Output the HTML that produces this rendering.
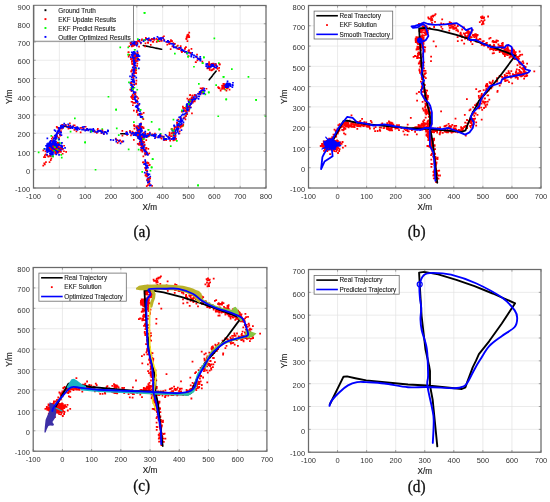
<!DOCTYPE html>
<html><head><meta charset="utf-8"><style>
html,body{margin:0;padding:0;background:#fff;}
svg{display:block;}
#w{width:550px;height:502px;}
.tk{font-family:"Liberation Sans",Arial,sans-serif;font-size:7.5px;fill:#333;}
.al{font-family:"Liberation Sans",Arial,sans-serif;font-size:8.2px;fill:#1a1a1a;stroke:#1a1a1a;stroke-width:0.15px;}
.lg{font-family:"Liberation Sans",Arial,sans-serif;font-size:6.4px;fill:#222;stroke:#222;stroke-width:0.1px;}
.cap{font-family:"Liberation Serif","Times New Roman",serif;font-size:15.3px;fill:#111;stroke:#111;stroke-width:0.3px;}
</style></head><body><div id="w">
<svg width="550" height="502" viewBox="0 0 550 502">
<rect width="550" height="502" fill="#fff"/>
<line x1="59.33" y1="5.50" x2="59.33" y2="188.00" stroke="#e2e2e2" stroke-width="0.7"/>
<line x1="85.17" y1="5.50" x2="85.17" y2="188.00" stroke="#e2e2e2" stroke-width="0.7"/>
<line x1="111.00" y1="5.50" x2="111.00" y2="188.00" stroke="#e2e2e2" stroke-width="0.7"/>
<line x1="136.83" y1="5.50" x2="136.83" y2="188.00" stroke="#e2e2e2" stroke-width="0.7"/>
<line x1="162.67" y1="5.50" x2="162.67" y2="188.00" stroke="#e2e2e2" stroke-width="0.7"/>
<line x1="188.50" y1="5.50" x2="188.50" y2="188.00" stroke="#e2e2e2" stroke-width="0.7"/>
<line x1="214.33" y1="5.50" x2="214.33" y2="188.00" stroke="#e2e2e2" stroke-width="0.7"/>
<line x1="240.17" y1="5.50" x2="240.17" y2="188.00" stroke="#e2e2e2" stroke-width="0.7"/>
<line x1="33.50" y1="169.75" x2="266.00" y2="169.75" stroke="#e2e2e2" stroke-width="0.7"/>
<line x1="33.50" y1="151.50" x2="266.00" y2="151.50" stroke="#e2e2e2" stroke-width="0.7"/>
<line x1="33.50" y1="133.25" x2="266.00" y2="133.25" stroke="#e2e2e2" stroke-width="0.7"/>
<line x1="33.50" y1="115.00" x2="266.00" y2="115.00" stroke="#e2e2e2" stroke-width="0.7"/>
<line x1="33.50" y1="96.75" x2="266.00" y2="96.75" stroke="#e2e2e2" stroke-width="0.7"/>
<line x1="33.50" y1="78.50" x2="266.00" y2="78.50" stroke="#e2e2e2" stroke-width="0.7"/>
<line x1="33.50" y1="60.25" x2="266.00" y2="60.25" stroke="#e2e2e2" stroke-width="0.7"/>
<line x1="33.50" y1="42.00" x2="266.00" y2="42.00" stroke="#e2e2e2" stroke-width="0.7"/>
<line x1="33.50" y1="23.75" x2="266.00" y2="23.75" stroke="#e2e2e2" stroke-width="0.7"/>
<polyline points="143.3,45.5 161.6,49.3" fill="none" stroke="#000" stroke-width="1.6" stroke-linejoin="round" stroke-linecap="round" stroke-dasharray="2.2 0.8"/>
<polyline points="209.2,79.8 216.4,70.7" fill="none" stroke="#000" stroke-width="1.6" stroke-linejoin="round" stroke-linecap="round" stroke-dasharray="2.2 0.8"/>
<polyline points="120.8,133.7 126.0,133.9" fill="none" stroke="#000" stroke-width="1.6" stroke-linejoin="round" stroke-linecap="round" stroke-dasharray="2.2 0.8"/>
<polyline points="64.0,126.3 71.0,127.2" fill="none" stroke="#000" stroke-width="1.6" stroke-linejoin="round" stroke-linecap="round" stroke-dasharray="2.2 0.8"/>
<path d="M202.3 91.3h1.7v1.7h-1.7zM179.3 121.7h1.7v1.7h-1.7zM175.4 128.8h1.7v1.7h-1.7zM172.7 129.9h1.7v1.7h-1.7zM171.8 131.6h1.7v1.7h-1.7zM179.7 117.2h1.7v1.7h-1.7zM187.9 103.1h1.7v1.7h-1.7zM176.0 140.1h1.7v1.7h-1.7zM172.6 118.7h1.7v1.7h-1.7zM171.1 128.6h1.7v1.7h-1.7zM178.3 123.6h1.7v1.7h-1.7zM172.5 134.1h1.7v1.7h-1.7zM181.1 109.8h1.7v1.7h-1.7zM218.0 62.3h1.7v1.7h-1.7zM142.0 117.5h1.7v1.7h-1.7zM143.7 39.0h1.7v1.7h-1.7zM69.7 130.8h1.7v1.7h-1.7zM128.1 81.5h1.7v1.7h-1.7zM139.6 109.1h1.7v1.7h-1.7zM149.6 169.9h1.7v1.7h-1.7zM137.0 38.2h1.7v1.7h-1.7zM189.1 99.8h1.7v1.7h-1.7zM119.4 46.5h1.7v1.7h-1.7zM52.2 146.2h1.7v1.7h-1.7zM207.9 91.5h1.7v1.7h-1.7zM136.4 88.9h1.7v1.7h-1.7zM133.6 86.9h1.7v1.7h-1.7zM157.1 40.0h1.7v1.7h-1.7zM204.5 93.5h1.7v1.7h-1.7zM182.4 124.7h1.7v1.7h-1.7zM133.9 48.9h1.7v1.7h-1.7zM215.3 84.2h1.7v1.7h-1.7zM162.9 136.6h1.7v1.7h-1.7zM90.5 130.5h1.7v1.7h-1.7zM130.4 86.9h1.7v1.7h-1.7zM150.2 134.1h1.7v1.7h-1.7zM187.3 55.7h1.7v1.7h-1.7zM101.4 128.2h1.7v1.7h-1.7zM159.9 132.9h1.7v1.7h-1.7zM151.8 158.2h1.7v1.7h-1.7zM115.9 127.5h1.7v1.7h-1.7zM58.2 138.0h1.7v1.7h-1.7zM150.8 166.5h1.7v1.7h-1.7zM184.8 114.4h1.7v1.7h-1.7zM146.4 135.7h1.7v1.7h-1.7zM132.1 88.2h1.7v1.7h-1.7zM175.8 45.4h1.7v1.7h-1.7zM50.5 135.0h1.7v1.7h-1.7zM127.5 53.8h1.7v1.7h-1.7zM135.6 67.8h1.7v1.7h-1.7zM150.8 121.1h1.7v1.7h-1.7zM222.7 76.1h1.7v1.7h-1.7zM185.3 105.7h1.7v1.7h-1.7zM127.4 46.6h1.7v1.7h-1.7zM142.7 138.2h1.7v1.7h-1.7zM224.4 88.8h1.7v1.7h-1.7zM148.3 178.7h1.7v1.7h-1.7zM52.3 155.6h1.7v1.7h-1.7zM43.4 148.1h1.7v1.7h-1.7zM60.4 154.0h1.7v1.7h-1.7zM53.9 146.2h1.7v1.7h-1.7zM49.9 155.3h1.7v1.7h-1.7zM57.7 138.9h1.7v1.7h-1.7zM53.2 149.9h1.7v1.7h-1.7zM58.4 141.7h1.7v1.7h-1.7zM50.3 149.1h1.7v1.7h-1.7zM56.8 148.9h1.7v1.7h-1.7zM60.9 156.7h1.7v1.7h-1.7zM60.3 142.3h1.7v1.7h-1.7zM186.4 52.3h1.7v1.7h-1.7zM231.0 68.3h1.7v1.7h-1.7zM188.5 108.3h1.7v1.7h-1.7zM158.5 128.6h1.7v1.7h-1.7zM137.8 148.8h1.7v1.7h-1.7zM247.6 76.1h1.7v1.7h-1.7zM201.8 62.3h1.7v1.7h-1.7zM133.0 121.3h1.7v1.7h-1.7zM66.9 136.6h1.7v1.7h-1.7zM225.4 98.6h1.7v1.7h-1.7zM169.9 145.3h1.7v1.7h-1.7zM132.3 78.7h1.7v1.7h-1.7zM203.0 56.6h1.7v1.7h-1.7zM174.0 52.7h1.7v1.7h-1.7zM193.1 65.9h1.7v1.7h-1.7zM147.6 128.9h1.7v1.7h-1.7zM127.8 148.5h1.7v1.7h-1.7zM141.4 171.1h1.7v1.7h-1.7zM255.3 99.0h1.7v1.7h-1.7zM264.6 115.4h1.7v1.7h-1.7zM217.4 115.4h1.7v1.7h-1.7zM197.2 184.6h1.7v1.7h-1.7zM107.6 95.9h1.7v1.7h-1.7zM74.0 117.6h1.7v1.7h-1.7zM143.7 12.0h1.7v1.7h-1.7zM94.7 168.9h1.7v1.7h-1.7zM37.8 151.6h1.7v1.7h-1.7zM115.3 108.7h1.7v1.7h-1.7zM117.9 134.2h1.7v1.7h-1.7zM213.5 37.5h1.7v1.7h-1.7zM84.3 141.5h1.7v1.7h-1.7zM198.0 83.1h1.7v1.7h-1.7z" fill="#0f0"/>
<path d="M57.6 145.9h1.7v1.7h-1.7zM44.7 150.6h1.7v1.7h-1.7zM55.1 146.8h1.7v1.7h-1.7zM54.3 145.2h1.7v1.7h-1.7zM53.7 142.3h1.7v1.7h-1.7zM50.5 148.4h1.7v1.7h-1.7zM54.5 144.9h1.7v1.7h-1.7zM56.5 142.6h1.7v1.7h-1.7zM51.0 143.6h1.7v1.7h-1.7zM55.1 150.4h1.7v1.7h-1.7zM52.5 140.7h1.7v1.7h-1.7zM56.5 148.6h1.7v1.7h-1.7zM42.5 149.5h1.7v1.7h-1.7zM50.0 146.9h1.7v1.7h-1.7zM63.2 144.9h1.7v1.7h-1.7zM54.4 150.1h1.7v1.7h-1.7zM47.8 147.8h1.7v1.7h-1.7zM51.0 137.9h1.7v1.7h-1.7zM51.3 149.1h1.7v1.7h-1.7zM58.0 146.9h1.7v1.7h-1.7zM47.6 143.2h1.7v1.7h-1.7zM51.7 151.3h1.7v1.7h-1.7zM54.5 145.7h1.7v1.7h-1.7zM51.6 145.0h1.7v1.7h-1.7zM56.7 149.9h1.7v1.7h-1.7zM44.0 154.6h1.7v1.7h-1.7zM52.5 143.4h1.7v1.7h-1.7zM57.5 142.9h1.7v1.7h-1.7zM61.2 147.1h1.7v1.7h-1.7zM57.7 151.9h1.7v1.7h-1.7zM56.1 146.0h1.7v1.7h-1.7zM52.6 148.6h1.7v1.7h-1.7zM48.2 146.7h1.7v1.7h-1.7zM58.7 148.3h1.7v1.7h-1.7zM55.4 149.2h1.7v1.7h-1.7zM54.2 150.3h1.7v1.7h-1.7zM54.7 147.9h1.7v1.7h-1.7zM54.4 149.1h1.7v1.7h-1.7zM47.9 148.2h1.7v1.7h-1.7zM57.6 142.3h1.7v1.7h-1.7zM49.9 159.3h1.7v1.7h-1.7zM49.7 155.1h1.7v1.7h-1.7zM48.9 154.9h1.7v1.7h-1.7zM47.3 155.5h1.7v1.7h-1.7zM50.5 157.5h1.7v1.7h-1.7zM44.4 156.4h1.7v1.7h-1.7zM48.7 161.2h1.7v1.7h-1.7zM46.4 154.5h1.7v1.7h-1.7zM47.8 155.9h1.7v1.7h-1.7zM44.9 153.6h1.7v1.7h-1.7zM54.7 135.3h1.7v1.7h-1.7zM100.6 132.2h1.7v1.7h-1.7zM62.9 124.4h1.7v1.7h-1.7zM60.1 130.2h1.7v1.7h-1.7zM101.7 130.6h1.7v1.7h-1.7zM64.9 124.7h1.7v1.7h-1.7zM58.8 131.3h1.7v1.7h-1.7zM52.3 143.4h1.7v1.7h-1.7zM55.3 143.1h1.7v1.7h-1.7zM52.4 143.8h1.7v1.7h-1.7zM73.8 124.6h1.7v1.7h-1.7zM56.3 135.2h1.7v1.7h-1.7zM55.0 137.7h1.7v1.7h-1.7zM82.7 127.5h1.7v1.7h-1.7zM96.7 129.1h1.7v1.7h-1.7zM59.3 127.9h1.7v1.7h-1.7zM51.3 147.4h1.7v1.7h-1.7zM93.9 130.2h1.7v1.7h-1.7zM82.7 128.5h1.7v1.7h-1.7zM79.8 131.6h1.7v1.7h-1.7zM97.0 128.1h1.7v1.7h-1.7zM51.9 141.4h1.7v1.7h-1.7zM52.1 142.8h1.7v1.7h-1.7zM67.6 124.7h1.7v1.7h-1.7zM60.1 125.4h1.7v1.7h-1.7zM80.9 127.1h1.7v1.7h-1.7zM57.8 128.0h1.7v1.7h-1.7zM73.5 129.1h1.7v1.7h-1.7zM85.9 128.0h1.7v1.7h-1.7zM62.1 126.7h1.7v1.7h-1.7zM50.5 144.1h1.7v1.7h-1.7zM64.9 124.0h1.7v1.7h-1.7zM50.5 143.0h1.7v1.7h-1.7zM72.8 124.5h1.7v1.7h-1.7zM51.8 136.3h1.7v1.7h-1.7zM101.5 129.5h1.7v1.7h-1.7zM102.9 133.3h1.7v1.7h-1.7zM75.3 126.5h1.7v1.7h-1.7zM59.5 134.9h1.7v1.7h-1.7zM61.2 126.8h1.7v1.7h-1.7zM52.4 139.6h1.7v1.7h-1.7zM61.1 127.7h1.7v1.7h-1.7zM55.6 134.0h1.7v1.7h-1.7zM59.1 134.2h1.7v1.7h-1.7zM61.3 124.0h1.7v1.7h-1.7zM76.6 128.4h1.7v1.7h-1.7zM75.6 130.6h1.7v1.7h-1.7zM55.9 126.1h1.7v1.7h-1.7zM57.3 132.4h1.7v1.7h-1.7zM86.8 128.8h1.7v1.7h-1.7zM52.7 139.6h1.7v1.7h-1.7zM71.6 125.9h1.7v1.7h-1.7zM85.7 129.2h1.7v1.7h-1.7zM55.9 132.5h1.7v1.7h-1.7zM69.7 125.5h1.7v1.7h-1.7zM56.6 141.8h1.7v1.7h-1.7zM50.4 140.0h1.7v1.7h-1.7zM69.0 122.5h1.7v1.7h-1.7zM98.4 130.1h1.7v1.7h-1.7zM69.3 127.4h1.7v1.7h-1.7zM84.8 125.9h1.7v1.7h-1.7zM56.5 126.8h1.7v1.7h-1.7zM96.0 132.1h1.7v1.7h-1.7zM61.4 126.9h1.7v1.7h-1.7zM94.1 131.0h1.7v1.7h-1.7zM59.6 127.8h1.7v1.7h-1.7zM58.0 136.7h1.7v1.7h-1.7zM103.6 131.2h1.7v1.7h-1.7zM79.7 127.0h1.7v1.7h-1.7zM67.6 127.8h1.7v1.7h-1.7zM45.1 161.3h1.7v1.7h-1.7zM43.7 162.5h1.7v1.7h-1.7zM43.1 156.2h1.7v1.7h-1.7zM44.0 163.5h1.7v1.7h-1.7zM43.4 162.5h1.7v1.7h-1.7zM42.4 164.8h1.7v1.7h-1.7zM119.3 139.5h1.7v1.7h-1.7zM116.3 139.3h1.7v1.7h-1.7zM114.9 137.7h1.7v1.7h-1.7zM115.9 139.2h1.7v1.7h-1.7zM118.8 140.1h1.7v1.7h-1.7zM121.0 141.0h1.7v1.7h-1.7zM121.7 140.7h1.7v1.7h-1.7zM116.8 142.0h1.7v1.7h-1.7zM118.1 140.6h1.7v1.7h-1.7zM121.4 140.5h1.7v1.7h-1.7zM129.8 131.4h1.7v1.7h-1.7zM131.7 130.7h1.7v1.7h-1.7zM155.0 136.4h1.7v1.7h-1.7zM163.2 139.3h1.7v1.7h-1.7zM131.3 132.9h1.7v1.7h-1.7zM170.5 138.2h1.7v1.7h-1.7zM125.6 130.9h1.7v1.7h-1.7zM154.1 132.7h1.7v1.7h-1.7zM139.0 133.8h1.7v1.7h-1.7zM153.3 134.2h1.7v1.7h-1.7zM148.9 131.8h1.7v1.7h-1.7zM137.0 133.2h1.7v1.7h-1.7zM133.5 132.7h1.7v1.7h-1.7zM148.2 135.0h1.7v1.7h-1.7zM168.9 133.3h1.7v1.7h-1.7zM147.9 133.3h1.7v1.7h-1.7zM168.4 137.4h1.7v1.7h-1.7zM129.1 130.0h1.7v1.7h-1.7zM159.9 136.8h1.7v1.7h-1.7zM152.0 134.4h1.7v1.7h-1.7zM143.4 134.3h1.7v1.7h-1.7zM167.7 136.4h1.7v1.7h-1.7zM129.7 131.9h1.7v1.7h-1.7zM167.2 135.9h1.7v1.7h-1.7zM160.8 137.9h1.7v1.7h-1.7zM147.6 134.8h1.7v1.7h-1.7zM143.3 131.7h1.7v1.7h-1.7zM136.5 132.3h1.7v1.7h-1.7zM146.8 133.1h1.7v1.7h-1.7zM151.3 133.4h1.7v1.7h-1.7zM126.2 133.0h1.7v1.7h-1.7zM144.9 133.5h1.7v1.7h-1.7zM142.4 132.5h1.7v1.7h-1.7zM136.9 135.3h1.7v1.7h-1.7zM121.5 130.1h1.7v1.7h-1.7zM121.6 134.7h1.7v1.7h-1.7zM141.3 135.1h1.7v1.7h-1.7zM137.8 135.2h1.7v1.7h-1.7zM138.0 133.9h1.7v1.7h-1.7zM162.1 135.7h1.7v1.7h-1.7zM137.4 130.6h1.7v1.7h-1.7zM147.4 135.6h1.7v1.7h-1.7zM139.0 134.3h1.7v1.7h-1.7zM172.5 139.5h1.7v1.7h-1.7zM142.6 136.5h1.7v1.7h-1.7zM159.7 134.3h1.7v1.7h-1.7zM126.3 134.1h1.7v1.7h-1.7zM168.6 137.9h1.7v1.7h-1.7zM169.3 139.9h1.7v1.7h-1.7zM126.2 134.1h1.7v1.7h-1.7zM162.9 135.8h1.7v1.7h-1.7zM130.1 134.5h1.7v1.7h-1.7zM159.2 134.7h1.7v1.7h-1.7zM148.0 133.4h1.7v1.7h-1.7zM161.3 135.5h1.7v1.7h-1.7zM163.3 138.5h1.7v1.7h-1.7zM132.9 131.9h1.7v1.7h-1.7zM165.2 139.3h1.7v1.7h-1.7zM133.5 132.3h1.7v1.7h-1.7zM168.4 134.4h1.7v1.7h-1.7zM142.3 137.0h1.7v1.7h-1.7zM138.3 126.1h1.7v1.7h-1.7zM142.9 136.9h1.7v1.7h-1.7zM139.0 124.9h1.7v1.7h-1.7zM138.9 142.1h1.7v1.7h-1.7zM138.9 136.4h1.7v1.7h-1.7zM139.6 130.7h1.7v1.7h-1.7zM136.3 129.7h1.7v1.7h-1.7zM137.3 134.3h1.7v1.7h-1.7zM133.7 125.3h1.7v1.7h-1.7zM139.5 139.6h1.7v1.7h-1.7zM135.8 126.9h1.7v1.7h-1.7zM145.4 139.3h1.7v1.7h-1.7zM143.4 141.2h1.7v1.7h-1.7zM133.3 124.4h1.7v1.7h-1.7zM137.1 136.1h1.7v1.7h-1.7zM142.5 137.7h1.7v1.7h-1.7zM141.4 138.9h1.7v1.7h-1.7zM140.5 137.7h1.7v1.7h-1.7zM137.7 126.6h1.7v1.7h-1.7zM135.5 133.4h1.7v1.7h-1.7zM140.6 136.7h1.7v1.7h-1.7zM143.6 136.9h1.7v1.7h-1.7zM137.0 129.3h1.7v1.7h-1.7zM136.3 125.5h1.7v1.7h-1.7zM137.0 133.5h1.7v1.7h-1.7zM137.8 134.3h1.7v1.7h-1.7zM140.6 137.1h1.7v1.7h-1.7zM133.6 127.8h1.7v1.7h-1.7zM137.8 127.2h1.7v1.7h-1.7zM177.4 118.7h1.7v1.7h-1.7zM192.4 100.6h1.7v1.7h-1.7zM177.0 127.0h1.7v1.7h-1.7zM186.5 109.2h1.7v1.7h-1.7zM191.6 94.7h1.7v1.7h-1.7zM201.6 87.6h1.7v1.7h-1.7zM183.1 109.9h1.7v1.7h-1.7zM190.0 106.4h1.7v1.7h-1.7zM179.6 124.5h1.7v1.7h-1.7zM173.4 131.8h1.7v1.7h-1.7zM188.1 110.0h1.7v1.7h-1.7zM199.7 87.4h1.7v1.7h-1.7zM172.7 131.7h1.7v1.7h-1.7zM190.2 102.9h1.7v1.7h-1.7zM176.3 121.8h1.7v1.7h-1.7zM170.1 135.2h1.7v1.7h-1.7zM173.7 127.0h1.7v1.7h-1.7zM201.4 89.6h1.7v1.7h-1.7zM178.9 130.4h1.7v1.7h-1.7zM191.0 97.0h1.7v1.7h-1.7zM193.9 100.5h1.7v1.7h-1.7zM198.6 91.2h1.7v1.7h-1.7zM186.5 97.7h1.7v1.7h-1.7zM175.0 126.3h1.7v1.7h-1.7zM183.5 116.7h1.7v1.7h-1.7zM188.5 105.7h1.7v1.7h-1.7zM176.2 127.1h1.7v1.7h-1.7zM201.3 87.7h1.7v1.7h-1.7zM184.6 118.6h1.7v1.7h-1.7zM189.7 100.5h1.7v1.7h-1.7zM190.7 96.8h1.7v1.7h-1.7zM198.7 91.7h1.7v1.7h-1.7zM177.2 126.6h1.7v1.7h-1.7zM193.8 99.7h1.7v1.7h-1.7zM184.1 109.5h1.7v1.7h-1.7zM168.7 131.8h1.7v1.7h-1.7zM187.0 106.6h1.7v1.7h-1.7zM178.6 132.6h1.7v1.7h-1.7zM175.8 126.2h1.7v1.7h-1.7zM187.9 99.2h1.7v1.7h-1.7zM176.4 123.4h1.7v1.7h-1.7zM180.2 117.4h1.7v1.7h-1.7zM180.3 124.1h1.7v1.7h-1.7zM186.1 105.6h1.7v1.7h-1.7zM193.9 94.2h1.7v1.7h-1.7zM182.4 123.5h1.7v1.7h-1.7zM184.8 107.2h1.7v1.7h-1.7zM181.7 110.5h1.7v1.7h-1.7zM180.9 110.8h1.7v1.7h-1.7zM186.1 113.4h1.7v1.7h-1.7zM179.5 126.1h1.7v1.7h-1.7zM174.0 139.1h1.7v1.7h-1.7zM180.5 119.5h1.7v1.7h-1.7zM194.8 97.6h1.7v1.7h-1.7zM189.1 98.4h1.7v1.7h-1.7zM191.1 112.5h1.7v1.7h-1.7zM201.1 92.1h1.7v1.7h-1.7zM181.0 125.5h1.7v1.7h-1.7zM182.4 107.3h1.7v1.7h-1.7zM185.4 110.6h1.7v1.7h-1.7zM205.6 87.9h1.7v1.7h-1.7zM180.0 118.0h1.7v1.7h-1.7zM188.1 108.8h1.7v1.7h-1.7zM189.7 99.5h1.7v1.7h-1.7zM170.8 128.2h1.7v1.7h-1.7zM189.0 100.2h1.7v1.7h-1.7zM183.4 107.1h1.7v1.7h-1.7zM189.0 104.2h1.7v1.7h-1.7zM188.0 102.3h1.7v1.7h-1.7zM189.3 94.2h1.7v1.7h-1.7zM188.4 106.8h1.7v1.7h-1.7zM179.7 126.9h1.7v1.7h-1.7zM193.0 98.1h1.7v1.7h-1.7zM195.5 95.7h1.7v1.7h-1.7zM174.4 135.0h1.7v1.7h-1.7zM201.6 88.3h1.7v1.7h-1.7zM197.5 93.0h1.7v1.7h-1.7zM187.5 105.5h1.7v1.7h-1.7zM182.0 105.8h1.7v1.7h-1.7zM177.5 125.9h1.7v1.7h-1.7zM185.6 112.0h1.7v1.7h-1.7zM181.8 124.7h1.7v1.7h-1.7zM174.5 133.6h1.7v1.7h-1.7zM180.9 125.1h1.7v1.7h-1.7zM201.7 90.9h1.7v1.7h-1.7zM180.0 119.7h1.7v1.7h-1.7zM171.0 135.2h1.7v1.7h-1.7zM185.3 109.7h1.7v1.7h-1.7zM202.1 87.3h1.7v1.7h-1.7zM170.9 132.6h1.7v1.7h-1.7zM173.3 128.7h1.7v1.7h-1.7zM191.0 98.5h1.7v1.7h-1.7zM176.4 128.9h1.7v1.7h-1.7zM199.6 93.5h1.7v1.7h-1.7zM185.0 115.2h1.7v1.7h-1.7zM192.0 101.8h1.7v1.7h-1.7zM174.1 136.6h1.7v1.7h-1.7zM176.6 129.6h1.7v1.7h-1.7zM197.8 92.7h1.7v1.7h-1.7zM175.3 137.9h1.7v1.7h-1.7zM228.7 88.7h1.7v1.7h-1.7zM221.2 85.0h1.7v1.7h-1.7zM221.5 84.8h1.7v1.7h-1.7zM223.6 87.5h1.7v1.7h-1.7zM223.1 86.5h1.7v1.7h-1.7zM225.6 89.9h1.7v1.7h-1.7zM225.2 83.5h1.7v1.7h-1.7zM224.3 85.3h1.7v1.7h-1.7zM222.0 85.1h1.7v1.7h-1.7zM223.3 87.8h1.7v1.7h-1.7zM219.8 89.5h1.7v1.7h-1.7zM225.2 85.4h1.7v1.7h-1.7zM227.4 85.3h1.7v1.7h-1.7zM226.1 87.9h1.7v1.7h-1.7zM217.5 86.6h1.7v1.7h-1.7zM222.7 85.1h1.7v1.7h-1.7zM223.3 86.0h1.7v1.7h-1.7zM223.9 85.3h1.7v1.7h-1.7zM224.5 85.2h1.7v1.7h-1.7zM222.1 85.8h1.7v1.7h-1.7zM218.8 87.5h1.7v1.7h-1.7zM222.9 85.0h1.7v1.7h-1.7zM221.2 88.0h1.7v1.7h-1.7zM227.0 87.1h1.7v1.7h-1.7zM218.0 87.3h1.7v1.7h-1.7zM219.8 89.7h1.7v1.7h-1.7zM222.5 82.9h1.7v1.7h-1.7zM221.3 87.0h1.7v1.7h-1.7zM227.6 85.6h1.7v1.7h-1.7zM223.4 83.5h1.7v1.7h-1.7zM211.2 65.1h1.7v1.7h-1.7zM207.4 67.3h1.7v1.7h-1.7zM208.2 61.2h1.7v1.7h-1.7zM212.3 62.7h1.7v1.7h-1.7zM218.8 63.6h1.7v1.7h-1.7zM216.0 66.7h1.7v1.7h-1.7zM208.2 62.6h1.7v1.7h-1.7zM216.6 68.0h1.7v1.7h-1.7zM215.3 65.1h1.7v1.7h-1.7zM214.0 63.7h1.7v1.7h-1.7zM218.3 67.1h1.7v1.7h-1.7zM210.9 63.0h1.7v1.7h-1.7zM209.9 64.6h1.7v1.7h-1.7zM210.6 69.5h1.7v1.7h-1.7zM208.8 63.8h1.7v1.7h-1.7zM208.8 69.1h1.7v1.7h-1.7zM209.0 65.5h1.7v1.7h-1.7zM212.8 65.0h1.7v1.7h-1.7zM213.0 68.1h1.7v1.7h-1.7zM208.6 67.4h1.7v1.7h-1.7zM209.3 64.8h1.7v1.7h-1.7zM216.1 66.3h1.7v1.7h-1.7zM215.1 63.3h1.7v1.7h-1.7zM206.5 67.5h1.7v1.7h-1.7zM211.6 68.8h1.7v1.7h-1.7zM218.2 69.8h1.7v1.7h-1.7zM206.2 64.0h1.7v1.7h-1.7zM208.1 64.2h1.7v1.7h-1.7zM207.2 63.4h1.7v1.7h-1.7zM208.7 64.2h1.7v1.7h-1.7zM155.9 41.1h1.7v1.7h-1.7zM156.5 38.7h1.7v1.7h-1.7zM166.4 43.7h1.7v1.7h-1.7zM151.7 38.6h1.7v1.7h-1.7zM153.4 38.9h1.7v1.7h-1.7zM147.6 38.7h1.7v1.7h-1.7zM179.9 47.9h1.7v1.7h-1.7zM170.1 39.2h1.7v1.7h-1.7zM171.5 45.6h1.7v1.7h-1.7zM148.4 38.9h1.7v1.7h-1.7zM160.6 39.2h1.7v1.7h-1.7zM188.1 49.2h1.7v1.7h-1.7zM163.1 35.4h1.7v1.7h-1.7zM172.4 42.3h1.7v1.7h-1.7zM185.0 46.4h1.7v1.7h-1.7zM145.0 38.5h1.7v1.7h-1.7zM184.1 51.4h1.7v1.7h-1.7zM178.5 47.7h1.7v1.7h-1.7zM169.8 48.2h1.7v1.7h-1.7zM147.3 41.7h1.7v1.7h-1.7zM187.5 49.9h1.7v1.7h-1.7zM160.9 40.1h1.7v1.7h-1.7zM138.9 40.7h1.7v1.7h-1.7zM196.2 53.7h1.7v1.7h-1.7zM151.5 38.0h1.7v1.7h-1.7zM187.8 55.3h1.7v1.7h-1.7zM190.6 48.1h1.7v1.7h-1.7zM139.9 42.6h1.7v1.7h-1.7zM156.7 39.4h1.7v1.7h-1.7zM181.0 51.1h1.7v1.7h-1.7zM180.6 49.9h1.7v1.7h-1.7zM141.0 39.3h1.7v1.7h-1.7zM146.9 41.7h1.7v1.7h-1.7zM152.4 41.1h1.7v1.7h-1.7zM171.0 40.2h1.7v1.7h-1.7zM150.4 38.8h1.7v1.7h-1.7zM196.5 59.6h1.7v1.7h-1.7zM148.7 39.2h1.7v1.7h-1.7zM158.9 40.4h1.7v1.7h-1.7zM178.3 48.3h1.7v1.7h-1.7zM144.6 42.5h1.7v1.7h-1.7zM174.1 43.0h1.7v1.7h-1.7zM159.5 38.1h1.7v1.7h-1.7zM198.5 58.6h1.7v1.7h-1.7zM187.9 50.1h1.7v1.7h-1.7zM163.1 38.8h1.7v1.7h-1.7zM201.5 60.7h1.7v1.7h-1.7zM155.6 38.1h1.7v1.7h-1.7zM184.1 47.5h1.7v1.7h-1.7zM194.9 61.4h1.7v1.7h-1.7zM157.7 40.3h1.7v1.7h-1.7zM144.3 45.5h1.7v1.7h-1.7zM177.0 44.8h1.7v1.7h-1.7zM165.4 41.1h1.7v1.7h-1.7zM184.1 47.8h1.7v1.7h-1.7zM167.3 39.9h1.7v1.7h-1.7zM149.9 44.1h1.7v1.7h-1.7zM175.4 46.0h1.7v1.7h-1.7zM198.6 57.7h1.7v1.7h-1.7zM137.5 40.1h1.7v1.7h-1.7zM161.9 36.6h1.7v1.7h-1.7zM179.8 45.2h1.7v1.7h-1.7zM176.4 47.7h1.7v1.7h-1.7zM141.2 38.6h1.7v1.7h-1.7zM189.7 51.9h1.7v1.7h-1.7zM145.0 37.1h1.7v1.7h-1.7zM169.4 40.7h1.7v1.7h-1.7zM195.4 56.2h1.7v1.7h-1.7zM151.9 40.9h1.7v1.7h-1.7zM168.4 42.8h1.7v1.7h-1.7zM187.1 35.6h1.7v1.7h-1.7zM186.6 40.2h1.7v1.7h-1.7zM188.4 36.3h1.7v1.7h-1.7zM187.3 33.7h1.7v1.7h-1.7zM185.6 38.1h1.7v1.7h-1.7zM188.4 31.7h1.7v1.7h-1.7zM185.8 36.2h1.7v1.7h-1.7zM187.6 36.3h1.7v1.7h-1.7zM188.0 34.7h1.7v1.7h-1.7zM186.6 34.5h1.7v1.7h-1.7zM135.9 54.0h1.7v1.7h-1.7zM132.2 55.7h1.7v1.7h-1.7zM136.8 52.0h1.7v1.7h-1.7zM135.7 60.4h1.7v1.7h-1.7zM127.7 51.4h1.7v1.7h-1.7zM134.7 52.5h1.7v1.7h-1.7zM134.4 56.7h1.7v1.7h-1.7zM134.1 56.1h1.7v1.7h-1.7zM136.5 53.8h1.7v1.7h-1.7zM130.8 57.9h1.7v1.7h-1.7zM135.4 53.7h1.7v1.7h-1.7zM133.7 55.1h1.7v1.7h-1.7zM130.1 58.2h1.7v1.7h-1.7zM134.3 60.7h1.7v1.7h-1.7zM134.2 54.5h1.7v1.7h-1.7zM134.6 53.8h1.7v1.7h-1.7zM137.5 55.2h1.7v1.7h-1.7zM131.1 60.3h1.7v1.7h-1.7zM127.8 55.7h1.7v1.7h-1.7zM135.1 60.3h1.7v1.7h-1.7zM133.4 57.8h1.7v1.7h-1.7zM132.4 55.4h1.7v1.7h-1.7zM133.1 59.0h1.7v1.7h-1.7zM134.8 56.3h1.7v1.7h-1.7zM128.6 54.0h1.7v1.7h-1.7zM136.7 57.0h1.7v1.7h-1.7zM136.8 60.0h1.7v1.7h-1.7zM132.4 52.6h1.7v1.7h-1.7zM136.1 54.6h1.7v1.7h-1.7zM135.5 57.0h1.7v1.7h-1.7zM134.7 53.5h1.7v1.7h-1.7zM135.3 55.0h1.7v1.7h-1.7zM135.0 54.8h1.7v1.7h-1.7zM134.5 59.9h1.7v1.7h-1.7zM134.4 58.4h1.7v1.7h-1.7zM132.2 55.8h1.7v1.7h-1.7zM133.6 59.3h1.7v1.7h-1.7zM131.8 55.3h1.7v1.7h-1.7zM132.1 55.9h1.7v1.7h-1.7zM133.6 55.4h1.7v1.7h-1.7zM132.3 43.8h1.7v1.7h-1.7zM131.0 45.6h1.7v1.7h-1.7zM133.6 44.4h1.7v1.7h-1.7zM136.1 43.1h1.7v1.7h-1.7zM129.8 42.2h1.7v1.7h-1.7zM131.2 43.9h1.7v1.7h-1.7zM131.6 44.5h1.7v1.7h-1.7zM132.6 45.0h1.7v1.7h-1.7zM132.3 43.7h1.7v1.7h-1.7zM135.7 42.2h1.7v1.7h-1.7zM138.2 45.7h1.7v1.7h-1.7zM133.1 41.5h1.7v1.7h-1.7zM131.4 43.5h1.7v1.7h-1.7zM135.7 41.0h1.7v1.7h-1.7zM135.4 42.8h1.7v1.7h-1.7zM133.6 42.4h1.7v1.7h-1.7zM134.2 42.8h1.7v1.7h-1.7zM132.5 43.5h1.7v1.7h-1.7zM131.9 44.9h1.7v1.7h-1.7zM132.0 44.5h1.7v1.7h-1.7zM132.4 44.1h1.7v1.7h-1.7zM130.5 42.8h1.7v1.7h-1.7zM134.7 41.0h1.7v1.7h-1.7zM128.5 45.4h1.7v1.7h-1.7zM131.7 44.6h1.7v1.7h-1.7zM131.5 96.3h1.7v1.7h-1.7zM132.6 96.4h1.7v1.7h-1.7zM133.0 109.8h1.7v1.7h-1.7zM142.5 118.3h1.7v1.7h-1.7zM134.0 101.9h1.7v1.7h-1.7zM131.9 72.8h1.7v1.7h-1.7zM131.9 98.2h1.7v1.7h-1.7zM132.2 87.3h1.7v1.7h-1.7zM136.9 102.7h1.7v1.7h-1.7zM130.3 82.1h1.7v1.7h-1.7zM135.0 101.1h1.7v1.7h-1.7zM135.9 111.4h1.7v1.7h-1.7zM129.4 88.8h1.7v1.7h-1.7zM133.4 84.0h1.7v1.7h-1.7zM131.9 95.0h1.7v1.7h-1.7zM132.9 65.6h1.7v1.7h-1.7zM142.8 112.0h1.7v1.7h-1.7zM140.9 116.5h1.7v1.7h-1.7zM133.7 68.0h1.7v1.7h-1.7zM135.3 82.7h1.7v1.7h-1.7zM137.5 109.1h1.7v1.7h-1.7zM134.7 91.5h1.7v1.7h-1.7zM133.6 92.9h1.7v1.7h-1.7zM136.3 99.5h1.7v1.7h-1.7zM130.5 70.6h1.7v1.7h-1.7zM131.5 101.0h1.7v1.7h-1.7zM132.0 104.4h1.7v1.7h-1.7zM131.9 74.0h1.7v1.7h-1.7zM137.4 97.6h1.7v1.7h-1.7zM135.1 69.6h1.7v1.7h-1.7zM132.8 79.2h1.7v1.7h-1.7zM136.0 110.1h1.7v1.7h-1.7zM130.7 90.3h1.7v1.7h-1.7zM135.1 95.2h1.7v1.7h-1.7zM135.2 72.4h1.7v1.7h-1.7zM132.4 102.1h1.7v1.7h-1.7zM133.6 98.4h1.7v1.7h-1.7zM136.3 109.6h1.7v1.7h-1.7zM135.5 79.7h1.7v1.7h-1.7zM132.5 76.6h1.7v1.7h-1.7zM130.9 85.4h1.7v1.7h-1.7zM133.4 83.8h1.7v1.7h-1.7zM133.3 72.7h1.7v1.7h-1.7zM130.7 100.9h1.7v1.7h-1.7zM137.0 113.7h1.7v1.7h-1.7zM140.9 113.2h1.7v1.7h-1.7zM136.1 96.1h1.7v1.7h-1.7zM132.1 83.5h1.7v1.7h-1.7zM138.1 104.1h1.7v1.7h-1.7zM134.4 93.0h1.7v1.7h-1.7zM131.9 75.1h1.7v1.7h-1.7zM130.3 96.0h1.7v1.7h-1.7zM132.0 88.3h1.7v1.7h-1.7zM139.2 113.8h1.7v1.7h-1.7zM131.1 96.8h1.7v1.7h-1.7zM131.2 68.7h1.7v1.7h-1.7zM131.8 93.8h1.7v1.7h-1.7zM134.0 71.1h1.7v1.7h-1.7zM133.1 81.0h1.7v1.7h-1.7zM135.2 72.2h1.7v1.7h-1.7zM133.0 62.6h1.7v1.7h-1.7zM133.5 62.0h1.7v1.7h-1.7zM136.5 62.9h1.7v1.7h-1.7zM134.2 68.6h1.7v1.7h-1.7zM131.0 60.7h1.7v1.7h-1.7zM132.3 59.4h1.7v1.7h-1.7zM133.2 66.3h1.7v1.7h-1.7zM133.4 63.7h1.7v1.7h-1.7zM136.2 65.1h1.7v1.7h-1.7zM131.5 63.1h1.7v1.7h-1.7zM135.0 58.3h1.7v1.7h-1.7zM136.4 62.7h1.7v1.7h-1.7zM145.7 153.1h1.7v1.7h-1.7zM138.8 127.8h1.7v1.7h-1.7zM138.5 143.8h1.7v1.7h-1.7zM139.5 129.7h1.7v1.7h-1.7zM138.6 124.9h1.7v1.7h-1.7zM145.5 150.8h1.7v1.7h-1.7zM145.6 153.5h1.7v1.7h-1.7zM137.1 134.0h1.7v1.7h-1.7zM139.5 124.7h1.7v1.7h-1.7zM137.3 137.0h1.7v1.7h-1.7zM147.0 153.3h1.7v1.7h-1.7zM141.1 146.4h1.7v1.7h-1.7zM140.8 145.6h1.7v1.7h-1.7zM139.0 132.6h1.7v1.7h-1.7zM139.4 127.5h1.7v1.7h-1.7zM140.2 140.5h1.7v1.7h-1.7zM144.4 153.9h1.7v1.7h-1.7zM140.6 149.5h1.7v1.7h-1.7zM138.6 143.4h1.7v1.7h-1.7zM141.1 140.3h1.7v1.7h-1.7zM138.3 129.0h1.7v1.7h-1.7zM141.8 145.6h1.7v1.7h-1.7zM138.3 130.5h1.7v1.7h-1.7zM140.4 144.4h1.7v1.7h-1.7zM142.4 144.9h1.7v1.7h-1.7zM138.2 143.8h1.7v1.7h-1.7zM133.0 139.1h1.7v1.7h-1.7zM140.9 149.4h1.7v1.7h-1.7zM143.6 148.9h1.7v1.7h-1.7zM139.8 124.0h1.7v1.7h-1.7zM144.8 149.3h1.7v1.7h-1.7zM141.6 139.8h1.7v1.7h-1.7zM143.6 143.7h1.7v1.7h-1.7zM141.2 126.0h1.7v1.7h-1.7zM140.4 143.7h1.7v1.7h-1.7zM141.1 134.0h1.7v1.7h-1.7zM148.4 152.6h1.7v1.7h-1.7zM145.5 147.0h1.7v1.7h-1.7zM139.6 131.2h1.7v1.7h-1.7zM137.3 131.6h1.7v1.7h-1.7zM142.6 126.5h1.7v1.7h-1.7zM145.2 147.5h1.7v1.7h-1.7zM144.4 152.5h1.7v1.7h-1.7zM147.5 148.1h1.7v1.7h-1.7zM142.6 148.8h1.7v1.7h-1.7zM139.8 138.7h1.7v1.7h-1.7zM136.3 128.2h1.7v1.7h-1.7zM140.7 126.1h1.7v1.7h-1.7zM140.2 148.7h1.7v1.7h-1.7zM140.2 122.6h1.7v1.7h-1.7zM142.8 145.6h1.7v1.7h-1.7zM136.3 132.1h1.7v1.7h-1.7zM142.6 127.4h1.7v1.7h-1.7zM142.5 155.5h1.7v1.7h-1.7zM138.3 127.8h1.7v1.7h-1.7zM141.6 150.9h1.7v1.7h-1.7zM146.1 152.0h1.7v1.7h-1.7zM141.0 135.8h1.7v1.7h-1.7zM139.0 131.3h1.7v1.7h-1.7zM139.9 123.5h1.7v1.7h-1.7zM138.1 131.4h1.7v1.7h-1.7zM142.6 148.1h1.7v1.7h-1.7zM142.2 141.4h1.7v1.7h-1.7zM139.1 124.2h1.7v1.7h-1.7zM136.9 143.0h1.7v1.7h-1.7zM146.4 174.5h1.7v1.7h-1.7zM148.5 182.2h1.7v1.7h-1.7zM146.5 161.7h1.7v1.7h-1.7zM146.4 165.8h1.7v1.7h-1.7zM148.1 164.4h1.7v1.7h-1.7zM146.4 170.0h1.7v1.7h-1.7zM145.3 172.8h1.7v1.7h-1.7zM148.6 182.9h1.7v1.7h-1.7zM142.0 161.5h1.7v1.7h-1.7zM148.9 164.1h1.7v1.7h-1.7zM147.2 180.1h1.7v1.7h-1.7zM146.3 170.7h1.7v1.7h-1.7zM146.7 178.8h1.7v1.7h-1.7zM145.9 185.3h1.7v1.7h-1.7zM143.7 163.3h1.7v1.7h-1.7zM146.3 175.6h1.7v1.7h-1.7zM151.2 185.1h1.7v1.7h-1.7zM147.3 178.3h1.7v1.7h-1.7zM145.0 169.3h1.7v1.7h-1.7zM147.2 181.4h1.7v1.7h-1.7zM143.0 161.2h1.7v1.7h-1.7zM147.1 184.3h1.7v1.7h-1.7zM147.5 162.3h1.7v1.7h-1.7zM144.6 174.6h1.7v1.7h-1.7zM146.4 169.7h1.7v1.7h-1.7zM145.6 165.9h1.7v1.7h-1.7zM144.2 167.0h1.7v1.7h-1.7zM149.3 177.5h1.7v1.7h-1.7zM145.6 175.5h1.7v1.7h-1.7zM145.0 168.4h1.7v1.7h-1.7z" fill="#f00"/>
<path d="M47.9 146.0h1.7v1.7h-1.7zM55.9 148.4h1.7v1.7h-1.7zM47.5 147.2h1.7v1.7h-1.7zM54.0 144.0h1.7v1.7h-1.7zM47.9 150.5h1.7v1.7h-1.7zM54.8 145.7h1.7v1.7h-1.7zM57.8 144.3h1.7v1.7h-1.7zM51.9 147.8h1.7v1.7h-1.7zM61.6 147.8h1.7v1.7h-1.7zM49.4 150.1h1.7v1.7h-1.7zM52.6 146.6h1.7v1.7h-1.7zM51.0 147.2h1.7v1.7h-1.7zM53.3 145.1h1.7v1.7h-1.7zM56.3 146.4h1.7v1.7h-1.7zM45.8 145.1h1.7v1.7h-1.7zM47.1 147.5h1.7v1.7h-1.7zM47.0 147.0h1.7v1.7h-1.7zM49.5 146.4h1.7v1.7h-1.7zM64.2 147.1h1.7v1.7h-1.7zM55.3 150.6h1.7v1.7h-1.7zM51.2 145.2h1.7v1.7h-1.7zM51.9 146.0h1.7v1.7h-1.7zM52.7 149.8h1.7v1.7h-1.7zM54.3 149.2h1.7v1.7h-1.7zM59.1 148.4h1.7v1.7h-1.7zM54.8 147.0h1.7v1.7h-1.7zM55.7 148.6h1.7v1.7h-1.7zM55.9 147.3h1.7v1.7h-1.7zM56.9 145.3h1.7v1.7h-1.7zM52.8 149.1h1.7v1.7h-1.7zM55.1 145.7h1.7v1.7h-1.7zM58.2 148.0h1.7v1.7h-1.7zM54.3 145.6h1.7v1.7h-1.7zM53.3 146.4h1.7v1.7h-1.7zM52.9 148.6h1.7v1.7h-1.7zM48.6 148.1h1.7v1.7h-1.7zM54.4 142.9h1.7v1.7h-1.7zM55.8 144.1h1.7v1.7h-1.7zM55.1 145.1h1.7v1.7h-1.7zM52.9 144.9h1.7v1.7h-1.7zM58.7 147.9h1.7v1.7h-1.7zM49.8 141.6h1.7v1.7h-1.7zM53.2 144.3h1.7v1.7h-1.7zM55.4 150.1h1.7v1.7h-1.7zM61.1 142.1h1.7v1.7h-1.7zM52.9 144.9h1.7v1.7h-1.7zM52.7 149.4h1.7v1.7h-1.7zM51.9 146.0h1.7v1.7h-1.7zM56.3 145.1h1.7v1.7h-1.7zM52.5 143.3h1.7v1.7h-1.7zM49.5 144.8h1.7v1.7h-1.7zM56.3 147.8h1.7v1.7h-1.7zM45.8 149.5h1.7v1.7h-1.7zM53.1 145.6h1.7v1.7h-1.7zM57.9 149.7h1.7v1.7h-1.7zM52.3 145.2h1.7v1.7h-1.7zM51.7 153.5h1.7v1.7h-1.7zM55.2 140.7h1.7v1.7h-1.7zM55.9 149.5h1.7v1.7h-1.7zM50.8 146.4h1.7v1.7h-1.7zM61.3 145.3h1.7v1.7h-1.7zM52.7 142.7h1.7v1.7h-1.7zM52.0 141.9h1.7v1.7h-1.7zM49.8 148.3h1.7v1.7h-1.7zM54.9 143.1h1.7v1.7h-1.7zM54.6 146.2h1.7v1.7h-1.7zM45.7 149.0h1.7v1.7h-1.7zM50.1 148.5h1.7v1.7h-1.7zM54.4 147.9h1.7v1.7h-1.7zM55.1 146.8h1.7v1.7h-1.7zM51.1 146.7h1.7v1.7h-1.7zM53.8 144.7h1.7v1.7h-1.7zM50.6 147.6h1.7v1.7h-1.7zM47.4 142.6h1.7v1.7h-1.7zM57.5 147.5h1.7v1.7h-1.7zM50.6 150.4h1.7v1.7h-1.7zM52.9 146.4h1.7v1.7h-1.7zM60.2 146.3h1.7v1.7h-1.7zM49.5 153.7h1.7v1.7h-1.7zM57.4 146.5h1.7v1.7h-1.7zM46.5 146.5h1.7v1.7h-1.7zM46.5 137.5h1.7v1.7h-1.7zM56.3 145.4h1.7v1.7h-1.7zM51.7 152.9h1.7v1.7h-1.7zM51.8 151.3h1.7v1.7h-1.7zM54.4 152.9h1.7v1.7h-1.7zM49.0 143.7h1.7v1.7h-1.7zM58.2 150.2h1.7v1.7h-1.7zM46.7 144.6h1.7v1.7h-1.7zM55.4 149.7h1.7v1.7h-1.7zM49.8 148.9h1.7v1.7h-1.7zM48.0 148.9h1.7v1.7h-1.7zM56.8 145.1h1.7v1.7h-1.7zM59.7 147.2h1.7v1.7h-1.7zM51.8 149.7h1.7v1.7h-1.7zM51.8 150.6h1.7v1.7h-1.7zM45.9 145.1h1.7v1.7h-1.7zM57.5 144.7h1.7v1.7h-1.7zM57.1 146.3h1.7v1.7h-1.7zM49.7 146.8h1.7v1.7h-1.7zM50.9 150.0h1.7v1.7h-1.7zM46.2 151.1h1.7v1.7h-1.7zM52.3 146.6h1.7v1.7h-1.7zM50.6 143.1h1.7v1.7h-1.7zM52.9 145.4h1.7v1.7h-1.7zM56.7 149.2h1.7v1.7h-1.7zM45.2 144.9h1.7v1.7h-1.7zM49.8 143.4h1.7v1.7h-1.7zM53.5 144.2h1.7v1.7h-1.7zM55.0 152.7h1.7v1.7h-1.7zM54.9 148.8h1.7v1.7h-1.7zM49.5 148.2h1.7v1.7h-1.7zM55.1 144.6h1.7v1.7h-1.7zM55.9 151.5h1.7v1.7h-1.7zM50.1 153.5h1.7v1.7h-1.7zM51.9 145.4h1.7v1.7h-1.7zM49.5 146.3h1.7v1.7h-1.7zM53.1 144.2h1.7v1.7h-1.7zM49.3 149.3h1.7v1.7h-1.7zM49.5 142.2h1.7v1.7h-1.7zM56.2 147.3h1.7v1.7h-1.7zM53.1 146.7h1.7v1.7h-1.7zM53.0 147.6h1.7v1.7h-1.7zM51.1 150.4h1.7v1.7h-1.7zM50.0 142.5h1.7v1.7h-1.7zM54.2 146.8h1.7v1.7h-1.7zM51.5 146.8h1.7v1.7h-1.7zM53.6 148.8h1.7v1.7h-1.7zM53.0 146.3h1.7v1.7h-1.7zM49.6 149.2h1.7v1.7h-1.7zM48.7 149.9h1.7v1.7h-1.7zM55.5 153.5h1.7v1.7h-1.7zM51.3 148.7h1.7v1.7h-1.7zM50.0 146.7h1.7v1.7h-1.7zM56.4 146.8h1.7v1.7h-1.7zM51.8 148.7h1.7v1.7h-1.7zM51.8 144.5h1.7v1.7h-1.7zM50.9 150.1h1.7v1.7h-1.7zM47.7 150.0h1.7v1.7h-1.7zM47.3 144.0h1.7v1.7h-1.7zM53.6 147.6h1.7v1.7h-1.7zM57.6 148.8h1.7v1.7h-1.7zM55.0 144.8h1.7v1.7h-1.7zM46.7 151.3h1.7v1.7h-1.7zM48.9 144.5h1.7v1.7h-1.7zM57.0 150.4h1.7v1.7h-1.7zM56.1 148.0h1.7v1.7h-1.7zM50.9 148.5h1.7v1.7h-1.7zM51.1 152.0h1.7v1.7h-1.7zM48.7 150.4h1.7v1.7h-1.7zM54.1 141.3h1.7v1.7h-1.7zM62.2 147.9h1.7v1.7h-1.7zM46.1 148.1h1.7v1.7h-1.7zM48.9 141.6h1.7v1.7h-1.7zM54.3 149.0h1.7v1.7h-1.7zM55.7 145.5h1.7v1.7h-1.7zM46.4 148.5h1.7v1.7h-1.7zM51.4 146.9h1.7v1.7h-1.7zM52.8 147.9h1.7v1.7h-1.7zM53.0 148.6h1.7v1.7h-1.7zM49.0 142.9h1.7v1.7h-1.7zM53.6 145.8h1.7v1.7h-1.7zM46.5 147.5h1.7v1.7h-1.7zM55.2 150.5h1.7v1.7h-1.7zM56.3 148.1h1.7v1.7h-1.7zM53.7 147.4h1.7v1.7h-1.7zM53.1 143.7h1.7v1.7h-1.7zM50.8 142.7h1.7v1.7h-1.7zM49.5 149.6h1.7v1.7h-1.7zM54.9 149.9h1.7v1.7h-1.7zM50.9 144.5h1.7v1.7h-1.7zM56.7 151.9h1.7v1.7h-1.7zM54.1 141.8h1.7v1.7h-1.7zM56.6 147.7h1.7v1.7h-1.7zM50.1 147.8h1.7v1.7h-1.7zM48.1 147.7h1.7v1.7h-1.7zM51.6 147.4h1.7v1.7h-1.7zM56.6 147.6h1.7v1.7h-1.7zM47.0 144.1h1.7v1.7h-1.7zM48.4 148.2h1.7v1.7h-1.7zM51.8 147.9h1.7v1.7h-1.7zM48.7 147.7h1.7v1.7h-1.7zM60.2 148.7h1.7v1.7h-1.7zM51.8 143.9h1.7v1.7h-1.7zM55.0 144.9h1.7v1.7h-1.7zM55.4 152.4h1.7v1.7h-1.7zM49.2 146.6h1.7v1.7h-1.7zM54.1 143.5h1.7v1.7h-1.7zM54.0 147.7h1.7v1.7h-1.7zM52.4 147.6h1.7v1.7h-1.7zM53.2 145.2h1.7v1.7h-1.7zM51.1 149.2h1.7v1.7h-1.7zM49.2 144.0h1.7v1.7h-1.7zM56.9 144.3h1.7v1.7h-1.7zM55.4 144.7h1.7v1.7h-1.7zM52.3 145.2h1.7v1.7h-1.7zM48.5 147.6h1.7v1.7h-1.7zM49.6 145.0h1.7v1.7h-1.7zM50.2 147.3h1.7v1.7h-1.7zM53.7 143.3h1.7v1.7h-1.7zM49.4 149.6h1.7v1.7h-1.7zM55.2 150.0h1.7v1.7h-1.7zM53.9 148.6h1.7v1.7h-1.7zM51.9 152.0h1.7v1.7h-1.7zM54.9 148.4h1.7v1.7h-1.7zM49.0 141.3h1.7v1.7h-1.7zM54.9 137.4h1.7v1.7h-1.7zM53.8 148.0h1.7v1.7h-1.7zM52.7 142.6h1.7v1.7h-1.7zM52.2 145.8h1.7v1.7h-1.7zM54.2 149.5h1.7v1.7h-1.7zM52.7 148.4h1.7v1.7h-1.7zM47.8 144.6h1.7v1.7h-1.7zM54.7 146.8h1.7v1.7h-1.7zM49.0 152.5h1.7v1.7h-1.7zM54.0 147.3h1.7v1.7h-1.7zM46.2 147.2h1.7v1.7h-1.7zM46.8 147.1h1.7v1.7h-1.7zM52.8 146.0h1.7v1.7h-1.7zM53.1 146.5h1.7v1.7h-1.7zM48.2 148.1h1.7v1.7h-1.7zM50.4 147.6h1.7v1.7h-1.7zM53.3 145.3h1.7v1.7h-1.7zM58.2 154.0h1.7v1.7h-1.7zM53.7 147.5h1.7v1.7h-1.7zM60.5 144.4h1.7v1.7h-1.7zM46.3 145.9h1.7v1.7h-1.7zM50.4 144.3h1.7v1.7h-1.7zM48.5 147.3h1.7v1.7h-1.7zM51.8 147.3h1.7v1.7h-1.7zM50.2 152.0h1.7v1.7h-1.7zM53.9 144.3h1.7v1.7h-1.7zM52.0 149.8h1.7v1.7h-1.7zM53.0 145.5h1.7v1.7h-1.7zM51.6 147.0h1.7v1.7h-1.7zM57.4 150.1h1.7v1.7h-1.7zM50.3 152.2h1.7v1.7h-1.7zM49.8 149.0h1.7v1.7h-1.7zM48.8 148.9h1.7v1.7h-1.7zM58.8 147.5h1.7v1.7h-1.7zM51.9 141.0h1.7v1.7h-1.7zM52.1 151.7h1.7v1.7h-1.7zM53.7 149.6h1.7v1.7h-1.7zM58.2 150.4h1.7v1.7h-1.7zM50.2 151.4h1.7v1.7h-1.7zM52.6 149.8h1.7v1.7h-1.7zM52.0 148.0h1.7v1.7h-1.7zM50.1 144.4h1.7v1.7h-1.7zM55.7 146.8h1.7v1.7h-1.7zM49.0 149.9h1.7v1.7h-1.7zM53.3 140.5h1.7v1.7h-1.7zM50.6 149.1h1.7v1.7h-1.7zM49.8 150.0h1.7v1.7h-1.7zM48.8 147.6h1.7v1.7h-1.7zM57.5 147.0h1.7v1.7h-1.7zM50.4 151.4h1.7v1.7h-1.7zM53.1 147.1h1.7v1.7h-1.7zM47.8 150.0h1.7v1.7h-1.7zM52.1 144.2h1.7v1.7h-1.7zM54.5 146.4h1.7v1.7h-1.7zM51.1 146.1h1.7v1.7h-1.7zM52.2 141.1h1.7v1.7h-1.7zM48.2 148.0h1.7v1.7h-1.7zM56.9 147.7h1.7v1.7h-1.7zM57.4 147.1h1.7v1.7h-1.7zM52.8 148.0h1.7v1.7h-1.7zM47.3 149.7h1.7v1.7h-1.7zM60.3 145.2h1.7v1.7h-1.7zM54.5 144.4h1.7v1.7h-1.7zM54.3 144.2h1.7v1.7h-1.7zM51.3 147.6h1.7v1.7h-1.7zM55.8 148.0h1.7v1.7h-1.7zM47.5 147.6h1.7v1.7h-1.7zM50.3 145.3h1.7v1.7h-1.7zM49.7 149.9h1.7v1.7h-1.7zM51.1 142.7h1.7v1.7h-1.7zM52.1 146.6h1.7v1.7h-1.7zM52.3 146.2h1.7v1.7h-1.7zM55.6 143.2h1.7v1.7h-1.7zM46.3 143.3h1.7v1.7h-1.7zM52.3 147.9h1.7v1.7h-1.7zM61.0 147.5h1.7v1.7h-1.7zM59.3 144.4h1.7v1.7h-1.7zM48.6 145.7h1.7v1.7h-1.7zM54.9 147.3h1.7v1.7h-1.7zM43.9 147.9h1.7v1.7h-1.7zM51.6 150.0h1.7v1.7h-1.7zM58.9 147.7h1.7v1.7h-1.7zM50.9 147.8h1.7v1.7h-1.7zM49.4 149.1h1.7v1.7h-1.7zM52.6 146.1h1.7v1.7h-1.7zM50.4 147.2h1.7v1.7h-1.7zM47.3 145.6h1.7v1.7h-1.7zM49.6 146.4h1.7v1.7h-1.7zM49.0 148.4h1.7v1.7h-1.7zM53.1 150.3h1.7v1.7h-1.7zM61.2 147.1h1.7v1.7h-1.7zM52.0 149.0h1.7v1.7h-1.7zM58.1 143.2h1.7v1.7h-1.7zM53.4 150.7h1.7v1.7h-1.7zM50.5 145.3h1.7v1.7h-1.7zM50.4 150.2h1.7v1.7h-1.7zM48.0 149.1h1.7v1.7h-1.7zM52.3 148.8h1.7v1.7h-1.7zM52.3 139.4h1.7v1.7h-1.7zM58.7 149.8h1.7v1.7h-1.7zM53.5 146.8h1.7v1.7h-1.7zM51.8 144.1h1.7v1.7h-1.7zM51.1 147.9h1.7v1.7h-1.7zM50.9 147.3h1.7v1.7h-1.7zM56.9 144.9h1.7v1.7h-1.7zM47.4 148.2h1.7v1.7h-1.7zM49.4 144.8h1.7v1.7h-1.7zM53.1 144.6h1.7v1.7h-1.7zM52.1 152.2h1.7v1.7h-1.7zM53.9 146.4h1.7v1.7h-1.7zM54.1 150.6h1.7v1.7h-1.7zM52.6 148.9h1.7v1.7h-1.7zM49.8 146.0h1.7v1.7h-1.7zM53.6 149.4h1.7v1.7h-1.7zM46.1 153.8h1.7v1.7h-1.7zM50.2 143.9h1.7v1.7h-1.7zM52.1 153.2h1.7v1.7h-1.7zM49.2 145.8h1.7v1.7h-1.7zM58.3 143.8h1.7v1.7h-1.7zM53.6 146.5h1.7v1.7h-1.7zM48.5 148.2h1.7v1.7h-1.7zM51.1 149.1h1.7v1.7h-1.7zM52.5 148.1h1.7v1.7h-1.7zM53.5 143.1h1.7v1.7h-1.7zM55.0 145.9h1.7v1.7h-1.7zM51.4 151.2h1.7v1.7h-1.7zM51.9 145.5h1.7v1.7h-1.7zM48.6 143.6h1.7v1.7h-1.7zM51.1 146.0h1.7v1.7h-1.7zM51.1 150.4h1.7v1.7h-1.7zM59.8 150.2h1.7v1.7h-1.7zM55.6 148.5h1.7v1.7h-1.7zM53.3 149.2h1.7v1.7h-1.7zM50.8 144.5h1.7v1.7h-1.7zM59.3 149.3h1.7v1.7h-1.7zM52.3 144.4h1.7v1.7h-1.7zM50.0 145.1h1.7v1.7h-1.7zM49.4 145.3h1.7v1.7h-1.7zM53.9 143.7h1.7v1.7h-1.7zM53.6 150.3h1.7v1.7h-1.7zM54.7 150.0h1.7v1.7h-1.7zM55.0 142.9h1.7v1.7h-1.7zM54.4 148.5h1.7v1.7h-1.7zM56.6 146.5h1.7v1.7h-1.7zM47.8 148.0h1.7v1.7h-1.7zM57.4 147.8h1.7v1.7h-1.7zM52.7 147.9h1.7v1.7h-1.7zM46.2 148.4h1.7v1.7h-1.7zM53.6 146.4h1.7v1.7h-1.7zM51.7 152.8h1.7v1.7h-1.7zM56.7 145.0h1.7v1.7h-1.7zM56.0 143.4h1.7v1.7h-1.7zM50.7 148.7h1.7v1.7h-1.7zM53.4 142.4h1.7v1.7h-1.7zM46.2 147.6h1.7v1.7h-1.7zM49.7 145.5h1.7v1.7h-1.7zM57.6 147.8h1.7v1.7h-1.7zM47.8 146.9h1.7v1.7h-1.7zM51.3 151.2h1.7v1.7h-1.7zM55.5 148.4h1.7v1.7h-1.7zM54.8 150.6h1.7v1.7h-1.7zM56.2 150.9h1.7v1.7h-1.7zM56.1 152.0h1.7v1.7h-1.7zM57.3 148.0h1.7v1.7h-1.7zM46.7 147.6h1.7v1.7h-1.7zM53.5 149.7h1.7v1.7h-1.7zM50.5 146.3h1.7v1.7h-1.7zM51.7 155.4h1.7v1.7h-1.7zM50.7 145.8h1.7v1.7h-1.7zM53.4 144.2h1.7v1.7h-1.7zM49.8 140.0h1.7v1.7h-1.7zM55.2 146.1h1.7v1.7h-1.7zM56.2 144.4h1.7v1.7h-1.7zM52.7 148.7h1.7v1.7h-1.7zM106.1 132.8h1.7v1.7h-1.7zM77.7 127.2h1.7v1.7h-1.7zM58.6 128.8h1.7v1.7h-1.7zM58.0 126.9h1.7v1.7h-1.7zM92.6 130.5h1.7v1.7h-1.7zM90.2 130.0h1.7v1.7h-1.7zM58.7 128.0h1.7v1.7h-1.7zM86.3 128.5h1.7v1.7h-1.7zM85.3 129.0h1.7v1.7h-1.7zM102.0 131.5h1.7v1.7h-1.7zM53.9 141.2h1.7v1.7h-1.7zM81.8 126.2h1.7v1.7h-1.7zM59.1 127.4h1.7v1.7h-1.7zM107.0 129.6h1.7v1.7h-1.7zM69.7 127.0h1.7v1.7h-1.7zM60.6 134.3h1.7v1.7h-1.7zM92.0 130.4h1.7v1.7h-1.7zM92.4 128.0h1.7v1.7h-1.7zM53.9 134.7h1.7v1.7h-1.7zM54.4 136.9h1.7v1.7h-1.7zM55.2 142.7h1.7v1.7h-1.7zM101.6 131.7h1.7v1.7h-1.7zM81.2 128.9h1.7v1.7h-1.7zM75.2 127.3h1.7v1.7h-1.7zM54.5 135.9h1.7v1.7h-1.7zM60.1 126.6h1.7v1.7h-1.7zM69.4 124.8h1.7v1.7h-1.7zM58.4 129.2h1.7v1.7h-1.7zM83.5 125.9h1.7v1.7h-1.7zM74.3 127.0h1.7v1.7h-1.7zM76.7 129.0h1.7v1.7h-1.7zM83.0 128.7h1.7v1.7h-1.7zM95.1 131.0h1.7v1.7h-1.7zM60.2 125.4h1.7v1.7h-1.7zM68.5 126.3h1.7v1.7h-1.7zM99.3 130.4h1.7v1.7h-1.7zM87.4 129.6h1.7v1.7h-1.7zM75.5 128.1h1.7v1.7h-1.7zM75.9 127.0h1.7v1.7h-1.7zM62.6 124.8h1.7v1.7h-1.7zM53.0 145.4h1.7v1.7h-1.7zM55.8 133.0h1.7v1.7h-1.7zM59.0 133.2h1.7v1.7h-1.7zM103.0 133.0h1.7v1.7h-1.7zM62.6 125.3h1.7v1.7h-1.7zM84.4 129.8h1.7v1.7h-1.7zM54.2 142.2h1.7v1.7h-1.7zM71.0 126.4h1.7v1.7h-1.7zM56.0 132.8h1.7v1.7h-1.7zM55.7 144.8h1.7v1.7h-1.7zM60.1 124.8h1.7v1.7h-1.7zM56.5 144.2h1.7v1.7h-1.7zM54.7 130.2h1.7v1.7h-1.7zM104.3 131.2h1.7v1.7h-1.7zM60.3 131.9h1.7v1.7h-1.7zM55.9 137.1h1.7v1.7h-1.7zM67.4 123.4h1.7v1.7h-1.7zM107.3 130.1h1.7v1.7h-1.7zM55.4 136.7h1.7v1.7h-1.7zM53.9 142.1h1.7v1.7h-1.7zM100.7 131.9h1.7v1.7h-1.7zM53.3 141.9h1.7v1.7h-1.7zM64.8 124.4h1.7v1.7h-1.7zM57.7 130.9h1.7v1.7h-1.7zM55.0 135.6h1.7v1.7h-1.7zM89.1 128.6h1.7v1.7h-1.7zM97.0 131.0h1.7v1.7h-1.7zM59.7 131.3h1.7v1.7h-1.7zM56.8 132.2h1.7v1.7h-1.7zM104.1 130.9h1.7v1.7h-1.7zM72.2 125.9h1.7v1.7h-1.7zM57.4 129.7h1.7v1.7h-1.7zM53.4 140.7h1.7v1.7h-1.7zM56.1 132.3h1.7v1.7h-1.7zM58.3 138.5h1.7v1.7h-1.7zM51.1 144.9h1.7v1.7h-1.7zM62.3 126.9h1.7v1.7h-1.7zM52.9 137.6h1.7v1.7h-1.7zM58.4 129.1h1.7v1.7h-1.7zM66.6 126.1h1.7v1.7h-1.7zM78.9 128.4h1.7v1.7h-1.7zM54.9 138.0h1.7v1.7h-1.7zM76.5 126.2h1.7v1.7h-1.7zM89.8 131.1h1.7v1.7h-1.7zM55.2 134.0h1.7v1.7h-1.7zM73.8 127.0h1.7v1.7h-1.7zM75.1 128.5h1.7v1.7h-1.7zM97.3 130.0h1.7v1.7h-1.7zM51.7 146.2h1.7v1.7h-1.7zM63.4 122.8h1.7v1.7h-1.7zM55.3 143.8h1.7v1.7h-1.7zM71.6 127.2h1.7v1.7h-1.7zM54.4 138.7h1.7v1.7h-1.7zM56.9 130.7h1.7v1.7h-1.7zM56.4 132.8h1.7v1.7h-1.7zM93.4 129.4h1.7v1.7h-1.7zM53.7 140.0h1.7v1.7h-1.7zM91.6 129.2h1.7v1.7h-1.7zM60.7 124.8h1.7v1.7h-1.7zM51.1 144.7h1.7v1.7h-1.7zM106.9 130.5h1.7v1.7h-1.7zM88.1 128.7h1.7v1.7h-1.7zM99.2 129.8h1.7v1.7h-1.7zM57.2 130.6h1.7v1.7h-1.7zM55.8 145.3h1.7v1.7h-1.7zM86.3 128.0h1.7v1.7h-1.7zM72.1 125.5h1.7v1.7h-1.7zM100.9 130.3h1.7v1.7h-1.7zM105.3 131.5h1.7v1.7h-1.7zM61.2 125.8h1.7v1.7h-1.7zM58.1 130.3h1.7v1.7h-1.7zM76.2 127.9h1.7v1.7h-1.7zM61.9 126.8h1.7v1.7h-1.7zM90.1 128.6h1.7v1.7h-1.7zM54.1 137.1h1.7v1.7h-1.7zM55.7 134.7h1.7v1.7h-1.7zM53.7 129.2h1.7v1.7h-1.7zM82.6 128.5h1.7v1.7h-1.7zM62.7 125.8h1.7v1.7h-1.7zM59.8 127.3h1.7v1.7h-1.7zM115.1 138.6h1.7v1.7h-1.7zM122.5 140.4h1.7v1.7h-1.7zM119.7 142.5h1.7v1.7h-1.7zM115.5 140.7h1.7v1.7h-1.7zM122.5 140.6h1.7v1.7h-1.7zM112.5 139.3h1.7v1.7h-1.7zM118.1 139.7h1.7v1.7h-1.7zM109.9 139.0h1.7v1.7h-1.7zM160.0 135.5h1.7v1.7h-1.7zM134.5 132.8h1.7v1.7h-1.7zM142.9 135.1h1.7v1.7h-1.7zM151.2 134.5h1.7v1.7h-1.7zM172.2 137.9h1.7v1.7h-1.7zM164.3 138.2h1.7v1.7h-1.7zM145.7 136.2h1.7v1.7h-1.7zM162.5 136.1h1.7v1.7h-1.7zM168.0 136.9h1.7v1.7h-1.7zM138.1 133.7h1.7v1.7h-1.7zM153.2 133.7h1.7v1.7h-1.7zM141.8 135.8h1.7v1.7h-1.7zM142.2 134.9h1.7v1.7h-1.7zM140.3 134.2h1.7v1.7h-1.7zM129.3 131.3h1.7v1.7h-1.7zM135.9 134.7h1.7v1.7h-1.7zM158.1 135.0h1.7v1.7h-1.7zM131.8 132.1h1.7v1.7h-1.7zM125.0 132.5h1.7v1.7h-1.7zM137.4 134.5h1.7v1.7h-1.7zM136.7 133.9h1.7v1.7h-1.7zM164.7 133.9h1.7v1.7h-1.7zM147.2 134.5h1.7v1.7h-1.7zM144.9 134.9h1.7v1.7h-1.7zM137.2 136.0h1.7v1.7h-1.7zM141.7 133.0h1.7v1.7h-1.7zM173.0 137.1h1.7v1.7h-1.7zM143.1 134.8h1.7v1.7h-1.7zM157.1 136.5h1.7v1.7h-1.7zM153.4 135.2h1.7v1.7h-1.7zM132.7 134.3h1.7v1.7h-1.7zM146.4 135.4h1.7v1.7h-1.7zM144.3 132.8h1.7v1.7h-1.7zM152.4 134.8h1.7v1.7h-1.7zM153.4 134.7h1.7v1.7h-1.7zM154.6 135.2h1.7v1.7h-1.7zM150.5 134.5h1.7v1.7h-1.7zM140.3 137.2h1.7v1.7h-1.7zM145.4 134.7h1.7v1.7h-1.7zM170.6 138.3h1.7v1.7h-1.7zM162.9 138.9h1.7v1.7h-1.7zM165.1 137.9h1.7v1.7h-1.7zM174.7 137.5h1.7v1.7h-1.7zM159.2 133.7h1.7v1.7h-1.7zM144.3 134.9h1.7v1.7h-1.7zM134.9 131.7h1.7v1.7h-1.7zM127.0 133.4h1.7v1.7h-1.7zM149.1 132.5h1.7v1.7h-1.7zM165.9 138.3h1.7v1.7h-1.7zM168.2 138.1h1.7v1.7h-1.7zM143.5 134.0h1.7v1.7h-1.7zM144.2 135.6h1.7v1.7h-1.7zM132.3 131.9h1.7v1.7h-1.7zM162.9 138.5h1.7v1.7h-1.7zM130.6 132.8h1.7v1.7h-1.7zM157.2 136.4h1.7v1.7h-1.7zM134.5 134.3h1.7v1.7h-1.7zM126.2 131.7h1.7v1.7h-1.7zM155.1 133.7h1.7v1.7h-1.7zM158.8 135.1h1.7v1.7h-1.7zM157.6 135.4h1.7v1.7h-1.7zM133.5 133.4h1.7v1.7h-1.7zM144.4 130.8h1.7v1.7h-1.7zM158.2 136.6h1.7v1.7h-1.7zM139.8 133.5h1.7v1.7h-1.7zM152.9 134.2h1.7v1.7h-1.7zM143.4 133.9h1.7v1.7h-1.7zM168.2 136.4h1.7v1.7h-1.7zM136.0 133.9h1.7v1.7h-1.7zM165.8 135.0h1.7v1.7h-1.7zM154.1 134.7h1.7v1.7h-1.7zM144.1 135.7h1.7v1.7h-1.7zM148.5 133.9h1.7v1.7h-1.7zM135.6 132.7h1.7v1.7h-1.7zM139.0 135.3h1.7v1.7h-1.7zM136.8 133.2h1.7v1.7h-1.7zM167.5 136.2h1.7v1.7h-1.7zM143.3 136.0h1.7v1.7h-1.7zM153.0 135.0h1.7v1.7h-1.7zM168.8 136.8h1.7v1.7h-1.7zM143.2 135.8h1.7v1.7h-1.7zM145.2 135.6h1.7v1.7h-1.7zM126.1 133.4h1.7v1.7h-1.7zM141.6 133.9h1.7v1.7h-1.7zM154.1 137.2h1.7v1.7h-1.7zM172.7 138.2h1.7v1.7h-1.7zM163.1 138.0h1.7v1.7h-1.7zM173.6 137.9h1.7v1.7h-1.7zM144.2 134.9h1.7v1.7h-1.7zM172.1 137.3h1.7v1.7h-1.7zM139.6 131.3h1.7v1.7h-1.7zM136.5 131.9h1.7v1.7h-1.7zM137.9 132.7h1.7v1.7h-1.7zM141.3 135.3h1.7v1.7h-1.7zM136.0 127.1h1.7v1.7h-1.7zM138.3 128.8h1.7v1.7h-1.7zM137.6 133.5h1.7v1.7h-1.7zM139.4 133.8h1.7v1.7h-1.7zM135.2 132.9h1.7v1.7h-1.7zM137.3 129.9h1.7v1.7h-1.7zM137.0 129.4h1.7v1.7h-1.7zM139.5 127.5h1.7v1.7h-1.7zM137.5 131.0h1.7v1.7h-1.7zM135.7 134.7h1.7v1.7h-1.7zM138.8 138.0h1.7v1.7h-1.7zM137.1 128.2h1.7v1.7h-1.7zM137.7 129.1h1.7v1.7h-1.7zM137.8 135.5h1.7v1.7h-1.7zM139.4 127.5h1.7v1.7h-1.7zM139.8 136.4h1.7v1.7h-1.7zM139.9 135.7h1.7v1.7h-1.7zM138.1 132.8h1.7v1.7h-1.7zM137.2 137.0h1.7v1.7h-1.7zM139.8 139.3h1.7v1.7h-1.7zM140.2 139.7h1.7v1.7h-1.7zM139.9 138.2h1.7v1.7h-1.7zM138.8 127.9h1.7v1.7h-1.7zM137.0 127.4h1.7v1.7h-1.7zM135.6 126.2h1.7v1.7h-1.7zM137.1 127.5h1.7v1.7h-1.7zM141.4 136.2h1.7v1.7h-1.7zM138.7 138.2h1.7v1.7h-1.7zM137.6 135.9h1.7v1.7h-1.7zM140.4 139.1h1.7v1.7h-1.7zM137.4 125.4h1.7v1.7h-1.7zM139.8 135.4h1.7v1.7h-1.7zM137.4 132.1h1.7v1.7h-1.7zM137.4 132.4h1.7v1.7h-1.7zM137.7 127.9h1.7v1.7h-1.7zM140.1 139.1h1.7v1.7h-1.7zM176.9 124.4h1.7v1.7h-1.7zM199.0 92.5h1.7v1.7h-1.7zM177.7 120.5h1.7v1.7h-1.7zM188.9 103.5h1.7v1.7h-1.7zM174.1 135.0h1.7v1.7h-1.7zM173.1 124.9h1.7v1.7h-1.7zM178.3 116.4h1.7v1.7h-1.7zM203.4 87.7h1.7v1.7h-1.7zM194.3 98.0h1.7v1.7h-1.7zM193.1 96.3h1.7v1.7h-1.7zM186.2 107.7h1.7v1.7h-1.7zM197.3 95.6h1.7v1.7h-1.7zM183.7 116.8h1.7v1.7h-1.7zM176.5 128.5h1.7v1.7h-1.7zM203.9 89.9h1.7v1.7h-1.7zM202.8 89.5h1.7v1.7h-1.7zM202.2 89.6h1.7v1.7h-1.7zM190.4 103.1h1.7v1.7h-1.7zM200.7 89.7h1.7v1.7h-1.7zM174.5 129.4h1.7v1.7h-1.7zM174.5 133.6h1.7v1.7h-1.7zM173.0 135.1h1.7v1.7h-1.7zM173.2 132.0h1.7v1.7h-1.7zM185.8 109.2h1.7v1.7h-1.7zM203.0 89.7h1.7v1.7h-1.7zM173.0 132.6h1.7v1.7h-1.7zM200.0 91.2h1.7v1.7h-1.7zM178.4 120.9h1.7v1.7h-1.7zM195.8 97.1h1.7v1.7h-1.7zM187.5 106.9h1.7v1.7h-1.7zM180.6 129.2h1.7v1.7h-1.7zM172.9 138.2h1.7v1.7h-1.7zM173.9 135.1h1.7v1.7h-1.7zM191.3 99.0h1.7v1.7h-1.7zM177.8 127.8h1.7v1.7h-1.7zM186.7 103.1h1.7v1.7h-1.7zM172.4 137.3h1.7v1.7h-1.7zM177.0 125.0h1.7v1.7h-1.7zM182.1 113.5h1.7v1.7h-1.7zM181.6 120.0h1.7v1.7h-1.7zM179.8 116.1h1.7v1.7h-1.7zM180.6 120.8h1.7v1.7h-1.7zM203.4 92.5h1.7v1.7h-1.7zM171.5 129.8h1.7v1.7h-1.7zM179.8 121.2h1.7v1.7h-1.7zM176.7 126.0h1.7v1.7h-1.7zM201.9 89.6h1.7v1.7h-1.7zM187.7 100.3h1.7v1.7h-1.7zM185.4 112.2h1.7v1.7h-1.7zM182.4 117.8h1.7v1.7h-1.7zM176.3 124.5h1.7v1.7h-1.7zM184.3 112.7h1.7v1.7h-1.7zM180.8 114.6h1.7v1.7h-1.7zM177.9 123.1h1.7v1.7h-1.7zM194.8 94.5h1.7v1.7h-1.7zM194.3 94.3h1.7v1.7h-1.7zM182.2 110.6h1.7v1.7h-1.7zM200.2 90.1h1.7v1.7h-1.7zM179.7 123.8h1.7v1.7h-1.7zM180.1 119.1h1.7v1.7h-1.7zM197.7 98.0h1.7v1.7h-1.7zM199.5 93.3h1.7v1.7h-1.7zM190.9 102.1h1.7v1.7h-1.7zM176.8 129.8h1.7v1.7h-1.7zM178.0 125.3h1.7v1.7h-1.7zM182.7 109.2h1.7v1.7h-1.7zM189.7 106.9h1.7v1.7h-1.7zM189.6 103.0h1.7v1.7h-1.7zM177.9 132.8h1.7v1.7h-1.7zM180.1 120.0h1.7v1.7h-1.7zM194.5 98.5h1.7v1.7h-1.7zM175.1 132.0h1.7v1.7h-1.7zM198.4 95.6h1.7v1.7h-1.7zM195.0 94.5h1.7v1.7h-1.7zM185.8 103.9h1.7v1.7h-1.7zM180.9 119.2h1.7v1.7h-1.7zM194.6 95.1h1.7v1.7h-1.7zM192.6 98.8h1.7v1.7h-1.7zM179.1 120.6h1.7v1.7h-1.7zM186.1 105.9h1.7v1.7h-1.7zM182.6 121.6h1.7v1.7h-1.7zM180.8 123.1h1.7v1.7h-1.7zM202.9 90.4h1.7v1.7h-1.7zM176.7 123.5h1.7v1.7h-1.7zM174.3 137.5h1.7v1.7h-1.7zM183.1 113.7h1.7v1.7h-1.7zM175.8 128.0h1.7v1.7h-1.7zM179.9 120.5h1.7v1.7h-1.7zM176.3 119.6h1.7v1.7h-1.7zM186.0 103.4h1.7v1.7h-1.7zM173.7 125.2h1.7v1.7h-1.7zM172.9 131.2h1.7v1.7h-1.7zM190.5 98.7h1.7v1.7h-1.7zM202.6 91.0h1.7v1.7h-1.7zM186.9 109.3h1.7v1.7h-1.7zM176.6 128.6h1.7v1.7h-1.7zM174.6 130.6h1.7v1.7h-1.7zM190.1 100.9h1.7v1.7h-1.7zM191.3 99.3h1.7v1.7h-1.7zM182.0 113.5h1.7v1.7h-1.7zM186.3 113.4h1.7v1.7h-1.7zM174.6 135.0h1.7v1.7h-1.7zM188.4 100.9h1.7v1.7h-1.7zM179.5 116.2h1.7v1.7h-1.7zM179.7 117.9h1.7v1.7h-1.7zM189.1 104.7h1.7v1.7h-1.7zM176.9 131.1h1.7v1.7h-1.7zM173.9 137.0h1.7v1.7h-1.7zM186.0 111.4h1.7v1.7h-1.7zM195.2 94.2h1.7v1.7h-1.7zM180.0 121.4h1.7v1.7h-1.7zM179.6 119.8h1.7v1.7h-1.7zM182.8 110.4h1.7v1.7h-1.7zM199.0 90.9h1.7v1.7h-1.7zM188.3 100.1h1.7v1.7h-1.7zM180.8 114.5h1.7v1.7h-1.7zM185.9 104.3h1.7v1.7h-1.7zM191.4 97.4h1.7v1.7h-1.7zM197.3 92.9h1.7v1.7h-1.7zM202.4 92.7h1.7v1.7h-1.7zM179.9 118.2h1.7v1.7h-1.7zM178.2 125.0h1.7v1.7h-1.7zM186.9 104.1h1.7v1.7h-1.7zM188.1 101.3h1.7v1.7h-1.7zM186.4 109.5h1.7v1.7h-1.7zM191.5 100.2h1.7v1.7h-1.7zM192.6 96.5h1.7v1.7h-1.7zM173.3 124.4h1.7v1.7h-1.7zM177.2 128.0h1.7v1.7h-1.7zM187.3 108.9h1.7v1.7h-1.7zM227.7 85.8h1.7v1.7h-1.7zM226.2 86.2h1.7v1.7h-1.7zM228.5 82.8h1.7v1.7h-1.7zM229.8 85.3h1.7v1.7h-1.7zM232.1 81.9h1.7v1.7h-1.7zM227.4 86.0h1.7v1.7h-1.7zM225.9 82.7h1.7v1.7h-1.7zM232.0 84.5h1.7v1.7h-1.7zM223.8 84.9h1.7v1.7h-1.7zM231.6 83.9h1.7v1.7h-1.7zM224.8 86.2h1.7v1.7h-1.7zM229.0 83.0h1.7v1.7h-1.7zM226.7 84.1h1.7v1.7h-1.7zM227.8 84.2h1.7v1.7h-1.7zM226.5 84.5h1.7v1.7h-1.7zM226.4 82.5h1.7v1.7h-1.7zM228.5 82.7h1.7v1.7h-1.7zM231.5 86.4h1.7v1.7h-1.7zM227.5 82.8h1.7v1.7h-1.7zM227.2 84.5h1.7v1.7h-1.7zM228.5 84.4h1.7v1.7h-1.7zM225.9 84.2h1.7v1.7h-1.7zM227.8 83.9h1.7v1.7h-1.7zM229.5 83.8h1.7v1.7h-1.7zM226.7 80.5h1.7v1.7h-1.7zM227.2 84.2h1.7v1.7h-1.7zM227.4 84.6h1.7v1.7h-1.7zM224.4 83.7h1.7v1.7h-1.7zM207.2 65.3h1.7v1.7h-1.7zM212.4 65.0h1.7v1.7h-1.7zM207.2 66.6h1.7v1.7h-1.7zM216.4 65.4h1.7v1.7h-1.7zM210.0 63.7h1.7v1.7h-1.7zM205.3 65.3h1.7v1.7h-1.7zM205.4 63.2h1.7v1.7h-1.7zM207.8 65.1h1.7v1.7h-1.7zM208.0 65.1h1.7v1.7h-1.7zM211.9 65.2h1.7v1.7h-1.7zM209.9 64.9h1.7v1.7h-1.7zM210.1 66.0h1.7v1.7h-1.7zM212.8 64.0h1.7v1.7h-1.7zM206.7 66.7h1.7v1.7h-1.7zM208.5 64.8h1.7v1.7h-1.7zM206.5 63.0h1.7v1.7h-1.7zM211.0 65.0h1.7v1.7h-1.7zM213.6 66.3h1.7v1.7h-1.7zM212.0 64.7h1.7v1.7h-1.7zM214.9 66.8h1.7v1.7h-1.7zM215.2 64.4h1.7v1.7h-1.7zM211.7 63.7h1.7v1.7h-1.7zM210.1 65.5h1.7v1.7h-1.7zM213.5 65.8h1.7v1.7h-1.7zM214.2 63.2h1.7v1.7h-1.7zM211.6 65.0h1.7v1.7h-1.7zM208.9 66.6h1.7v1.7h-1.7zM215.3 66.7h1.7v1.7h-1.7zM149.8 39.8h1.7v1.7h-1.7zM148.0 37.6h1.7v1.7h-1.7zM185.7 50.9h1.7v1.7h-1.7zM153.6 38.2h1.7v1.7h-1.7zM178.8 47.1h1.7v1.7h-1.7zM163.5 39.5h1.7v1.7h-1.7zM185.8 51.8h1.7v1.7h-1.7zM146.1 38.0h1.7v1.7h-1.7zM188.5 51.9h1.7v1.7h-1.7zM184.3 50.7h1.7v1.7h-1.7zM163.4 40.0h1.7v1.7h-1.7zM189.8 52.9h1.7v1.7h-1.7zM152.9 37.9h1.7v1.7h-1.7zM172.9 45.7h1.7v1.7h-1.7zM197.3 58.0h1.7v1.7h-1.7zM138.6 39.0h1.7v1.7h-1.7zM147.1 38.9h1.7v1.7h-1.7zM153.4 37.3h1.7v1.7h-1.7zM195.9 55.8h1.7v1.7h-1.7zM193.2 54.4h1.7v1.7h-1.7zM147.7 39.6h1.7v1.7h-1.7zM160.4 38.7h1.7v1.7h-1.7zM162.2 37.3h1.7v1.7h-1.7zM174.1 46.6h1.7v1.7h-1.7zM158.1 38.3h1.7v1.7h-1.7zM151.3 37.9h1.7v1.7h-1.7zM199.4 56.1h1.7v1.7h-1.7zM181.1 49.1h1.7v1.7h-1.7zM167.0 40.0h1.7v1.7h-1.7zM182.4 50.2h1.7v1.7h-1.7zM199.7 59.7h1.7v1.7h-1.7zM147.5 38.6h1.7v1.7h-1.7zM153.2 38.2h1.7v1.7h-1.7zM175.3 46.5h1.7v1.7h-1.7zM173.2 43.5h1.7v1.7h-1.7zM194.8 55.6h1.7v1.7h-1.7zM169.1 42.7h1.7v1.7h-1.7zM140.1 41.7h1.7v1.7h-1.7zM192.9 56.5h1.7v1.7h-1.7zM190.3 55.3h1.7v1.7h-1.7zM143.0 39.5h1.7v1.7h-1.7zM191.3 52.1h1.7v1.7h-1.7zM144.1 39.3h1.7v1.7h-1.7zM180.0 46.9h1.7v1.7h-1.7zM158.5 37.8h1.7v1.7h-1.7zM172.4 44.9h1.7v1.7h-1.7zM172.9 46.5h1.7v1.7h-1.7zM180.8 49.2h1.7v1.7h-1.7zM196.8 57.5h1.7v1.7h-1.7zM199.7 58.0h1.7v1.7h-1.7zM142.7 40.2h1.7v1.7h-1.7zM181.3 48.7h1.7v1.7h-1.7zM190.5 55.9h1.7v1.7h-1.7zM178.4 47.0h1.7v1.7h-1.7zM199.5 59.7h1.7v1.7h-1.7zM158.1 37.3h1.7v1.7h-1.7zM188.7 51.8h1.7v1.7h-1.7zM156.6 36.1h1.7v1.7h-1.7zM177.4 47.9h1.7v1.7h-1.7zM186.4 52.9h1.7v1.7h-1.7zM168.2 41.0h1.7v1.7h-1.7zM191.5 53.9h1.7v1.7h-1.7zM153.0 37.4h1.7v1.7h-1.7zM175.5 46.7h1.7v1.7h-1.7zM190.8 53.9h1.7v1.7h-1.7zM171.5 43.1h1.7v1.7h-1.7zM180.8 49.0h1.7v1.7h-1.7zM165.8 40.9h1.7v1.7h-1.7zM186.2 52.3h1.7v1.7h-1.7zM187.8 51.9h1.7v1.7h-1.7zM175.0 46.7h1.7v1.7h-1.7zM167.3 41.4h1.7v1.7h-1.7zM160.2 37.1h1.7v1.7h-1.7zM178.3 47.2h1.7v1.7h-1.7zM183.0 49.5h1.7v1.7h-1.7zM198.4 58.6h1.7v1.7h-1.7zM146.0 38.1h1.7v1.7h-1.7zM170.2 42.8h1.7v1.7h-1.7zM152.2 38.0h1.7v1.7h-1.7zM180.4 49.6h1.7v1.7h-1.7zM133.1 52.6h1.7v1.7h-1.7zM132.8 52.5h1.7v1.7h-1.7zM138.5 59.1h1.7v1.7h-1.7zM137.0 58.6h1.7v1.7h-1.7zM133.8 51.3h1.7v1.7h-1.7zM135.9 53.8h1.7v1.7h-1.7zM134.7 54.9h1.7v1.7h-1.7zM134.8 55.7h1.7v1.7h-1.7zM133.5 58.0h1.7v1.7h-1.7zM137.1 55.4h1.7v1.7h-1.7zM137.4 53.7h1.7v1.7h-1.7zM134.8 57.7h1.7v1.7h-1.7zM133.5 55.2h1.7v1.7h-1.7zM133.8 56.0h1.7v1.7h-1.7zM129.9 56.2h1.7v1.7h-1.7zM133.5 56.4h1.7v1.7h-1.7zM133.4 58.7h1.7v1.7h-1.7zM132.4 52.1h1.7v1.7h-1.7zM132.3 56.5h1.7v1.7h-1.7zM132.5 55.7h1.7v1.7h-1.7zM133.0 50.9h1.7v1.7h-1.7zM132.1 52.3h1.7v1.7h-1.7zM133.1 54.3h1.7v1.7h-1.7zM138.6 55.3h1.7v1.7h-1.7zM134.0 61.6h1.7v1.7h-1.7zM133.4 55.8h1.7v1.7h-1.7zM134.2 54.8h1.7v1.7h-1.7zM132.0 57.4h1.7v1.7h-1.7zM135.4 55.9h1.7v1.7h-1.7zM134.1 53.8h1.7v1.7h-1.7zM134.2 55.0h1.7v1.7h-1.7zM132.0 55.3h1.7v1.7h-1.7zM130.9 51.4h1.7v1.7h-1.7zM132.6 51.6h1.7v1.7h-1.7zM133.1 55.6h1.7v1.7h-1.7zM136.4 54.8h1.7v1.7h-1.7zM134.3 55.9h1.7v1.7h-1.7zM133.5 56.9h1.7v1.7h-1.7zM132.6 59.2h1.7v1.7h-1.7zM133.7 57.0h1.7v1.7h-1.7zM136.5 50.6h1.7v1.7h-1.7zM137.5 57.9h1.7v1.7h-1.7zM133.3 55.6h1.7v1.7h-1.7zM131.2 51.9h1.7v1.7h-1.7zM135.3 54.6h1.7v1.7h-1.7zM137.5 54.2h1.7v1.7h-1.7zM133.5 54.7h1.7v1.7h-1.7zM133.2 54.2h1.7v1.7h-1.7zM131.6 54.2h1.7v1.7h-1.7zM133.5 56.2h1.7v1.7h-1.7zM133.3 55.5h1.7v1.7h-1.7zM130.9 54.0h1.7v1.7h-1.7zM133.7 51.3h1.7v1.7h-1.7zM134.0 53.2h1.7v1.7h-1.7zM134.0 55.6h1.7v1.7h-1.7zM131.8 56.3h1.7v1.7h-1.7zM133.0 60.6h1.7v1.7h-1.7zM133.5 56.8h1.7v1.7h-1.7zM134.6 53.0h1.7v1.7h-1.7zM133.5 52.7h1.7v1.7h-1.7zM132.5 42.4h1.7v1.7h-1.7zM134.6 43.7h1.7v1.7h-1.7zM134.9 43.5h1.7v1.7h-1.7zM134.2 42.0h1.7v1.7h-1.7zM134.7 43.6h1.7v1.7h-1.7zM131.8 43.6h1.7v1.7h-1.7zM134.6 42.4h1.7v1.7h-1.7zM130.2 41.9h1.7v1.7h-1.7zM135.7 43.0h1.7v1.7h-1.7zM133.4 42.3h1.7v1.7h-1.7zM131.7 42.9h1.7v1.7h-1.7zM134.5 42.9h1.7v1.7h-1.7zM133.5 42.5h1.7v1.7h-1.7zM136.6 42.3h1.7v1.7h-1.7zM134.1 43.0h1.7v1.7h-1.7zM135.8 42.5h1.7v1.7h-1.7zM133.5 41.4h1.7v1.7h-1.7zM135.9 43.4h1.7v1.7h-1.7zM132.9 41.4h1.7v1.7h-1.7zM132.6 41.1h1.7v1.7h-1.7zM133.2 40.8h1.7v1.7h-1.7zM131.7 44.3h1.7v1.7h-1.7zM130.9 40.7h1.7v1.7h-1.7zM132.2 43.0h1.7v1.7h-1.7zM132.5 43.2h1.7v1.7h-1.7zM133.8 42.4h1.7v1.7h-1.7zM132.4 43.0h1.7v1.7h-1.7zM135.9 41.7h1.7v1.7h-1.7zM135.3 41.4h1.7v1.7h-1.7zM133.2 41.8h1.7v1.7h-1.7zM136.5 43.3h1.7v1.7h-1.7zM136.0 44.8h1.7v1.7h-1.7zM130.0 43.9h1.7v1.7h-1.7zM131.7 43.4h1.7v1.7h-1.7zM132.6 41.8h1.7v1.7h-1.7zM136.1 104.8h1.7v1.7h-1.7zM132.0 89.8h1.7v1.7h-1.7zM135.4 76.7h1.7v1.7h-1.7zM134.4 91.8h1.7v1.7h-1.7zM132.4 86.2h1.7v1.7h-1.7zM134.0 97.6h1.7v1.7h-1.7zM134.9 105.7h1.7v1.7h-1.7zM133.6 97.9h1.7v1.7h-1.7zM134.9 100.5h1.7v1.7h-1.7zM135.0 101.5h1.7v1.7h-1.7zM139.8 115.2h1.7v1.7h-1.7zM132.8 92.3h1.7v1.7h-1.7zM139.1 110.4h1.7v1.7h-1.7zM129.2 75.6h1.7v1.7h-1.7zM132.9 71.2h1.7v1.7h-1.7zM141.5 116.1h1.7v1.7h-1.7zM134.4 98.8h1.7v1.7h-1.7zM130.3 84.2h1.7v1.7h-1.7zM131.6 72.7h1.7v1.7h-1.7zM134.1 95.6h1.7v1.7h-1.7zM133.7 83.4h1.7v1.7h-1.7zM130.5 80.9h1.7v1.7h-1.7zM132.2 69.7h1.7v1.7h-1.7zM132.8 80.9h1.7v1.7h-1.7zM130.9 88.5h1.7v1.7h-1.7zM131.6 81.0h1.7v1.7h-1.7zM136.9 107.4h1.7v1.7h-1.7zM139.7 115.8h1.7v1.7h-1.7zM132.2 80.4h1.7v1.7h-1.7zM135.4 99.8h1.7v1.7h-1.7zM133.2 80.7h1.7v1.7h-1.7zM131.1 87.5h1.7v1.7h-1.7zM131.3 95.1h1.7v1.7h-1.7zM138.6 103.0h1.7v1.7h-1.7zM135.0 67.0h1.7v1.7h-1.7zM133.1 80.6h1.7v1.7h-1.7zM133.0 91.9h1.7v1.7h-1.7zM133.0 75.1h1.7v1.7h-1.7zM129.6 82.6h1.7v1.7h-1.7zM135.9 100.2h1.7v1.7h-1.7zM138.5 112.9h1.7v1.7h-1.7zM131.7 85.6h1.7v1.7h-1.7zM138.6 113.0h1.7v1.7h-1.7zM133.2 92.2h1.7v1.7h-1.7zM134.9 96.1h1.7v1.7h-1.7zM131.0 76.2h1.7v1.7h-1.7zM132.0 79.1h1.7v1.7h-1.7zM137.1 104.6h1.7v1.7h-1.7zM139.9 116.3h1.7v1.7h-1.7zM133.9 75.2h1.7v1.7h-1.7zM133.2 71.8h1.7v1.7h-1.7zM133.9 93.6h1.7v1.7h-1.7zM135.8 105.3h1.7v1.7h-1.7zM136.8 101.0h1.7v1.7h-1.7zM130.6 89.6h1.7v1.7h-1.7zM137.3 109.5h1.7v1.7h-1.7zM136.9 105.8h1.7v1.7h-1.7zM133.6 91.6h1.7v1.7h-1.7zM133.4 81.4h1.7v1.7h-1.7zM137.9 108.1h1.7v1.7h-1.7zM135.3 105.5h1.7v1.7h-1.7zM131.5 74.4h1.7v1.7h-1.7zM135.0 100.6h1.7v1.7h-1.7zM130.9 84.0h1.7v1.7h-1.7zM132.1 66.9h1.7v1.7h-1.7zM132.6 74.7h1.7v1.7h-1.7zM132.2 86.2h1.7v1.7h-1.7zM131.7 89.3h1.7v1.7h-1.7zM136.0 106.4h1.7v1.7h-1.7zM132.9 91.0h1.7v1.7h-1.7zM138.2 114.1h1.7v1.7h-1.7zM132.3 74.9h1.7v1.7h-1.7zM132.7 77.8h1.7v1.7h-1.7zM139.8 112.4h1.7v1.7h-1.7zM133.1 68.4h1.7v1.7h-1.7zM132.9 69.3h1.7v1.7h-1.7zM132.8 79.8h1.7v1.7h-1.7zM130.7 78.6h1.7v1.7h-1.7zM133.8 97.3h1.7v1.7h-1.7zM133.3 69.3h1.7v1.7h-1.7zM133.8 64.7h1.7v1.7h-1.7zM134.0 64.5h1.7v1.7h-1.7zM133.1 61.8h1.7v1.7h-1.7zM132.7 63.2h1.7v1.7h-1.7zM134.3 60.3h1.7v1.7h-1.7zM134.4 65.0h1.7v1.7h-1.7zM133.9 63.1h1.7v1.7h-1.7zM138.0 67.5h1.7v1.7h-1.7zM133.5 64.4h1.7v1.7h-1.7zM134.4 62.0h1.7v1.7h-1.7zM133.6 62.8h1.7v1.7h-1.7zM135.1 60.7h1.7v1.7h-1.7zM133.3 61.7h1.7v1.7h-1.7zM133.4 62.5h1.7v1.7h-1.7zM134.2 59.3h1.7v1.7h-1.7zM134.4 67.1h1.7v1.7h-1.7zM131.9 66.5h1.7v1.7h-1.7zM132.6 59.8h1.7v1.7h-1.7zM133.2 62.9h1.7v1.7h-1.7zM133.9 63.4h1.7v1.7h-1.7zM143.3 149.6h1.7v1.7h-1.7zM146.1 152.2h1.7v1.7h-1.7zM139.3 137.0h1.7v1.7h-1.7zM140.2 128.7h1.7v1.7h-1.7zM140.4 143.9h1.7v1.7h-1.7zM144.6 152.6h1.7v1.7h-1.7zM144.5 152.9h1.7v1.7h-1.7zM142.3 147.2h1.7v1.7h-1.7zM139.3 126.2h1.7v1.7h-1.7zM141.4 141.2h1.7v1.7h-1.7zM140.4 129.5h1.7v1.7h-1.7zM141.6 142.8h1.7v1.7h-1.7zM142.4 146.0h1.7v1.7h-1.7zM139.4 136.8h1.7v1.7h-1.7zM141.2 129.5h1.7v1.7h-1.7zM143.7 150.1h1.7v1.7h-1.7zM143.1 146.7h1.7v1.7h-1.7zM138.1 133.0h1.7v1.7h-1.7zM139.8 129.2h1.7v1.7h-1.7zM140.6 130.7h1.7v1.7h-1.7zM147.0 154.1h1.7v1.7h-1.7zM139.4 126.6h1.7v1.7h-1.7zM143.8 150.1h1.7v1.7h-1.7zM144.9 153.6h1.7v1.7h-1.7zM141.0 144.1h1.7v1.7h-1.7zM145.1 151.1h1.7v1.7h-1.7zM144.3 150.5h1.7v1.7h-1.7zM138.2 143.3h1.7v1.7h-1.7zM139.4 141.9h1.7v1.7h-1.7zM139.4 128.9h1.7v1.7h-1.7zM139.6 129.1h1.7v1.7h-1.7zM141.3 146.4h1.7v1.7h-1.7zM139.8 125.7h1.7v1.7h-1.7zM143.9 149.6h1.7v1.7h-1.7zM137.7 131.6h1.7v1.7h-1.7zM143.6 148.9h1.7v1.7h-1.7zM139.1 137.1h1.7v1.7h-1.7zM139.2 142.8h1.7v1.7h-1.7zM138.3 125.4h1.7v1.7h-1.7zM138.2 132.0h1.7v1.7h-1.7zM138.1 137.5h1.7v1.7h-1.7zM141.0 143.3h1.7v1.7h-1.7zM138.9 131.5h1.7v1.7h-1.7zM139.9 143.1h1.7v1.7h-1.7zM142.0 140.9h1.7v1.7h-1.7zM142.6 147.6h1.7v1.7h-1.7zM141.0 142.5h1.7v1.7h-1.7zM139.0 126.4h1.7v1.7h-1.7zM145.5 152.9h1.7v1.7h-1.7zM137.8 133.4h1.7v1.7h-1.7zM140.3 126.8h1.7v1.7h-1.7zM140.1 123.1h1.7v1.7h-1.7zM140.2 146.9h1.7v1.7h-1.7zM138.0 125.2h1.7v1.7h-1.7zM140.0 123.9h1.7v1.7h-1.7zM141.7 144.3h1.7v1.7h-1.7zM140.1 127.3h1.7v1.7h-1.7zM144.6 151.9h1.7v1.7h-1.7zM141.1 147.6h1.7v1.7h-1.7zM140.1 143.3h1.7v1.7h-1.7zM140.8 127.0h1.7v1.7h-1.7zM138.7 132.0h1.7v1.7h-1.7zM142.9 146.7h1.7v1.7h-1.7zM145.4 151.1h1.7v1.7h-1.7zM139.1 141.1h1.7v1.7h-1.7zM139.5 128.0h1.7v1.7h-1.7zM140.3 142.3h1.7v1.7h-1.7zM137.2 134.9h1.7v1.7h-1.7zM140.8 141.9h1.7v1.7h-1.7zM138.8 123.2h1.7v1.7h-1.7zM138.5 127.3h1.7v1.7h-1.7zM139.0 130.0h1.7v1.7h-1.7zM143.6 144.8h1.7v1.7h-1.7zM139.2 136.6h1.7v1.7h-1.7zM142.4 142.0h1.7v1.7h-1.7zM139.3 129.8h1.7v1.7h-1.7zM139.5 137.5h1.7v1.7h-1.7zM138.6 128.9h1.7v1.7h-1.7zM140.1 126.4h1.7v1.7h-1.7zM140.9 130.3h1.7v1.7h-1.7zM145.1 167.1h1.7v1.7h-1.7zM146.9 177.5h1.7v1.7h-1.7zM143.3 163.2h1.7v1.7h-1.7zM146.4 170.9h1.7v1.7h-1.7zM146.5 173.1h1.7v1.7h-1.7zM148.3 177.1h1.7v1.7h-1.7zM145.0 164.7h1.7v1.7h-1.7zM144.8 164.1h1.7v1.7h-1.7zM145.1 164.5h1.7v1.7h-1.7zM147.0 181.7h1.7v1.7h-1.7zM145.1 161.7h1.7v1.7h-1.7zM147.2 173.2h1.7v1.7h-1.7zM148.2 181.0h1.7v1.7h-1.7zM145.5 167.5h1.7v1.7h-1.7zM147.1 166.8h1.7v1.7h-1.7zM144.8 163.9h1.7v1.7h-1.7zM148.7 180.2h1.7v1.7h-1.7zM145.2 162.2h1.7v1.7h-1.7zM147.1 177.9h1.7v1.7h-1.7zM150.0 184.2h1.7v1.7h-1.7zM146.4 164.4h1.7v1.7h-1.7zM148.6 173.4h1.7v1.7h-1.7zM147.9 177.8h1.7v1.7h-1.7zM147.4 174.5h1.7v1.7h-1.7zM148.9 184.7h1.7v1.7h-1.7zM149.4 175.7h1.7v1.7h-1.7zM145.6 167.4h1.7v1.7h-1.7zM143.9 171.7h1.7v1.7h-1.7zM146.2 179.5h1.7v1.7h-1.7zM144.4 162.9h1.7v1.7h-1.7zM144.4 160.0h1.7v1.7h-1.7zM149.0 184.6h1.7v1.7h-1.7zM144.3 159.2h1.7v1.7h-1.7zM146.3 166.0h1.7v1.7h-1.7zM147.3 173.3h1.7v1.7h-1.7z" fill="#00f"/>
<path d="M138.9 142.1h1.7v1.7h-1.7zM133.7 125.3h1.7v1.7h-1.7zM133.3 124.4h1.7v1.7h-1.7zM137.7 126.6h1.7v1.7h-1.7zM136.3 125.5h1.7v1.7h-1.7zM137.8 127.2h1.7v1.7h-1.7zM191.6 94.7h1.7v1.7h-1.7zM173.4 131.8h1.7v1.7h-1.7zM176.3 121.8h1.7v1.7h-1.7zM191.0 97.0h1.7v1.7h-1.7zM183.5 116.7h1.7v1.7h-1.7zM189.7 100.5h1.7v1.7h-1.7zM184.1 109.5h1.7v1.7h-1.7zM187.9 99.2h1.7v1.7h-1.7zM193.9 94.2h1.7v1.7h-1.7zM186.1 113.4h1.7v1.7h-1.7zM189.1 98.4h1.7v1.7h-1.7zM185.4 110.6h1.7v1.7h-1.7zM170.8 128.2h1.7v1.7h-1.7zM189.3 94.2h1.7v1.7h-1.7zM174.4 135.0h1.7v1.7h-1.7zM177.5 125.9h1.7v1.7h-1.7zM201.7 90.9h1.7v1.7h-1.7zM170.9 132.6h1.7v1.7h-1.7zM185.0 115.2h1.7v1.7h-1.7zM175.3 137.9h1.7v1.7h-1.7zM223.1 86.5h1.7v1.7h-1.7zM223.3 87.8h1.7v1.7h-1.7zM217.5 86.6h1.7v1.7h-1.7zM222.1 85.8h1.7v1.7h-1.7zM218.0 87.3h1.7v1.7h-1.7zM223.4 83.5h1.7v1.7h-1.7zM218.8 63.6h1.7v1.7h-1.7zM214.0 63.7h1.7v1.7h-1.7zM208.8 63.8h1.7v1.7h-1.7zM208.6 67.4h1.7v1.7h-1.7zM211.6 68.8h1.7v1.7h-1.7zM208.7 64.2h1.7v1.7h-1.7zM153.4 38.9h1.7v1.7h-1.7zM148.4 38.9h1.7v1.7h-1.7zM185.0 46.4h1.7v1.7h-1.7zM147.3 41.7h1.7v1.7h-1.7zM151.5 38.0h1.7v1.7h-1.7zM181.0 51.1h1.7v1.7h-1.7zM171.0 40.2h1.7v1.7h-1.7zM178.3 48.3h1.7v1.7h-1.7zM187.9 50.1h1.7v1.7h-1.7zM194.9 61.4h1.7v1.7h-1.7zM184.1 47.8h1.7v1.7h-1.7zM137.5 40.1h1.7v1.7h-1.7zM189.7 51.9h1.7v1.7h-1.7zM168.4 42.8h1.7v1.7h-1.7zM185.6 38.1h1.7v1.7h-1.7zM186.6 34.5h1.7v1.7h-1.7zM127.7 51.4h1.7v1.7h-1.7zM130.8 57.9h1.7v1.7h-1.7zM134.2 54.5h1.7v1.7h-1.7zM135.1 60.3h1.7v1.7h-1.7zM128.6 54.0h1.7v1.7h-1.7zM135.5 57.0h1.7v1.7h-1.7zM134.4 58.4h1.7v1.7h-1.7zM133.6 55.4h1.7v1.7h-1.7zM129.8 42.2h1.7v1.7h-1.7zM135.7 42.2h1.7v1.7h-1.7zM135.4 42.8h1.7v1.7h-1.7zM132.0 44.5h1.7v1.7h-1.7zM131.7 44.6h1.7v1.7h-1.7zM134.0 101.9h1.7v1.7h-1.7zM130.3 82.1h1.7v1.7h-1.7zM131.9 95.0h1.7v1.7h-1.7zM135.3 82.7h1.7v1.7h-1.7zM130.5 70.6h1.7v1.7h-1.7zM135.1 69.6h1.7v1.7h-1.7zM135.2 72.4h1.7v1.7h-1.7zM132.5 76.6h1.7v1.7h-1.7zM137.0 113.7h1.7v1.7h-1.7zM134.4 93.0h1.7v1.7h-1.7zM131.1 96.8h1.7v1.7h-1.7zM135.2 72.2h1.7v1.7h-1.7zM131.0 60.7h1.7v1.7h-1.7zM131.5 63.1h1.7v1.7h-1.7zM138.5 143.8h1.7v1.7h-1.7zM137.1 134.0h1.7v1.7h-1.7zM140.8 145.6h1.7v1.7h-1.7zM140.6 149.5h1.7v1.7h-1.7zM138.3 130.5h1.7v1.7h-1.7zM140.9 149.4h1.7v1.7h-1.7zM143.6 143.7h1.7v1.7h-1.7zM145.5 147.0h1.7v1.7h-1.7zM144.4 152.5h1.7v1.7h-1.7zM140.7 126.1h1.7v1.7h-1.7zM142.6 127.4h1.7v1.7h-1.7zM141.0 135.8h1.7v1.7h-1.7zM142.2 141.4h1.7v1.7h-1.7zM146.5 161.7h1.7v1.7h-1.7zM148.6 182.9h1.7v1.7h-1.7zM146.7 178.8h1.7v1.7h-1.7zM147.3 178.3h1.7v1.7h-1.7zM147.5 162.3h1.7v1.7h-1.7zM149.3 177.5h1.7v1.7h-1.7zM48.8 146.9h1.7v1.7h-1.7zM49.8 148.3h1.7v1.7h-1.7zM51.8 149.5h1.7v1.7h-1.7zM54.3 151.0h1.7v1.7h-1.7zM54.8 152.3h1.7v1.7h-1.7zM52.4 145.5h1.7v1.7h-1.7zM53.8 147.0h1.7v1.7h-1.7zM55.3 148.3h1.7v1.7h-1.7zM58.7 149.5h1.7v1.7h-1.7zM59.4 151.1h1.7v1.7h-1.7zM54.3 146.9h1.7v1.7h-1.7zM56.3 148.3h1.7v1.7h-1.7zM57.8 149.6h1.7v1.7h-1.7zM60.0 151.1h1.7v1.7h-1.7zM61.8 152.9h1.7v1.7h-1.7zM57.8 146.1h1.7v1.7h-1.7zM59.8 147.4h1.7v1.7h-1.7zM61.6 148.5h1.7v1.7h-1.7zM63.1 150.4h1.7v1.7h-1.7zM65.3 151.1h1.7v1.7h-1.7z" fill="#f00"/>
<path d="M202.3 91.3h1.7v1.7h-1.7zM172.7 129.9h1.7v1.7h-1.7zM187.9 103.1h1.7v1.7h-1.7zM171.1 128.6h1.7v1.7h-1.7zM181.1 109.8h1.7v1.7h-1.7zM143.7 39.0h1.7v1.7h-1.7zM139.6 109.1h1.7v1.7h-1.7zM189.1 99.8h1.7v1.7h-1.7zM207.9 91.5h1.7v1.7h-1.7zM157.1 40.0h1.7v1.7h-1.7zM133.9 48.9h1.7v1.7h-1.7zM90.5 130.5h1.7v1.7h-1.7zM187.3 55.7h1.7v1.7h-1.7zM151.8 158.2h1.7v1.7h-1.7zM150.8 166.5h1.7v1.7h-1.7zM132.1 88.2h1.7v1.7h-1.7zM127.5 53.8h1.7v1.7h-1.7zM222.7 76.1h1.7v1.7h-1.7zM142.7 138.2h1.7v1.7h-1.7zM52.3 155.6h1.7v1.7h-1.7zM53.9 146.2h1.7v1.7h-1.7zM53.2 149.9h1.7v1.7h-1.7zM56.8 148.9h1.7v1.7h-1.7zM186.4 52.3h1.7v1.7h-1.7zM158.5 128.6h1.7v1.7h-1.7zM201.8 62.3h1.7v1.7h-1.7zM225.4 98.6h1.7v1.7h-1.7zM203.0 56.6h1.7v1.7h-1.7zM147.6 128.9h1.7v1.7h-1.7zM255.3 99.0h1.7v1.7h-1.7zM197.2 184.6h1.7v1.7h-1.7zM143.7 12.0h1.7v1.7h-1.7zM115.3 108.7h1.7v1.7h-1.7zM84.3 141.5h1.7v1.7h-1.7z" fill="#0f0"/>
<line x1="33.50" y1="188.00" x2="33.50" y2="185.80" stroke="#6a6a6a" stroke-width="0.6"/>
<line x1="33.50" y1="5.50" x2="33.50" y2="7.70" stroke="#6a6a6a" stroke-width="0.6"/>
<line x1="59.33" y1="188.00" x2="59.33" y2="185.80" stroke="#6a6a6a" stroke-width="0.6"/>
<line x1="59.33" y1="5.50" x2="59.33" y2="7.70" stroke="#6a6a6a" stroke-width="0.6"/>
<line x1="85.17" y1="188.00" x2="85.17" y2="185.80" stroke="#6a6a6a" stroke-width="0.6"/>
<line x1="85.17" y1="5.50" x2="85.17" y2="7.70" stroke="#6a6a6a" stroke-width="0.6"/>
<line x1="111.00" y1="188.00" x2="111.00" y2="185.80" stroke="#6a6a6a" stroke-width="0.6"/>
<line x1="111.00" y1="5.50" x2="111.00" y2="7.70" stroke="#6a6a6a" stroke-width="0.6"/>
<line x1="136.83" y1="188.00" x2="136.83" y2="185.80" stroke="#6a6a6a" stroke-width="0.6"/>
<line x1="136.83" y1="5.50" x2="136.83" y2="7.70" stroke="#6a6a6a" stroke-width="0.6"/>
<line x1="162.67" y1="188.00" x2="162.67" y2="185.80" stroke="#6a6a6a" stroke-width="0.6"/>
<line x1="162.67" y1="5.50" x2="162.67" y2="7.70" stroke="#6a6a6a" stroke-width="0.6"/>
<line x1="188.50" y1="188.00" x2="188.50" y2="185.80" stroke="#6a6a6a" stroke-width="0.6"/>
<line x1="188.50" y1="5.50" x2="188.50" y2="7.70" stroke="#6a6a6a" stroke-width="0.6"/>
<line x1="214.33" y1="188.00" x2="214.33" y2="185.80" stroke="#6a6a6a" stroke-width="0.6"/>
<line x1="214.33" y1="5.50" x2="214.33" y2="7.70" stroke="#6a6a6a" stroke-width="0.6"/>
<line x1="240.17" y1="188.00" x2="240.17" y2="185.80" stroke="#6a6a6a" stroke-width="0.6"/>
<line x1="240.17" y1="5.50" x2="240.17" y2="7.70" stroke="#6a6a6a" stroke-width="0.6"/>
<line x1="266.00" y1="188.00" x2="266.00" y2="185.80" stroke="#6a6a6a" stroke-width="0.6"/>
<line x1="266.00" y1="5.50" x2="266.00" y2="7.70" stroke="#6a6a6a" stroke-width="0.6"/>
<line x1="33.50" y1="188.00" x2="35.70" y2="188.00" stroke="#6a6a6a" stroke-width="0.6"/>
<line x1="266.00" y1="188.00" x2="263.80" y2="188.00" stroke="#6a6a6a" stroke-width="0.6"/>
<line x1="33.50" y1="169.75" x2="35.70" y2="169.75" stroke="#6a6a6a" stroke-width="0.6"/>
<line x1="266.00" y1="169.75" x2="263.80" y2="169.75" stroke="#6a6a6a" stroke-width="0.6"/>
<line x1="33.50" y1="151.50" x2="35.70" y2="151.50" stroke="#6a6a6a" stroke-width="0.6"/>
<line x1="266.00" y1="151.50" x2="263.80" y2="151.50" stroke="#6a6a6a" stroke-width="0.6"/>
<line x1="33.50" y1="133.25" x2="35.70" y2="133.25" stroke="#6a6a6a" stroke-width="0.6"/>
<line x1="266.00" y1="133.25" x2="263.80" y2="133.25" stroke="#6a6a6a" stroke-width="0.6"/>
<line x1="33.50" y1="115.00" x2="35.70" y2="115.00" stroke="#6a6a6a" stroke-width="0.6"/>
<line x1="266.00" y1="115.00" x2="263.80" y2="115.00" stroke="#6a6a6a" stroke-width="0.6"/>
<line x1="33.50" y1="96.75" x2="35.70" y2="96.75" stroke="#6a6a6a" stroke-width="0.6"/>
<line x1="266.00" y1="96.75" x2="263.80" y2="96.75" stroke="#6a6a6a" stroke-width="0.6"/>
<line x1="33.50" y1="78.50" x2="35.70" y2="78.50" stroke="#6a6a6a" stroke-width="0.6"/>
<line x1="266.00" y1="78.50" x2="263.80" y2="78.50" stroke="#6a6a6a" stroke-width="0.6"/>
<line x1="33.50" y1="60.25" x2="35.70" y2="60.25" stroke="#6a6a6a" stroke-width="0.6"/>
<line x1="266.00" y1="60.25" x2="263.80" y2="60.25" stroke="#6a6a6a" stroke-width="0.6"/>
<line x1="33.50" y1="42.00" x2="35.70" y2="42.00" stroke="#6a6a6a" stroke-width="0.6"/>
<line x1="266.00" y1="42.00" x2="263.80" y2="42.00" stroke="#6a6a6a" stroke-width="0.6"/>
<line x1="33.50" y1="23.75" x2="35.70" y2="23.75" stroke="#6a6a6a" stroke-width="0.6"/>
<line x1="266.00" y1="23.75" x2="263.80" y2="23.75" stroke="#6a6a6a" stroke-width="0.6"/>
<line x1="33.50" y1="5.50" x2="35.70" y2="5.50" stroke="#6a6a6a" stroke-width="0.6"/>
<line x1="266.00" y1="5.50" x2="263.80" y2="5.50" stroke="#6a6a6a" stroke-width="0.6"/>
<rect x="33.50" y="5.50" width="232.50" height="182.50" fill="none" stroke="#6a6a6a" stroke-width="1.25"/>
<rect x="34.0" y="5.3" width="99.6" height="35.9" fill="#fff" stroke="#6a6a6a" stroke-width="0.8"/>
<rect x="44.5" y="9.25" width="1.9" height="1.9" fill="#000"/>
<text transform="translate(58.3,13.00) scale(1,1.05)" class="lg">Ground Truth</text>
<rect x="44.5" y="18.15" width="1.9" height="1.9" fill="#f00"/>
<text transform="translate(58.3,21.90) scale(1,1.05)" class="lg">EKF Update Results</text>
<rect x="44.5" y="27.05" width="1.9" height="1.9" fill="#0f0"/>
<text transform="translate(58.3,30.80) scale(1,1.05)" class="lg">EKF Predict Results</text>
<rect x="44.5" y="35.95" width="1.9" height="1.9" fill="#00f"/>
<text transform="translate(58.3,39.70) scale(1,1.05)" class="lg">Outlier Optimized Results</text>
<text transform="translate(33.50,198.60) scale(1,1.07)" text-anchor="middle" class="tk">-100</text>
<text transform="translate(59.33,198.60) scale(1,1.07)" text-anchor="middle" class="tk">0</text>
<text transform="translate(85.17,198.60) scale(1,1.07)" text-anchor="middle" class="tk">100</text>
<text transform="translate(111.00,198.60) scale(1,1.07)" text-anchor="middle" class="tk">200</text>
<text transform="translate(136.83,198.60) scale(1,1.07)" text-anchor="middle" class="tk">300</text>
<text transform="translate(162.67,198.60) scale(1,1.07)" text-anchor="middle" class="tk">400</text>
<text transform="translate(188.50,198.60) scale(1,1.07)" text-anchor="middle" class="tk">500</text>
<text transform="translate(214.33,198.60) scale(1,1.07)" text-anchor="middle" class="tk">600</text>
<text transform="translate(240.17,198.60) scale(1,1.07)" text-anchor="middle" class="tk">700</text>
<text transform="translate(266.00,198.60) scale(1,1.07)" text-anchor="middle" class="tk">800</text>
<text transform="translate(30.10,192.20) scale(1,1.07)" text-anchor="end" class="tk">-100</text>
<text transform="translate(30.10,173.95) scale(1,1.07)" text-anchor="end" class="tk">0</text>
<text transform="translate(30.10,155.70) scale(1,1.07)" text-anchor="end" class="tk">100</text>
<text transform="translate(30.10,137.45) scale(1,1.07)" text-anchor="end" class="tk">200</text>
<text transform="translate(30.10,119.20) scale(1,1.07)" text-anchor="end" class="tk">300</text>
<text transform="translate(30.10,100.95) scale(1,1.07)" text-anchor="end" class="tk">400</text>
<text transform="translate(30.10,82.70) scale(1,1.07)" text-anchor="end" class="tk">500</text>
<text transform="translate(30.10,64.45) scale(1,1.07)" text-anchor="end" class="tk">600</text>
<text transform="translate(30.10,46.20) scale(1,1.07)" text-anchor="end" class="tk">700</text>
<text transform="translate(30.10,27.95) scale(1,1.07)" text-anchor="end" class="tk">800</text>
<text transform="translate(30.10,9.70) scale(1,1.07)" text-anchor="end" class="tk">900</text>
<text transform="translate(149.75,209.50) scale(1,1.07)" text-anchor="middle" class="al">X/m</text>
<text transform="translate(12.00,96.75) rotate(-90)" x="0" y="0" text-anchor="middle" class="al">Y/m</text>
<text transform="translate(141.9,237.0) scale(1,1.06)" text-anchor="middle" class="cap">(a)</text>
<line x1="337.56" y1="5.50" x2="337.56" y2="188.00" stroke="#e2e2e2" stroke-width="0.7"/>
<line x1="366.62" y1="5.50" x2="366.62" y2="188.00" stroke="#e2e2e2" stroke-width="0.7"/>
<line x1="395.69" y1="5.50" x2="395.69" y2="188.00" stroke="#e2e2e2" stroke-width="0.7"/>
<line x1="424.75" y1="5.50" x2="424.75" y2="188.00" stroke="#e2e2e2" stroke-width="0.7"/>
<line x1="453.81" y1="5.50" x2="453.81" y2="188.00" stroke="#e2e2e2" stroke-width="0.7"/>
<line x1="482.88" y1="5.50" x2="482.88" y2="188.00" stroke="#e2e2e2" stroke-width="0.7"/>
<line x1="511.94" y1="5.50" x2="511.94" y2="188.00" stroke="#e2e2e2" stroke-width="0.7"/>
<line x1="308.50" y1="167.72" x2="541.00" y2="167.72" stroke="#e2e2e2" stroke-width="0.7"/>
<line x1="308.50" y1="147.44" x2="541.00" y2="147.44" stroke="#e2e2e2" stroke-width="0.7"/>
<line x1="308.50" y1="127.17" x2="541.00" y2="127.17" stroke="#e2e2e2" stroke-width="0.7"/>
<line x1="308.50" y1="106.89" x2="541.00" y2="106.89" stroke="#e2e2e2" stroke-width="0.7"/>
<line x1="308.50" y1="86.61" x2="541.00" y2="86.61" stroke="#e2e2e2" stroke-width="0.7"/>
<line x1="308.50" y1="66.33" x2="541.00" y2="66.33" stroke="#e2e2e2" stroke-width="0.7"/>
<line x1="308.50" y1="46.06" x2="541.00" y2="46.06" stroke="#e2e2e2" stroke-width="0.7"/>
<line x1="308.50" y1="25.78" x2="541.00" y2="25.78" stroke="#e2e2e2" stroke-width="0.7"/>
<path d="M329.8 142.7h1.8v1.8h-1.8zM329.9 144.7h1.8v1.8h-1.8zM327.1 144.4h1.8v1.8h-1.8zM335.4 142.9h1.8v1.8h-1.8zM335.1 143.3h1.8v1.8h-1.8zM332.5 143.5h1.8v1.8h-1.8zM324.1 141.8h1.8v1.8h-1.8zM332.9 142.7h1.8v1.8h-1.8zM324.0 148.2h1.8v1.8h-1.8zM327.2 145.0h1.8v1.8h-1.8zM332.1 144.0h1.8v1.8h-1.8zM333.0 145.5h1.8v1.8h-1.8zM332.1 142.9h1.8v1.8h-1.8zM328.2 139.7h1.8v1.8h-1.8zM333.1 141.0h1.8v1.8h-1.8zM328.3 145.7h1.8v1.8h-1.8zM329.5 144.2h1.8v1.8h-1.8zM333.4 143.3h1.8v1.8h-1.8zM329.0 146.2h1.8v1.8h-1.8zM328.7 140.9h1.8v1.8h-1.8zM327.6 143.3h1.8v1.8h-1.8zM332.6 147.5h1.8v1.8h-1.8zM331.0 140.7h1.8v1.8h-1.8zM322.7 144.7h1.8v1.8h-1.8zM330.4 145.9h1.8v1.8h-1.8zM332.9 144.1h1.8v1.8h-1.8zM324.9 141.9h1.8v1.8h-1.8zM333.6 141.6h1.8v1.8h-1.8zM336.7 143.0h1.8v1.8h-1.8zM331.3 147.1h1.8v1.8h-1.8zM333.4 145.4h1.8v1.8h-1.8zM329.0 147.0h1.8v1.8h-1.8zM326.9 145.2h1.8v1.8h-1.8zM336.1 148.9h1.8v1.8h-1.8zM324.9 143.3h1.8v1.8h-1.8zM336.7 142.5h1.8v1.8h-1.8zM323.1 150.0h1.8v1.8h-1.8zM332.3 145.7h1.8v1.8h-1.8zM326.3 141.5h1.8v1.8h-1.8zM335.3 143.5h1.8v1.8h-1.8zM331.9 142.9h1.8v1.8h-1.8zM337.3 142.4h1.8v1.8h-1.8zM333.0 142.6h1.8v1.8h-1.8zM324.5 140.8h1.8v1.8h-1.8zM334.7 142.6h1.8v1.8h-1.8zM322.8 145.5h1.8v1.8h-1.8zM334.3 148.3h1.8v1.8h-1.8zM330.1 141.4h1.8v1.8h-1.8zM325.5 140.0h1.8v1.8h-1.8zM333.1 144.3h1.8v1.8h-1.8zM332.2 142.3h1.8v1.8h-1.8zM331.3 141.1h1.8v1.8h-1.8zM328.2 144.9h1.8v1.8h-1.8zM335.1 143.8h1.8v1.8h-1.8zM327.3 141.6h1.8v1.8h-1.8zM336.8 145.0h1.8v1.8h-1.8zM325.2 144.2h1.8v1.8h-1.8zM330.2 144.6h1.8v1.8h-1.8zM336.6 146.4h1.8v1.8h-1.8zM336.0 147.0h1.8v1.8h-1.8zM327.6 142.4h1.8v1.8h-1.8zM335.4 141.8h1.8v1.8h-1.8zM332.3 143.6h1.8v1.8h-1.8zM331.5 142.5h1.8v1.8h-1.8zM330.1 143.2h1.8v1.8h-1.8zM333.2 143.9h1.8v1.8h-1.8zM334.0 142.5h1.8v1.8h-1.8zM339.0 143.1h1.8v1.8h-1.8zM329.1 144.8h1.8v1.8h-1.8zM330.8 141.7h1.8v1.8h-1.8zM329.5 143.0h1.8v1.8h-1.8zM338.3 150.1h1.8v1.8h-1.8zM326.3 143.3h1.8v1.8h-1.8zM332.5 143.3h1.8v1.8h-1.8zM329.1 142.3h1.8v1.8h-1.8zM332.0 145.2h1.8v1.8h-1.8zM340.7 143.0h1.8v1.8h-1.8zM328.6 144.2h1.8v1.8h-1.8zM329.9 144.1h1.8v1.8h-1.8zM319.8 145.1h1.8v1.8h-1.8zM335.0 146.8h1.8v1.8h-1.8zM330.6 141.6h1.8v1.8h-1.8zM334.3 140.3h1.8v1.8h-1.8zM323.9 144.8h1.8v1.8h-1.8zM329.5 142.4h1.8v1.8h-1.8zM335.3 150.4h1.8v1.8h-1.8zM335.3 147.4h1.8v1.8h-1.8zM333.6 147.5h1.8v1.8h-1.8zM331.6 141.0h1.8v1.8h-1.8zM330.2 143.4h1.8v1.8h-1.8zM334.1 143.6h1.8v1.8h-1.8zM330.5 140.2h1.8v1.8h-1.8zM335.1 144.6h1.8v1.8h-1.8zM342.0 146.7h1.8v1.8h-1.8zM334.6 144.6h1.8v1.8h-1.8zM331.4 142.2h1.8v1.8h-1.8zM331.8 142.4h1.8v1.8h-1.8zM324.6 147.6h1.8v1.8h-1.8zM333.4 146.3h1.8v1.8h-1.8zM326.7 147.5h1.8v1.8h-1.8zM336.0 142.1h1.8v1.8h-1.8zM336.8 146.2h1.8v1.8h-1.8zM330.9 146.7h1.8v1.8h-1.8zM334.0 140.0h1.8v1.8h-1.8zM327.2 140.1h1.8v1.8h-1.8zM334.9 144.3h1.8v1.8h-1.8zM322.8 140.5h1.8v1.8h-1.8zM330.5 145.4h1.8v1.8h-1.8zM332.5 142.9h1.8v1.8h-1.8zM336.9 146.4h1.8v1.8h-1.8zM335.5 140.3h1.8v1.8h-1.8zM336.8 144.3h1.8v1.8h-1.8zM327.8 141.4h1.8v1.8h-1.8zM331.3 143.6h1.8v1.8h-1.8zM336.6 144.5h1.8v1.8h-1.8zM321.5 144.9h1.8v1.8h-1.8zM323.3 141.9h1.8v1.8h-1.8zM332.1 145.4h1.8v1.8h-1.8zM330.8 141.9h1.8v1.8h-1.8zM331.2 140.7h1.8v1.8h-1.8zM330.6 141.4h1.8v1.8h-1.8zM336.9 140.0h1.8v1.8h-1.8zM328.1 141.8h1.8v1.8h-1.8zM323.2 146.5h1.8v1.8h-1.8zM322.9 141.3h1.8v1.8h-1.8zM325.8 143.9h1.8v1.8h-1.8zM330.1 144.0h1.8v1.8h-1.8zM328.4 143.3h1.8v1.8h-1.8zM338.1 143.8h1.8v1.8h-1.8zM333.0 141.5h1.8v1.8h-1.8zM330.0 147.0h1.8v1.8h-1.8zM328.6 141.3h1.8v1.8h-1.8zM324.2 145.4h1.8v1.8h-1.8zM334.9 142.0h1.8v1.8h-1.8zM330.9 141.9h1.8v1.8h-1.8zM331.5 146.8h1.8v1.8h-1.8zM324.5 145.5h1.8v1.8h-1.8zM334.6 145.3h1.8v1.8h-1.8zM327.2 145.8h1.8v1.8h-1.8zM324.6 144.2h1.8v1.8h-1.8zM326.1 143.0h1.8v1.8h-1.8zM321.2 143.1h1.8v1.8h-1.8zM328.2 148.6h1.8v1.8h-1.8zM333.8 144.6h1.8v1.8h-1.8zM321.8 146.0h1.8v1.8h-1.8zM332.0 145.0h1.8v1.8h-1.8zM334.0 142.1h1.8v1.8h-1.8zM333.6 143.1h1.8v1.8h-1.8zM336.3 142.3h1.8v1.8h-1.8zM332.7 149.0h1.8v1.8h-1.8zM334.5 140.7h1.8v1.8h-1.8zM329.6 145.1h1.8v1.8h-1.8zM338.7 148.2h1.8v1.8h-1.8zM332.8 138.0h1.8v1.8h-1.8zM327.1 142.2h1.8v1.8h-1.8zM338.5 144.2h1.8v1.8h-1.8zM333.1 141.7h1.8v1.8h-1.8zM327.2 144.1h1.8v1.8h-1.8zM332.0 141.9h1.8v1.8h-1.8zM330.7 144.4h1.8v1.8h-1.8zM326.7 144.8h1.8v1.8h-1.8zM334.5 143.7h1.8v1.8h-1.8zM327.4 146.0h1.8v1.8h-1.8zM341.7 141.1h1.8v1.8h-1.8zM333.4 150.2h1.8v1.8h-1.8zM333.4 142.7h1.8v1.8h-1.8zM337.7 142.9h1.8v1.8h-1.8zM330.6 142.6h1.8v1.8h-1.8zM322.9 141.4h1.8v1.8h-1.8zM332.2 145.6h1.8v1.8h-1.8zM336.2 139.5h1.8v1.8h-1.8zM325.1 145.5h1.8v1.8h-1.8zM332.0 143.5h1.8v1.8h-1.8zM329.2 146.3h1.8v1.8h-1.8zM339.5 141.4h1.8v1.8h-1.8zM326.0 147.2h1.8v1.8h-1.8zM337.8 141.5h1.8v1.8h-1.8zM338.3 141.9h1.8v1.8h-1.8zM327.3 143.3h1.8v1.8h-1.8zM322.1 145.7h1.8v1.8h-1.8zM330.6 142.6h1.8v1.8h-1.8zM327.9 144.2h1.8v1.8h-1.8zM332.7 143.0h1.8v1.8h-1.8zM333.4 143.4h1.8v1.8h-1.8zM329.5 142.0h1.8v1.8h-1.8zM331.1 145.9h1.8v1.8h-1.8zM328.3 143.9h1.8v1.8h-1.8zM330.4 143.5h1.8v1.8h-1.8zM330.8 143.5h1.8v1.8h-1.8zM330.3 147.0h1.8v1.8h-1.8zM332.6 141.3h1.8v1.8h-1.8zM332.6 144.4h1.8v1.8h-1.8zM332.7 146.3h1.8v1.8h-1.8zM323.1 143.8h1.8v1.8h-1.8zM327.1 142.1h1.8v1.8h-1.8zM326.4 150.3h1.8v1.8h-1.8zM326.6 140.1h1.8v1.8h-1.8zM329.3 147.2h1.8v1.8h-1.8zM327.7 142.6h1.8v1.8h-1.8zM332.9 143.5h1.8v1.8h-1.8zM336.9 142.2h1.8v1.8h-1.8zM330.8 142.5h1.8v1.8h-1.8zM337.6 141.5h1.8v1.8h-1.8zM335.0 146.5h1.8v1.8h-1.8zM330.2 142.1h1.8v1.8h-1.8zM329.6 141.3h1.8v1.8h-1.8zM333.3 141.7h1.8v1.8h-1.8zM330.0 137.7h1.8v1.8h-1.8zM335.9 144.4h1.8v1.8h-1.8zM331.2 137.6h1.8v1.8h-1.8zM329.5 141.8h1.8v1.8h-1.8zM334.8 143.9h1.8v1.8h-1.8zM326.1 143.5h1.8v1.8h-1.8zM332.3 141.2h1.8v1.8h-1.8zM334.0 143.8h1.8v1.8h-1.8zM334.3 142.6h1.8v1.8h-1.8zM331.7 143.8h1.8v1.8h-1.8zM329.9 142.2h1.8v1.8h-1.8zM326.6 145.4h1.8v1.8h-1.8zM330.9 147.5h1.8v1.8h-1.8zM329.1 148.8h1.8v1.8h-1.8zM328.1 142.5h1.8v1.8h-1.8zM333.2 144.0h1.8v1.8h-1.8zM329.9 147.4h1.8v1.8h-1.8zM338.3 142.7h1.8v1.8h-1.8zM335.3 146.1h1.8v1.8h-1.8zM330.1 148.3h1.8v1.8h-1.8zM334.0 141.6h1.8v1.8h-1.8zM323.1 144.0h1.8v1.8h-1.8zM333.4 148.2h1.8v1.8h-1.8zM323.4 146.5h1.8v1.8h-1.8zM328.3 147.3h1.8v1.8h-1.8zM331.0 143.3h1.8v1.8h-1.8zM333.4 142.2h1.8v1.8h-1.8zM337.0 141.1h1.8v1.8h-1.8zM325.5 145.1h1.8v1.8h-1.8zM326.5 146.5h1.8v1.8h-1.8zM330.5 143.9h1.8v1.8h-1.8zM332.8 147.8h1.8v1.8h-1.8zM325.8 144.0h1.8v1.8h-1.8zM329.1 145.0h1.8v1.8h-1.8zM329.9 146.5h1.8v1.8h-1.8zM334.5 142.7h1.8v1.8h-1.8zM329.7 146.2h1.8v1.8h-1.8zM329.2 153.3h1.8v1.8h-1.8zM324.3 143.8h1.8v1.8h-1.8zM321.1 143.2h1.8v1.8h-1.8zM331.2 148.7h1.8v1.8h-1.8zM328.7 145.0h1.8v1.8h-1.8zM333.1 141.8h1.8v1.8h-1.8zM330.0 146.8h1.8v1.8h-1.8zM329.4 144.1h1.8v1.8h-1.8zM334.8 142.9h1.8v1.8h-1.8zM325.9 148.6h1.8v1.8h-1.8zM328.0 146.5h1.8v1.8h-1.8zM323.5 144.3h1.8v1.8h-1.8zM327.3 143.5h1.8v1.8h-1.8zM333.5 145.3h1.8v1.8h-1.8zM344.5 145.0h1.8v1.8h-1.8zM337.0 143.5h1.8v1.8h-1.8zM337.1 152.1h1.8v1.8h-1.8zM325.7 143.1h1.8v1.8h-1.8zM333.9 135.9h1.8v1.8h-1.8zM332.2 139.5h1.8v1.8h-1.8zM334.9 140.6h1.8v1.8h-1.8zM333.4 144.4h1.8v1.8h-1.8zM333.4 147.6h1.8v1.8h-1.8zM337.5 147.4h1.8v1.8h-1.8zM331.8 136.6h1.8v1.8h-1.8zM328.9 143.8h1.8v1.8h-1.8zM325.8 143.0h1.8v1.8h-1.8zM334.4 135.9h1.8v1.8h-1.8zM333.4 136.9h1.8v1.8h-1.8zM341.3 129.0h1.8v1.8h-1.8zM342.9 128.4h1.8v1.8h-1.8zM331.3 136.2h1.8v1.8h-1.8zM343.5 124.4h1.8v1.8h-1.8zM335.0 134.1h1.8v1.8h-1.8zM330.9 142.3h1.8v1.8h-1.8zM344.2 123.5h1.8v1.8h-1.8zM337.2 131.4h1.8v1.8h-1.8zM347.8 126.4h1.8v1.8h-1.8zM343.1 132.5h1.8v1.8h-1.8zM336.8 132.6h1.8v1.8h-1.8zM336.6 127.8h1.8v1.8h-1.8zM338.5 129.8h1.8v1.8h-1.8zM345.8 123.7h1.8v1.8h-1.8zM332.6 133.7h1.8v1.8h-1.8zM344.7 121.7h1.8v1.8h-1.8zM330.9 137.7h1.8v1.8h-1.8zM331.8 138.9h1.8v1.8h-1.8zM342.0 125.4h1.8v1.8h-1.8zM346.2 125.4h1.8v1.8h-1.8zM330.9 139.7h1.8v1.8h-1.8zM335.2 135.6h1.8v1.8h-1.8zM328.0 139.4h1.8v1.8h-1.8zM338.6 127.4h1.8v1.8h-1.8zM335.1 131.6h1.8v1.8h-1.8zM328.2 137.7h1.8v1.8h-1.8zM327.0 140.7h1.8v1.8h-1.8zM414.3 126.4h1.8v1.8h-1.8zM353.7 123.3h1.8v1.8h-1.8zM425.2 130.8h1.8v1.8h-1.8zM342.5 129.5h1.8v1.8h-1.8zM413.9 127.5h1.8v1.8h-1.8zM333.6 128.8h1.8v1.8h-1.8zM414.2 131.0h1.8v1.8h-1.8zM356.7 123.7h1.8v1.8h-1.8zM379.3 129.9h1.8v1.8h-1.8zM398.1 129.3h1.8v1.8h-1.8zM374.7 126.3h1.8v1.8h-1.8zM406.8 123.7h1.8v1.8h-1.8zM392.8 126.0h1.8v1.8h-1.8zM353.7 126.2h1.8v1.8h-1.8zM346.5 124.3h1.8v1.8h-1.8zM386.0 125.9h1.8v1.8h-1.8zM391.0 126.6h1.8v1.8h-1.8zM378.9 126.8h1.8v1.8h-1.8zM414.2 127.6h1.8v1.8h-1.8zM359.1 124.9h1.8v1.8h-1.8zM364.0 124.6h1.8v1.8h-1.8zM394.4 126.3h1.8v1.8h-1.8zM396.8 127.4h1.8v1.8h-1.8zM338.3 127.9h1.8v1.8h-1.8zM398.1 124.2h1.8v1.8h-1.8zM400.5 127.2h1.8v1.8h-1.8zM422.4 125.4h1.8v1.8h-1.8zM354.7 121.5h1.8v1.8h-1.8zM362.7 125.3h1.8v1.8h-1.8zM350.3 122.2h1.8v1.8h-1.8zM396.4 127.2h1.8v1.8h-1.8zM370.8 121.5h1.8v1.8h-1.8zM346.4 123.4h1.8v1.8h-1.8zM373.2 127.7h1.8v1.8h-1.8zM406.9 127.2h1.8v1.8h-1.8zM365.4 121.6h1.8v1.8h-1.8zM406.2 126.8h1.8v1.8h-1.8zM366.5 124.5h1.8v1.8h-1.8zM350.1 123.8h1.8v1.8h-1.8zM366.5 125.5h1.8v1.8h-1.8zM424.1 126.7h1.8v1.8h-1.8zM411.0 129.1h1.8v1.8h-1.8zM338.2 128.2h1.8v1.8h-1.8zM420.0 126.5h1.8v1.8h-1.8zM419.4 127.5h1.8v1.8h-1.8zM409.1 128.0h1.8v1.8h-1.8zM344.5 127.9h1.8v1.8h-1.8zM356.4 127.9h1.8v1.8h-1.8zM363.4 121.2h1.8v1.8h-1.8zM390.2 124.2h1.8v1.8h-1.8zM362.1 124.8h1.8v1.8h-1.8zM406.5 128.4h1.8v1.8h-1.8zM423.2 127.9h1.8v1.8h-1.8zM382.6 127.3h1.8v1.8h-1.8zM368.7 123.9h1.8v1.8h-1.8zM380.1 126.7h1.8v1.8h-1.8zM407.8 130.5h1.8v1.8h-1.8zM403.7 128.2h1.8v1.8h-1.8zM359.8 122.8h1.8v1.8h-1.8zM343.3 124.3h1.8v1.8h-1.8zM356.2 124.1h1.8v1.8h-1.8zM381.4 122.5h1.8v1.8h-1.8zM417.6 127.9h1.8v1.8h-1.8zM344.6 125.5h1.8v1.8h-1.8zM397.7 126.7h1.8v1.8h-1.8zM369.0 127.6h1.8v1.8h-1.8zM404.9 129.2h1.8v1.8h-1.8zM345.4 125.8h1.8v1.8h-1.8zM383.1 124.7h1.8v1.8h-1.8zM351.1 122.8h1.8v1.8h-1.8zM349.0 125.1h1.8v1.8h-1.8zM357.3 122.0h1.8v1.8h-1.8zM380.6 123.4h1.8v1.8h-1.8zM395.1 126.9h1.8v1.8h-1.8zM378.9 129.1h1.8v1.8h-1.8zM420.6 127.6h1.8v1.8h-1.8zM346.6 120.7h1.8v1.8h-1.8zM389.3 127.3h1.8v1.8h-1.8zM412.5 127.3h1.8v1.8h-1.8zM406.8 127.6h1.8v1.8h-1.8zM387.4 127.4h1.8v1.8h-1.8zM368.0 124.6h1.8v1.8h-1.8zM353.6 125.7h1.8v1.8h-1.8zM353.5 123.9h1.8v1.8h-1.8zM397.1 125.7h1.8v1.8h-1.8zM352.3 126.0h1.8v1.8h-1.8zM343.1 126.8h1.8v1.8h-1.8zM383.5 127.0h1.8v1.8h-1.8zM346.9 125.3h1.8v1.8h-1.8zM356.9 120.9h1.8v1.8h-1.8zM359.7 125.5h1.8v1.8h-1.8zM376.7 130.1h1.8v1.8h-1.8zM367.8 123.0h1.8v1.8h-1.8zM356.5 123.9h1.8v1.8h-1.8zM373.2 127.5h1.8v1.8h-1.8zM414.4 127.5h1.8v1.8h-1.8zM335.4 131.1h1.8v1.8h-1.8zM421.1 126.7h1.8v1.8h-1.8zM365.9 125.5h1.8v1.8h-1.8zM353.7 125.1h1.8v1.8h-1.8zM338.8 123.7h1.8v1.8h-1.8zM341.0 124.2h1.8v1.8h-1.8zM338.8 123.3h1.8v1.8h-1.8zM339.9 126.4h1.8v1.8h-1.8zM340.6 126.2h1.8v1.8h-1.8zM337.5 124.3h1.8v1.8h-1.8zM340.7 124.9h1.8v1.8h-1.8zM415.2 126.3h1.8v1.8h-1.8zM413.8 127.2h1.8v1.8h-1.8zM415.5 126.6h1.8v1.8h-1.8zM414.5 128.8h1.8v1.8h-1.8zM336.5 129.3h1.8v1.8h-1.8zM337.0 131.2h1.8v1.8h-1.8zM335.4 130.4h1.8v1.8h-1.8zM337.1 130.9h1.8v1.8h-1.8zM335.3 130.6h1.8v1.8h-1.8zM334.9 130.3h1.8v1.8h-1.8zM336.0 130.8h1.8v1.8h-1.8zM335.0 130.0h1.8v1.8h-1.8zM337.9 130.0h1.8v1.8h-1.8zM334.7 129.7h1.8v1.8h-1.8zM347.3 123.6h1.8v1.8h-1.8zM346.0 124.1h1.8v1.8h-1.8zM346.0 124.3h1.8v1.8h-1.8zM346.1 125.4h1.8v1.8h-1.8zM345.9 124.1h1.8v1.8h-1.8zM345.2 124.1h1.8v1.8h-1.8zM346.9 124.2h1.8v1.8h-1.8zM416.9 126.8h1.8v1.8h-1.8zM417.4 126.0h1.8v1.8h-1.8zM416.9 127.0h1.8v1.8h-1.8zM419.3 127.5h1.8v1.8h-1.8zM417.4 128.5h1.8v1.8h-1.8zM419.1 126.8h1.8v1.8h-1.8zM360.3 124.2h1.8v1.8h-1.8zM363.1 123.5h1.8v1.8h-1.8zM361.9 124.2h1.8v1.8h-1.8zM363.6 124.0h1.8v1.8h-1.8zM350.7 124.7h1.8v1.8h-1.8zM350.5 125.9h1.8v1.8h-1.8zM350.8 125.9h1.8v1.8h-1.8zM352.9 125.8h1.8v1.8h-1.8zM350.6 124.5h1.8v1.8h-1.8zM350.7 123.7h1.8v1.8h-1.8zM351.0 126.0h1.8v1.8h-1.8zM358.9 121.0h1.8v1.8h-1.8zM359.4 121.9h1.8v1.8h-1.8zM360.1 122.3h1.8v1.8h-1.8zM360.5 122.6h1.8v1.8h-1.8zM358.0 123.9h1.8v1.8h-1.8zM386.4 127.3h1.8v1.8h-1.8zM387.7 128.9h1.8v1.8h-1.8zM387.0 127.6h1.8v1.8h-1.8zM386.0 127.8h1.8v1.8h-1.8zM388.1 127.9h1.8v1.8h-1.8zM386.4 128.2h1.8v1.8h-1.8zM366.2 125.3h1.8v1.8h-1.8zM366.0 125.6h1.8v1.8h-1.8zM368.7 123.6h1.8v1.8h-1.8zM366.9 124.5h1.8v1.8h-1.8zM368.3 124.3h1.8v1.8h-1.8zM368.3 126.0h1.8v1.8h-1.8zM366.2 124.6h1.8v1.8h-1.8zM368.6 124.9h1.8v1.8h-1.8zM365.9 125.3h1.8v1.8h-1.8zM386.6 125.2h1.8v1.8h-1.8zM387.3 126.2h1.8v1.8h-1.8zM387.2 125.3h1.8v1.8h-1.8zM387.9 125.3h1.8v1.8h-1.8zM387.3 127.2h1.8v1.8h-1.8zM342.0 122.9h1.8v1.8h-1.8zM344.0 123.3h1.8v1.8h-1.8zM343.3 122.2h1.8v1.8h-1.8zM346.0 122.3h1.8v1.8h-1.8zM344.1 124.1h1.8v1.8h-1.8zM345.9 122.8h1.8v1.8h-1.8zM343.7 123.8h1.8v1.8h-1.8zM343.6 123.7h1.8v1.8h-1.8zM343.8 122.5h1.8v1.8h-1.8zM354.7 123.1h1.8v1.8h-1.8zM355.0 123.9h1.8v1.8h-1.8zM357.9 125.1h1.8v1.8h-1.8zM357.3 124.4h1.8v1.8h-1.8zM356.3 125.1h1.8v1.8h-1.8zM347.4 123.3h1.8v1.8h-1.8zM347.3 125.8h1.8v1.8h-1.8zM347.4 124.6h1.8v1.8h-1.8zM348.2 124.3h1.8v1.8h-1.8zM347.6 122.1h1.8v1.8h-1.8zM390.3 128.6h1.8v1.8h-1.8zM388.9 128.8h1.8v1.8h-1.8zM389.5 129.5h1.8v1.8h-1.8zM389.0 129.5h1.8v1.8h-1.8zM391.2 129.5h1.8v1.8h-1.8zM390.1 128.9h1.8v1.8h-1.8zM390.1 128.9h1.8v1.8h-1.8zM390.6 128.6h1.8v1.8h-1.8zM344.0 124.2h1.8v1.8h-1.8zM344.0 124.4h1.8v1.8h-1.8zM346.0 122.7h1.8v1.8h-1.8zM343.2 122.0h1.8v1.8h-1.8zM345.6 124.6h1.8v1.8h-1.8zM346.7 122.4h1.8v1.8h-1.8zM421.6 128.6h1.8v1.8h-1.8zM353.0 123.3h1.8v1.8h-1.8zM415.9 133.5h1.8v1.8h-1.8zM406.7 130.2h1.8v1.8h-1.8zM352.0 121.4h1.8v1.8h-1.8zM348.8 119.8h1.8v1.8h-1.8zM338.7 126.4h1.8v1.8h-1.8zM396.1 124.2h1.8v1.8h-1.8zM411.0 128.3h1.8v1.8h-1.8zM397.1 125.8h1.8v1.8h-1.8zM374.2 130.2h1.8v1.8h-1.8zM394.5 127.8h1.8v1.8h-1.8zM423.8 123.2h1.8v1.8h-1.8zM352.6 123.8h1.8v1.8h-1.8zM404.9 127.3h1.8v1.8h-1.8zM367.2 125.9h1.8v1.8h-1.8zM343.8 123.7h1.8v1.8h-1.8zM409.9 116.9h1.8v1.8h-1.8zM361.2 117.9h1.8v1.8h-1.8zM386.3 122.3h1.8v1.8h-1.8zM344.5 133.5h1.8v1.8h-1.8zM402.5 130.4h1.8v1.8h-1.8zM359.5 120.0h1.8v1.8h-1.8zM343.6 127.2h1.8v1.8h-1.8zM350.6 114.5h1.8v1.8h-1.8zM369.9 120.0h1.8v1.8h-1.8zM346.7 122.8h1.8v1.8h-1.8zM403.7 133.7h1.8v1.8h-1.8zM363.4 123.0h1.8v1.8h-1.8zM406.5 133.9h1.8v1.8h-1.8zM431.1 127.8h1.8v1.8h-1.8zM454.1 128.3h1.8v1.8h-1.8zM465.0 125.3h1.8v1.8h-1.8zM439.1 131.6h1.8v1.8h-1.8zM434.6 127.8h1.8v1.8h-1.8zM440.2 129.2h1.8v1.8h-1.8zM443.5 125.5h1.8v1.8h-1.8zM463.2 126.1h1.8v1.8h-1.8zM427.0 125.8h1.8v1.8h-1.8zM461.6 129.3h1.8v1.8h-1.8zM434.9 129.3h1.8v1.8h-1.8zM435.6 128.6h1.8v1.8h-1.8zM445.4 131.3h1.8v1.8h-1.8zM447.5 130.5h1.8v1.8h-1.8zM431.5 129.5h1.8v1.8h-1.8zM461.3 129.0h1.8v1.8h-1.8zM452.3 130.9h1.8v1.8h-1.8zM436.3 131.7h1.8v1.8h-1.8zM459.7 130.6h1.8v1.8h-1.8zM455.5 129.9h1.8v1.8h-1.8zM440.1 129.5h1.8v1.8h-1.8zM446.1 131.4h1.8v1.8h-1.8zM454.7 127.6h1.8v1.8h-1.8zM445.5 130.2h1.8v1.8h-1.8zM457.9 129.1h1.8v1.8h-1.8zM456.2 130.3h1.8v1.8h-1.8zM449.2 129.3h1.8v1.8h-1.8zM452.9 127.3h1.8v1.8h-1.8zM465.5 125.0h1.8v1.8h-1.8zM449.2 130.0h1.8v1.8h-1.8zM447.1 131.4h1.8v1.8h-1.8zM445.8 127.5h1.8v1.8h-1.8zM435.4 130.1h1.8v1.8h-1.8zM464.7 125.2h1.8v1.8h-1.8zM444.2 128.7h1.8v1.8h-1.8zM446.7 129.0h1.8v1.8h-1.8zM444.9 130.4h1.8v1.8h-1.8zM439.2 126.6h1.8v1.8h-1.8zM465.0 125.1h1.8v1.8h-1.8zM461.0 127.1h1.8v1.8h-1.8zM433.2 131.2h1.8v1.8h-1.8zM452.4 128.7h1.8v1.8h-1.8zM438.7 129.1h1.8v1.8h-1.8zM456.7 131.4h1.8v1.8h-1.8zM446.9 127.5h1.8v1.8h-1.8zM433.4 129.7h1.8v1.8h-1.8zM463.8 125.7h1.8v1.8h-1.8zM436.9 128.5h1.8v1.8h-1.8zM426.7 129.4h1.8v1.8h-1.8zM437.0 127.3h1.8v1.8h-1.8zM443.9 130.8h1.8v1.8h-1.8zM446.5 130.3h1.8v1.8h-1.8zM431.5 131.2h1.8v1.8h-1.8zM463.8 125.8h1.8v1.8h-1.8zM455.2 129.0h1.8v1.8h-1.8zM465.9 125.5h1.8v1.8h-1.8zM432.3 127.7h1.8v1.8h-1.8zM460.4 127.3h1.8v1.8h-1.8zM465.8 126.6h1.8v1.8h-1.8zM462.3 127.7h1.8v1.8h-1.8zM458.2 130.5h1.8v1.8h-1.8zM457.5 130.2h1.8v1.8h-1.8zM457.6 129.3h1.8v1.8h-1.8zM457.8 130.2h1.8v1.8h-1.8zM459.7 129.5h1.8v1.8h-1.8zM459.9 129.3h1.8v1.8h-1.8zM431.7 130.5h1.8v1.8h-1.8zM436.2 130.0h1.8v1.8h-1.8zM432.5 129.9h1.8v1.8h-1.8zM432.8 131.4h1.8v1.8h-1.8zM433.1 129.5h1.8v1.8h-1.8zM434.4 130.1h1.8v1.8h-1.8zM453.7 128.6h1.8v1.8h-1.8zM454.4 128.3h1.8v1.8h-1.8zM454.6 131.0h1.8v1.8h-1.8zM427.5 127.3h1.8v1.8h-1.8zM427.9 128.0h1.8v1.8h-1.8zM450.8 131.6h1.8v1.8h-1.8zM449.6 130.6h1.8v1.8h-1.8zM452.4 130.9h1.8v1.8h-1.8zM438.9 133.4h1.8v1.8h-1.8zM439.6 131.6h1.8v1.8h-1.8zM439.6 131.2h1.8v1.8h-1.8zM438.7 133.3h1.8v1.8h-1.8zM441.9 131.9h1.8v1.8h-1.8zM509.4 75.4h1.8v1.8h-1.8zM477.3 107.5h1.8v1.8h-1.8zM509.9 76.4h1.8v1.8h-1.8zM505.3 79.8h1.8v1.8h-1.8zM485.2 89.6h1.8v1.8h-1.8zM486.7 89.7h1.8v1.8h-1.8zM486.3 82.9h1.8v1.8h-1.8zM469.2 120.6h1.8v1.8h-1.8zM504.3 80.3h1.8v1.8h-1.8zM480.3 106.8h1.8v1.8h-1.8zM485.5 88.1h1.8v1.8h-1.8zM478.2 97.0h1.8v1.8h-1.8zM491.5 85.8h1.8v1.8h-1.8zM487.7 89.5h1.8v1.8h-1.8zM496.3 79.9h1.8v1.8h-1.8zM484.1 97.5h1.8v1.8h-1.8zM496.5 91.0h1.8v1.8h-1.8zM480.5 95.2h1.8v1.8h-1.8zM491.1 83.9h1.8v1.8h-1.8zM469.9 126.5h1.8v1.8h-1.8zM470.8 120.0h1.8v1.8h-1.8zM509.3 75.3h1.8v1.8h-1.8zM496.1 77.3h1.8v1.8h-1.8zM476.6 113.9h1.8v1.8h-1.8zM498.8 84.7h1.8v1.8h-1.8zM464.6 125.2h1.8v1.8h-1.8zM483.7 97.6h1.8v1.8h-1.8zM517.7 73.2h1.8v1.8h-1.8zM460.8 130.3h1.8v1.8h-1.8zM466.1 119.1h1.8v1.8h-1.8zM473.0 118.9h1.8v1.8h-1.8zM464.3 121.7h1.8v1.8h-1.8zM479.5 99.5h1.8v1.8h-1.8zM498.7 75.1h1.8v1.8h-1.8zM486.7 85.0h1.8v1.8h-1.8zM506.7 79.5h1.8v1.8h-1.8zM485.6 89.0h1.8v1.8h-1.8zM516.9 76.9h1.8v1.8h-1.8zM468.6 109.5h1.8v1.8h-1.8zM502.8 78.0h1.8v1.8h-1.8zM482.6 100.5h1.8v1.8h-1.8zM487.3 86.1h1.8v1.8h-1.8zM502.9 77.3h1.8v1.8h-1.8zM469.6 108.6h1.8v1.8h-1.8zM504.6 77.7h1.8v1.8h-1.8zM508.1 81.3h1.8v1.8h-1.8zM485.3 84.9h1.8v1.8h-1.8zM499.9 82.4h1.8v1.8h-1.8zM480.6 102.8h1.8v1.8h-1.8zM503.8 73.9h1.8v1.8h-1.8zM515.3 70.5h1.8v1.8h-1.8zM490.4 83.0h1.8v1.8h-1.8zM473.4 114.9h1.8v1.8h-1.8zM486.6 94.5h1.8v1.8h-1.8zM500.2 75.4h1.8v1.8h-1.8zM514.7 76.8h1.8v1.8h-1.8zM480.0 96.5h1.8v1.8h-1.8zM473.4 111.4h1.8v1.8h-1.8zM474.1 104.3h1.8v1.8h-1.8zM484.1 92.4h1.8v1.8h-1.8zM519.8 71.0h1.8v1.8h-1.8zM490.4 87.4h1.8v1.8h-1.8zM485.4 85.6h1.8v1.8h-1.8zM475.3 124.7h1.8v1.8h-1.8zM504.1 75.5h1.8v1.8h-1.8zM474.3 112.7h1.8v1.8h-1.8zM516.9 77.9h1.8v1.8h-1.8zM517.8 72.2h1.8v1.8h-1.8zM472.0 113.3h1.8v1.8h-1.8zM460.2 126.3h1.8v1.8h-1.8zM488.4 98.7h1.8v1.8h-1.8zM464.8 125.2h1.8v1.8h-1.8zM471.8 120.4h1.8v1.8h-1.8zM480.3 94.7h1.8v1.8h-1.8zM489.2 82.1h1.8v1.8h-1.8zM480.8 118.7h1.8v1.8h-1.8zM474.8 112.4h1.8v1.8h-1.8zM483.1 107.1h1.8v1.8h-1.8zM511.7 75.4h1.8v1.8h-1.8zM488.9 87.4h1.8v1.8h-1.8zM470.7 121.0h1.8v1.8h-1.8zM514.2 75.5h1.8v1.8h-1.8zM487.5 89.6h1.8v1.8h-1.8zM475.8 104.7h1.8v1.8h-1.8zM483.3 93.8h1.8v1.8h-1.8zM469.6 118.7h1.8v1.8h-1.8zM496.0 80.8h1.8v1.8h-1.8zM515.9 68.4h1.8v1.8h-1.8zM510.1 76.6h1.8v1.8h-1.8zM487.3 94.5h1.8v1.8h-1.8zM503.6 78.4h1.8v1.8h-1.8zM478.2 107.4h1.8v1.8h-1.8zM491.2 84.9h1.8v1.8h-1.8zM466.2 127.2h1.8v1.8h-1.8zM471.7 119.6h1.8v1.8h-1.8zM480.9 98.4h1.8v1.8h-1.8zM505.0 75.3h1.8v1.8h-1.8zM479.3 90.0h1.8v1.8h-1.8zM470.3 120.5h1.8v1.8h-1.8zM510.1 76.4h1.8v1.8h-1.8zM482.8 89.2h1.8v1.8h-1.8zM480.9 93.0h1.8v1.8h-1.8zM480.8 94.2h1.8v1.8h-1.8zM484.8 91.7h1.8v1.8h-1.8zM482.2 94.4h1.8v1.8h-1.8zM485.9 91.3h1.8v1.8h-1.8zM478.3 106.0h1.8v1.8h-1.8zM478.0 103.5h1.8v1.8h-1.8zM478.3 105.1h1.8v1.8h-1.8zM476.4 105.0h1.8v1.8h-1.8zM478.5 102.8h1.8v1.8h-1.8zM477.0 105.5h1.8v1.8h-1.8zM473.0 120.3h1.8v1.8h-1.8zM475.3 121.4h1.8v1.8h-1.8zM469.9 121.5h1.8v1.8h-1.8zM472.4 119.0h1.8v1.8h-1.8zM482.4 101.5h1.8v1.8h-1.8zM483.7 102.5h1.8v1.8h-1.8zM481.5 100.5h1.8v1.8h-1.8zM483.5 101.2h1.8v1.8h-1.8zM482.8 101.2h1.8v1.8h-1.8zM474.2 117.8h1.8v1.8h-1.8zM472.7 119.0h1.8v1.8h-1.8zM472.5 118.3h1.8v1.8h-1.8zM472.7 118.1h1.8v1.8h-1.8zM469.6 116.9h1.8v1.8h-1.8zM471.6 117.9h1.8v1.8h-1.8zM471.1 117.7h1.8v1.8h-1.8zM505.6 72.5h1.8v1.8h-1.8zM507.4 72.5h1.8v1.8h-1.8zM509.0 72.6h1.8v1.8h-1.8zM508.1 71.9h1.8v1.8h-1.8zM507.7 70.2h1.8v1.8h-1.8zM471.0 124.5h1.8v1.8h-1.8zM469.3 125.1h1.8v1.8h-1.8zM470.3 121.3h1.8v1.8h-1.8zM472.8 123.3h1.8v1.8h-1.8zM470.2 122.2h1.8v1.8h-1.8zM472.1 124.2h1.8v1.8h-1.8zM466.4 122.4h1.8v1.8h-1.8zM470.6 119.8h1.8v1.8h-1.8zM469.3 121.8h1.8v1.8h-1.8zM471.2 123.6h1.8v1.8h-1.8zM467.9 120.3h1.8v1.8h-1.8zM470.4 122.3h1.8v1.8h-1.8zM486.3 103.6h1.8v1.8h-1.8zM486.9 100.7h1.8v1.8h-1.8zM484.9 101.0h1.8v1.8h-1.8zM483.6 102.7h1.8v1.8h-1.8zM484.8 105.9h1.8v1.8h-1.8zM512.8 74.6h1.8v1.8h-1.8zM513.3 73.9h1.8v1.8h-1.8zM512.0 73.2h1.8v1.8h-1.8zM514.9 73.7h1.8v1.8h-1.8zM516.9 74.2h1.8v1.8h-1.8zM516.2 74.4h1.8v1.8h-1.8zM515.2 76.1h1.8v1.8h-1.8zM514.3 74.0h1.8v1.8h-1.8zM492.0 79.7h1.8v1.8h-1.8zM488.7 81.2h1.8v1.8h-1.8zM492.0 83.9h1.8v1.8h-1.8zM491.6 81.4h1.8v1.8h-1.8zM491.3 81.6h1.8v1.8h-1.8zM485.7 83.6h1.8v1.8h-1.8zM485.0 85.1h1.8v1.8h-1.8zM486.6 84.5h1.8v1.8h-1.8zM485.5 83.8h1.8v1.8h-1.8zM485.7 84.1h1.8v1.8h-1.8zM453.5 125.3h1.8v1.8h-1.8zM477.9 90.8h1.8v1.8h-1.8zM469.2 120.4h1.8v1.8h-1.8zM477.9 95.1h1.8v1.8h-1.8zM475.7 102.8h1.8v1.8h-1.8zM475.3 88.3h1.8v1.8h-1.8zM454.6 117.8h1.8v1.8h-1.8zM463.9 114.0h1.8v1.8h-1.8zM481.3 109.0h1.8v1.8h-1.8zM501.4 76.8h1.8v1.8h-1.8zM506.4 74.9h1.8v1.8h-1.8zM466.0 98.2h1.8v1.8h-1.8zM472.2 106.5h1.8v1.8h-1.8zM501.4 76.0h1.8v1.8h-1.8zM471.9 111.0h1.8v1.8h-1.8zM511.3 82.4h1.8v1.8h-1.8zM496.7 89.9h1.8v1.8h-1.8zM484.6 104.5h1.8v1.8h-1.8zM524.7 66.1h1.8v1.8h-1.8zM464.9 134.7h1.8v1.8h-1.8zM497.1 46.7h1.8v1.8h-1.8zM502.0 52.5h1.8v1.8h-1.8zM481.6 40.6h1.8v1.8h-1.8zM496.7 48.9h1.8v1.8h-1.8zM500.4 50.1h1.8v1.8h-1.8zM510.5 55.7h1.8v1.8h-1.8zM491.5 45.6h1.8v1.8h-1.8zM513.1 50.3h1.8v1.8h-1.8zM491.6 40.8h1.8v1.8h-1.8zM512.1 55.0h1.8v1.8h-1.8zM456.9 25.1h1.8v1.8h-1.8zM461.3 28.6h1.8v1.8h-1.8zM480.8 43.9h1.8v1.8h-1.8zM461.2 36.2h1.8v1.8h-1.8zM487.2 45.8h1.8v1.8h-1.8zM500.8 47.3h1.8v1.8h-1.8zM510.8 51.8h1.8v1.8h-1.8zM493.1 44.1h1.8v1.8h-1.8zM498.7 50.0h1.8v1.8h-1.8zM466.4 30.2h1.8v1.8h-1.8zM491.8 52.5h1.8v1.8h-1.8zM502.1 51.8h1.8v1.8h-1.8zM514.8 54.8h1.8v1.8h-1.8zM466.3 31.7h1.8v1.8h-1.8zM459.9 32.7h1.8v1.8h-1.8zM455.5 27.5h1.8v1.8h-1.8zM517.6 58.5h1.8v1.8h-1.8zM493.4 44.7h1.8v1.8h-1.8zM479.9 42.3h1.8v1.8h-1.8zM452.3 26.5h1.8v1.8h-1.8zM501.9 50.4h1.8v1.8h-1.8zM479.6 38.5h1.8v1.8h-1.8zM462.9 32.4h1.8v1.8h-1.8zM513.9 58.1h1.8v1.8h-1.8zM511.7 56.0h1.8v1.8h-1.8zM449.9 26.9h1.8v1.8h-1.8zM522.0 60.4h1.8v1.8h-1.8zM521.0 63.6h1.8v1.8h-1.8zM492.9 47.9h1.8v1.8h-1.8zM469.5 32.5h1.8v1.8h-1.8zM469.4 31.7h1.8v1.8h-1.8zM507.5 49.3h1.8v1.8h-1.8zM522.9 66.3h1.8v1.8h-1.8zM504.1 50.2h1.8v1.8h-1.8zM523.4 69.6h1.8v1.8h-1.8zM452.2 26.1h1.8v1.8h-1.8zM521.3 53.7h1.8v1.8h-1.8zM463.0 26.5h1.8v1.8h-1.8zM467.1 29.6h1.8v1.8h-1.8zM448.8 27.0h1.8v1.8h-1.8zM511.7 53.2h1.8v1.8h-1.8zM514.3 52.7h1.8v1.8h-1.8zM495.2 47.9h1.8v1.8h-1.8zM516.9 58.7h1.8v1.8h-1.8zM453.9 24.2h1.8v1.8h-1.8zM516.6 64.2h1.8v1.8h-1.8zM503.4 48.5h1.8v1.8h-1.8zM466.5 30.4h1.8v1.8h-1.8zM517.2 57.0h1.8v1.8h-1.8zM519.4 70.9h1.8v1.8h-1.8zM518.1 61.8h1.8v1.8h-1.8zM514.4 54.7h1.8v1.8h-1.8zM501.1 50.8h1.8v1.8h-1.8zM515.6 58.1h1.8v1.8h-1.8zM506.3 50.2h1.8v1.8h-1.8zM454.6 27.4h1.8v1.8h-1.8zM500.7 45.1h1.8v1.8h-1.8zM517.3 55.9h1.8v1.8h-1.8zM505.2 47.4h1.8v1.8h-1.8zM518.0 57.8h1.8v1.8h-1.8zM489.7 46.1h1.8v1.8h-1.8zM468.2 32.5h1.8v1.8h-1.8zM486.0 42.0h1.8v1.8h-1.8zM522.5 62.2h1.8v1.8h-1.8zM508.5 52.7h1.8v1.8h-1.8zM485.4 42.2h1.8v1.8h-1.8zM513.7 52.0h1.8v1.8h-1.8zM519.4 54.0h1.8v1.8h-1.8zM507.4 50.7h1.8v1.8h-1.8zM475.5 37.0h1.8v1.8h-1.8zM518.9 62.1h1.8v1.8h-1.8zM476.7 40.7h1.8v1.8h-1.8zM498.8 51.3h1.8v1.8h-1.8zM516.4 56.5h1.8v1.8h-1.8zM482.8 40.3h1.8v1.8h-1.8zM459.7 31.8h1.8v1.8h-1.8zM522.3 68.6h1.8v1.8h-1.8zM516.6 56.1h1.8v1.8h-1.8zM519.1 66.3h1.8v1.8h-1.8zM520.0 61.5h1.8v1.8h-1.8zM475.0 35.3h1.8v1.8h-1.8zM477.6 38.8h1.8v1.8h-1.8zM467.6 32.9h1.8v1.8h-1.8zM523.0 70.9h1.8v1.8h-1.8zM520.6 67.5h1.8v1.8h-1.8zM471.7 29.1h1.8v1.8h-1.8zM476.7 34.1h1.8v1.8h-1.8zM502.8 53.1h1.8v1.8h-1.8zM518.7 50.6h1.8v1.8h-1.8zM504.2 49.5h1.8v1.8h-1.8zM475.6 38.8h1.8v1.8h-1.8zM501.8 46.3h1.8v1.8h-1.8zM493.2 48.4h1.8v1.8h-1.8zM519.2 63.5h1.8v1.8h-1.8zM477.0 39.5h1.8v1.8h-1.8zM493.0 45.2h1.8v1.8h-1.8zM489.1 44.0h1.8v1.8h-1.8zM504.4 49.8h1.8v1.8h-1.8zM513.2 49.8h1.8v1.8h-1.8zM479.0 37.9h1.8v1.8h-1.8zM485.2 43.1h1.8v1.8h-1.8zM483.4 44.7h1.8v1.8h-1.8zM483.5 43.0h1.8v1.8h-1.8zM482.1 43.6h1.8v1.8h-1.8zM483.0 44.5h1.8v1.8h-1.8zM493.8 46.0h1.8v1.8h-1.8zM507.3 50.0h1.8v1.8h-1.8zM504.3 48.8h1.8v1.8h-1.8zM507.1 50.8h1.8v1.8h-1.8zM506.5 49.4h1.8v1.8h-1.8zM506.7 45.9h1.8v1.8h-1.8zM506.5 49.6h1.8v1.8h-1.8zM475.2 33.4h1.8v1.8h-1.8zM472.6 34.0h1.8v1.8h-1.8zM473.4 34.3h1.8v1.8h-1.8zM475.8 35.1h1.8v1.8h-1.8zM470.8 36.3h1.8v1.8h-1.8zM472.9 35.0h1.8v1.8h-1.8zM512.3 54.9h1.8v1.8h-1.8zM516.6 56.2h1.8v1.8h-1.8zM513.0 54.0h1.8v1.8h-1.8zM515.1 54.2h1.8v1.8h-1.8zM512.4 54.7h1.8v1.8h-1.8zM514.0 53.8h1.8v1.8h-1.8zM518.6 55.2h1.8v1.8h-1.8zM491.5 47.3h1.8v1.8h-1.8zM489.2 48.4h1.8v1.8h-1.8zM492.6 49.4h1.8v1.8h-1.8zM495.0 49.3h1.8v1.8h-1.8zM489.4 47.6h1.8v1.8h-1.8zM492.3 46.8h1.8v1.8h-1.8zM490.9 47.9h1.8v1.8h-1.8zM491.1 48.3h1.8v1.8h-1.8zM487.2 46.5h1.8v1.8h-1.8zM491.9 47.5h1.8v1.8h-1.8zM500.9 42.8h1.8v1.8h-1.8zM498.4 45.0h1.8v1.8h-1.8zM501.4 44.9h1.8v1.8h-1.8zM499.0 45.1h1.8v1.8h-1.8zM501.6 45.8h1.8v1.8h-1.8zM501.8 42.9h1.8v1.8h-1.8zM497.5 43.6h1.8v1.8h-1.8zM502.1 45.6h1.8v1.8h-1.8zM501.6 44.6h1.8v1.8h-1.8zM501.7 43.2h1.8v1.8h-1.8zM501.6 47.3h1.8v1.8h-1.8zM501.9 42.1h1.8v1.8h-1.8zM451.0 23.8h1.8v1.8h-1.8zM449.7 24.9h1.8v1.8h-1.8zM450.1 21.9h1.8v1.8h-1.8zM452.7 23.8h1.8v1.8h-1.8zM449.9 24.2h1.8v1.8h-1.8zM448.8 21.3h1.8v1.8h-1.8zM523.0 67.0h1.8v1.8h-1.8zM521.4 67.5h1.8v1.8h-1.8zM521.9 68.0h1.8v1.8h-1.8zM522.4 66.9h1.8v1.8h-1.8zM523.3 65.3h1.8v1.8h-1.8zM495.4 40.4h1.8v1.8h-1.8zM494.1 41.1h1.8v1.8h-1.8zM493.2 40.8h1.8v1.8h-1.8zM495.7 39.4h1.8v1.8h-1.8zM497.0 40.0h1.8v1.8h-1.8zM494.8 41.2h1.8v1.8h-1.8zM494.8 40.7h1.8v1.8h-1.8zM492.1 40.0h1.8v1.8h-1.8zM492.7 41.5h1.8v1.8h-1.8zM495.4 41.5h1.8v1.8h-1.8zM451.3 25.8h1.8v1.8h-1.8zM456.7 29.2h1.8v1.8h-1.8zM451.7 25.9h1.8v1.8h-1.8zM455.1 26.4h1.8v1.8h-1.8zM453.3 27.4h1.8v1.8h-1.8zM453.1 28.0h1.8v1.8h-1.8zM452.2 27.8h1.8v1.8h-1.8zM455.4 29.5h1.8v1.8h-1.8zM489.6 37.0h1.8v1.8h-1.8zM453.0 26.3h1.8v1.8h-1.8zM470.0 40.6h1.8v1.8h-1.8zM488.4 37.8h1.8v1.8h-1.8zM501.4 51.0h1.8v1.8h-1.8zM457.2 30.5h1.8v1.8h-1.8zM522.4 73.5h1.8v1.8h-1.8zM515.5 57.1h1.8v1.8h-1.8zM509.6 52.7h1.8v1.8h-1.8zM474.3 33.2h1.8v1.8h-1.8zM519.2 63.3h1.8v1.8h-1.8zM526.2 62.8h1.8v1.8h-1.8zM475.4 40.8h1.8v1.8h-1.8zM466.3 37.3h1.8v1.8h-1.8zM466.3 31.8h1.8v1.8h-1.8zM507.0 47.6h1.8v1.8h-1.8zM470.8 29.4h1.8v1.8h-1.8zM516.0 55.9h1.8v1.8h-1.8zM493.0 52.3h1.8v1.8h-1.8zM467.0 38.8h1.8v1.8h-1.8zM438.8 23.9h1.8v1.8h-1.8zM447.4 23.2h1.8v1.8h-1.8zM448.1 24.7h1.8v1.8h-1.8zM441.5 27.9h1.8v1.8h-1.8zM440.3 22.5h1.8v1.8h-1.8zM442.7 23.0h1.8v1.8h-1.8zM423.9 24.7h1.8v1.8h-1.8zM433.2 26.1h1.8v1.8h-1.8zM440.4 26.0h1.8v1.8h-1.8zM441.3 18.5h1.8v1.8h-1.8zM448.4 29.7h1.8v1.8h-1.8zM424.5 25.4h1.8v1.8h-1.8zM428.8 27.1h1.8v1.8h-1.8zM431.1 21.9h1.8v1.8h-1.8zM456.7 36.3h1.8v1.8h-1.8zM460.9 34.5h1.8v1.8h-1.8zM456.9 40.2h1.8v1.8h-1.8zM464.2 37.7h1.8v1.8h-1.8zM469.3 36.1h1.8v1.8h-1.8zM465.5 36.7h1.8v1.8h-1.8zM468.0 30.8h1.8v1.8h-1.8zM464.2 36.8h1.8v1.8h-1.8zM467.1 34.7h1.8v1.8h-1.8zM468.8 34.7h1.8v1.8h-1.8zM465.0 32.3h1.8v1.8h-1.8zM460.8 39.5h1.8v1.8h-1.8zM466.6 35.7h1.8v1.8h-1.8zM467.2 32.2h1.8v1.8h-1.8zM466.1 37.1h1.8v1.8h-1.8zM471.5 43.2h1.8v1.8h-1.8zM461.1 39.4h1.8v1.8h-1.8zM473.4 36.3h1.8v1.8h-1.8zM463.6 32.9h1.8v1.8h-1.8zM470.1 31.6h1.8v1.8h-1.8zM464.2 34.4h1.8v1.8h-1.8zM459.7 34.1h1.8v1.8h-1.8zM463.3 42.8h1.8v1.8h-1.8zM465.5 35.5h1.8v1.8h-1.8zM468.1 32.9h1.8v1.8h-1.8zM464.9 35.7h1.8v1.8h-1.8zM471.8 34.3h1.8v1.8h-1.8zM469.1 33.5h1.8v1.8h-1.8zM470.6 31.6h1.8v1.8h-1.8zM459.5 33.1h1.8v1.8h-1.8zM512.6 49.2h1.8v1.8h-1.8zM507.2 48.7h1.8v1.8h-1.8zM510.7 50.5h1.8v1.8h-1.8zM506.3 50.9h1.8v1.8h-1.8zM509.6 55.3h1.8v1.8h-1.8zM506.8 54.3h1.8v1.8h-1.8zM503.1 51.3h1.8v1.8h-1.8zM510.6 51.7h1.8v1.8h-1.8zM503.9 53.9h1.8v1.8h-1.8zM510.6 52.0h1.8v1.8h-1.8zM509.0 52.1h1.8v1.8h-1.8zM508.6 52.8h1.8v1.8h-1.8zM506.3 54.1h1.8v1.8h-1.8zM508.3 51.7h1.8v1.8h-1.8zM511.4 47.5h1.8v1.8h-1.8zM508.7 56.6h1.8v1.8h-1.8zM504.8 49.3h1.8v1.8h-1.8zM509.5 51.9h1.8v1.8h-1.8zM505.6 50.8h1.8v1.8h-1.8zM509.1 49.7h1.8v1.8h-1.8zM512.0 48.8h1.8v1.8h-1.8zM511.0 53.7h1.8v1.8h-1.8zM509.8 53.6h1.8v1.8h-1.8zM506.2 53.0h1.8v1.8h-1.8zM504.8 53.1h1.8v1.8h-1.8zM512.3 51.8h1.8v1.8h-1.8zM512.7 51.4h1.8v1.8h-1.8zM503.1 52.8h1.8v1.8h-1.8zM512.8 49.7h1.8v1.8h-1.8zM507.7 52.0h1.8v1.8h-1.8zM511.6 50.7h1.8v1.8h-1.8zM507.6 49.6h1.8v1.8h-1.8zM508.3 53.4h1.8v1.8h-1.8zM504.0 55.2h1.8v1.8h-1.8zM514.8 51.2h1.8v1.8h-1.8zM390.8 122.0h1.8v1.8h-1.8zM388.6 122.0h1.8v1.8h-1.8zM388.8 123.5h1.8v1.8h-1.8zM388.4 121.2h1.8v1.8h-1.8zM391.5 122.6h1.8v1.8h-1.8zM389.0 121.5h1.8v1.8h-1.8zM390.5 121.7h1.8v1.8h-1.8zM388.0 120.5h1.8v1.8h-1.8zM388.9 122.1h1.8v1.8h-1.8zM392.5 123.7h1.8v1.8h-1.8zM388.4 123.2h1.8v1.8h-1.8zM390.6 123.1h1.8v1.8h-1.8zM424.7 123.2h1.8v1.8h-1.8zM422.7 123.9h1.8v1.8h-1.8zM422.4 124.8h1.8v1.8h-1.8zM420.6 123.5h1.8v1.8h-1.8zM422.8 125.4h1.8v1.8h-1.8zM422.2 120.4h1.8v1.8h-1.8zM419.1 124.6h1.8v1.8h-1.8zM421.8 123.8h1.8v1.8h-1.8zM427.0 124.9h1.8v1.8h-1.8zM425.0 123.0h1.8v1.8h-1.8zM430.4 124.7h1.8v1.8h-1.8zM421.2 122.7h1.8v1.8h-1.8zM423.7 124.7h1.8v1.8h-1.8zM422.8 121.7h1.8v1.8h-1.8zM417.6 124.1h1.8v1.8h-1.8zM430.6 123.2h1.8v1.8h-1.8zM420.9 124.8h1.8v1.8h-1.8zM427.9 123.1h1.8v1.8h-1.8zM422.3 124.7h1.8v1.8h-1.8zM418.8 125.9h1.8v1.8h-1.8zM425.4 123.0h1.8v1.8h-1.8zM422.0 122.7h1.8v1.8h-1.8zM448.2 125.7h1.8v1.8h-1.8zM444.3 124.9h1.8v1.8h-1.8zM455.3 124.9h1.8v1.8h-1.8zM449.9 125.5h1.8v1.8h-1.8zM450.2 126.0h1.8v1.8h-1.8zM449.9 125.5h1.8v1.8h-1.8zM449.1 126.3h1.8v1.8h-1.8zM448.7 125.1h1.8v1.8h-1.8zM453.8 125.0h1.8v1.8h-1.8zM451.4 124.0h1.8v1.8h-1.8zM447.7 122.9h1.8v1.8h-1.8zM444.5 125.1h1.8v1.8h-1.8zM450.4 125.6h1.8v1.8h-1.8zM445.7 124.4h1.8v1.8h-1.8zM521.6 72.9h1.8v1.8h-1.8zM525.2 72.8h1.8v1.8h-1.8zM520.9 71.4h1.8v1.8h-1.8zM520.1 72.4h1.8v1.8h-1.8zM518.7 74.2h1.8v1.8h-1.8zM520.5 74.3h1.8v1.8h-1.8zM521.6 73.6h1.8v1.8h-1.8zM517.9 73.3h1.8v1.8h-1.8zM514.9 71.7h1.8v1.8h-1.8zM523.2 77.7h1.8v1.8h-1.8zM520.6 74.0h1.8v1.8h-1.8zM523.0 69.0h1.8v1.8h-1.8zM518.4 73.3h1.8v1.8h-1.8zM516.6 72.4h1.8v1.8h-1.8zM523.6 72.6h1.8v1.8h-1.8zM520.9 75.2h1.8v1.8h-1.8zM520.1 74.9h1.8v1.8h-1.8zM518.8 70.1h1.8v1.8h-1.8zM520.8 74.6h1.8v1.8h-1.8zM515.6 76.1h1.8v1.8h-1.8zM518.2 69.0h1.8v1.8h-1.8zM519.3 73.6h1.8v1.8h-1.8zM515.7 74.0h1.8v1.8h-1.8zM524.7 71.2h1.8v1.8h-1.8zM519.6 74.7h1.8v1.8h-1.8zM523.5 68.6h1.8v1.8h-1.8zM533.4 70.4h1.8v1.8h-1.8zM520.5 71.7h1.8v1.8h-1.8zM518.7 74.7h1.8v1.8h-1.8zM517.4 73.1h1.8v1.8h-1.8zM523.4 70.2h1.8v1.8h-1.8zM526.3 72.2h1.8v1.8h-1.8zM510.4 70.2h1.8v1.8h-1.8zM522.5 74.5h1.8v1.8h-1.8zM526.3 74.8h1.8v1.8h-1.8zM519.1 73.1h1.8v1.8h-1.8zM520.3 73.2h1.8v1.8h-1.8zM511.2 75.8h1.8v1.8h-1.8zM519.9 71.7h1.8v1.8h-1.8zM520.2 75.4h1.8v1.8h-1.8zM514.8 75.5h1.8v1.8h-1.8zM525.4 75.1h1.8v1.8h-1.8zM523.9 75.5h1.8v1.8h-1.8zM515.8 74.4h1.8v1.8h-1.8zM526.2 74.5h1.8v1.8h-1.8zM418.1 40.7h1.8v1.8h-1.8zM417.4 37.5h1.8v1.8h-1.8zM417.2 39.9h1.8v1.8h-1.8zM416.0 40.9h1.8v1.8h-1.8zM418.7 36.6h1.8v1.8h-1.8zM422.1 41.9h1.8v1.8h-1.8zM418.0 43.1h1.8v1.8h-1.8zM417.8 39.4h1.8v1.8h-1.8zM419.7 38.5h1.8v1.8h-1.8zM416.4 41.9h1.8v1.8h-1.8zM415.5 36.3h1.8v1.8h-1.8zM415.9 37.6h1.8v1.8h-1.8zM419.0 37.6h1.8v1.8h-1.8zM415.2 38.6h1.8v1.8h-1.8zM419.3 39.5h1.8v1.8h-1.8zM419.4 41.7h1.8v1.8h-1.8zM421.3 41.7h1.8v1.8h-1.8zM418.2 37.7h1.8v1.8h-1.8zM419.5 36.4h1.8v1.8h-1.8zM418.4 41.7h1.8v1.8h-1.8zM419.2 38.5h1.8v1.8h-1.8zM415.2 37.7h1.8v1.8h-1.8zM421.0 41.1h1.8v1.8h-1.8zM420.3 39.3h1.8v1.8h-1.8zM420.4 40.5h1.8v1.8h-1.8zM420.2 38.1h1.8v1.8h-1.8zM418.6 40.1h1.8v1.8h-1.8zM418.2 38.1h1.8v1.8h-1.8zM421.4 39.8h1.8v1.8h-1.8zM420.3 39.3h1.8v1.8h-1.8zM422.3 37.1h1.8v1.8h-1.8zM420.0 38.6h1.8v1.8h-1.8zM417.4 42.7h1.8v1.8h-1.8zM420.1 40.9h1.8v1.8h-1.8zM417.2 37.4h1.8v1.8h-1.8zM419.1 41.6h1.8v1.8h-1.8zM420.9 40.1h1.8v1.8h-1.8zM420.5 41.7h1.8v1.8h-1.8zM415.5 40.7h1.8v1.8h-1.8zM420.1 43.5h1.8v1.8h-1.8zM416.3 37.5h1.8v1.8h-1.8zM423.5 39.9h1.8v1.8h-1.8zM416.6 40.4h1.8v1.8h-1.8zM416.9 36.4h1.8v1.8h-1.8zM419.9 41.3h1.8v1.8h-1.8zM420.2 43.8h1.8v1.8h-1.8zM418.6 39.5h1.8v1.8h-1.8zM418.0 41.4h1.8v1.8h-1.8zM417.2 43.2h1.8v1.8h-1.8zM419.4 41.5h1.8v1.8h-1.8zM419.6 37.8h1.8v1.8h-1.8zM417.1 41.9h1.8v1.8h-1.8zM418.6 38.1h1.8v1.8h-1.8zM415.8 39.6h1.8v1.8h-1.8zM416.4 36.5h1.8v1.8h-1.8zM419.2 42.8h1.8v1.8h-1.8zM417.3 39.4h1.8v1.8h-1.8zM417.5 39.3h1.8v1.8h-1.8zM419.3 39.1h1.8v1.8h-1.8zM417.6 36.6h1.8v1.8h-1.8zM420.3 40.1h1.8v1.8h-1.8zM418.2 40.8h1.8v1.8h-1.8zM415.6 40.2h1.8v1.8h-1.8zM418.5 40.2h1.8v1.8h-1.8zM416.5 45.7h1.8v1.8h-1.8zM414.8 37.8h1.8v1.8h-1.8zM414.7 38.4h1.8v1.8h-1.8zM419.9 39.7h1.8v1.8h-1.8zM418.4 37.9h1.8v1.8h-1.8zM418.4 39.6h1.8v1.8h-1.8zM420.2 39.6h1.8v1.8h-1.8zM422.5 41.8h1.8v1.8h-1.8zM417.6 40.1h1.8v1.8h-1.8zM418.8 40.8h1.8v1.8h-1.8zM422.3 38.2h1.8v1.8h-1.8zM414.7 39.5h1.8v1.8h-1.8zM419.8 37.1h1.8v1.8h-1.8zM419.3 41.1h1.8v1.8h-1.8zM420.1 42.2h1.8v1.8h-1.8zM418.7 41.9h1.8v1.8h-1.8zM421.2 38.1h1.8v1.8h-1.8zM422.8 40.1h1.8v1.8h-1.8zM418.2 40.5h1.8v1.8h-1.8zM420.8 41.7h1.8v1.8h-1.8zM419.9 40.2h1.8v1.8h-1.8zM419.9 39.0h1.8v1.8h-1.8zM416.9 40.4h1.8v1.8h-1.8zM414.9 41.3h1.8v1.8h-1.8zM417.2 37.5h1.8v1.8h-1.8zM417.6 39.0h1.8v1.8h-1.8zM418.0 42.1h1.8v1.8h-1.8zM419.6 35.6h1.8v1.8h-1.8zM419.7 37.0h1.8v1.8h-1.8zM419.7 37.5h1.8v1.8h-1.8zM422.6 42.9h1.8v1.8h-1.8zM417.1 42.5h1.8v1.8h-1.8zM418.5 40.2h1.8v1.8h-1.8zM417.0 38.5h1.8v1.8h-1.8zM422.2 36.7h1.8v1.8h-1.8zM422.1 39.2h1.8v1.8h-1.8zM421.3 27.9h1.8v1.8h-1.8zM422.4 28.8h1.8v1.8h-1.8zM419.7 31.3h1.8v1.8h-1.8zM419.0 28.2h1.8v1.8h-1.8zM418.6 30.2h1.8v1.8h-1.8zM420.9 30.7h1.8v1.8h-1.8zM419.8 29.8h1.8v1.8h-1.8zM418.9 30.3h1.8v1.8h-1.8zM423.0 31.5h1.8v1.8h-1.8zM422.7 28.3h1.8v1.8h-1.8zM424.1 32.1h1.8v1.8h-1.8zM423.8 28.7h1.8v1.8h-1.8zM423.3 28.8h1.8v1.8h-1.8zM420.1 28.8h1.8v1.8h-1.8zM431.1 17.9h1.8v1.8h-1.8zM429.1 17.9h1.8v1.8h-1.8zM430.2 19.7h1.8v1.8h-1.8zM431.5 19.4h1.8v1.8h-1.8zM432.2 14.9h1.8v1.8h-1.8zM433.8 14.5h1.8v1.8h-1.8zM434.6 13.3h1.8v1.8h-1.8zM430.4 18.5h1.8v1.8h-1.8zM430.2 18.7h1.8v1.8h-1.8zM434.1 20.9h1.8v1.8h-1.8zM430.7 15.6h1.8v1.8h-1.8zM432.2 15.7h1.8v1.8h-1.8zM427.9 17.8h1.8v1.8h-1.8zM430.2 16.3h1.8v1.8h-1.8zM432.1 14.7h1.8v1.8h-1.8zM427.4 16.6h1.8v1.8h-1.8zM487.2 15.6h1.8v1.8h-1.8zM482.6 17.1h1.8v1.8h-1.8zM481.5 15.4h1.8v1.8h-1.8zM480.8 17.3h1.8v1.8h-1.8zM482.6 23.0h1.8v1.8h-1.8zM482.5 20.5h1.8v1.8h-1.8zM480.5 19.7h1.8v1.8h-1.8zM480.1 16.2h1.8v1.8h-1.8zM483.2 16.6h1.8v1.8h-1.8zM483.6 19.3h1.8v1.8h-1.8zM478.9 21.3h1.8v1.8h-1.8zM482.1 22.1h1.8v1.8h-1.8zM481.9 21.6h1.8v1.8h-1.8zM481.0 23.4h1.8v1.8h-1.8zM420.0 64.7h1.8v1.8h-1.8zM419.5 42.0h1.8v1.8h-1.8zM425.9 111.7h1.8v1.8h-1.8zM419.0 38.8h1.8v1.8h-1.8zM422.5 39.1h1.8v1.8h-1.8zM420.5 38.4h1.8v1.8h-1.8zM421.8 82.2h1.8v1.8h-1.8zM420.3 46.6h1.8v1.8h-1.8zM421.1 38.5h1.8v1.8h-1.8zM424.9 77.3h1.8v1.8h-1.8zM426.9 125.2h1.8v1.8h-1.8zM422.1 84.9h1.8v1.8h-1.8zM424.5 102.5h1.8v1.8h-1.8zM424.9 30.4h1.8v1.8h-1.8zM421.7 55.4h1.8v1.8h-1.8zM421.6 85.3h1.8v1.8h-1.8zM428.3 106.7h1.8v1.8h-1.8zM419.8 53.8h1.8v1.8h-1.8zM421.1 31.6h1.8v1.8h-1.8zM424.4 111.0h1.8v1.8h-1.8zM423.9 73.2h1.8v1.8h-1.8zM427.0 123.8h1.8v1.8h-1.8zM423.1 34.8h1.8v1.8h-1.8zM427.1 95.1h1.8v1.8h-1.8zM421.7 39.7h1.8v1.8h-1.8zM421.7 55.7h1.8v1.8h-1.8zM425.1 108.8h1.8v1.8h-1.8zM426.2 104.4h1.8v1.8h-1.8zM421.8 90.9h1.8v1.8h-1.8zM428.8 112.9h1.8v1.8h-1.8zM424.4 100.1h1.8v1.8h-1.8zM428.0 126.4h1.8v1.8h-1.8zM417.9 38.1h1.8v1.8h-1.8zM423.3 119.2h1.8v1.8h-1.8zM422.8 109.6h1.8v1.8h-1.8zM425.3 110.3h1.8v1.8h-1.8zM417.0 55.0h1.8v1.8h-1.8zM426.6 121.0h1.8v1.8h-1.8zM429.0 107.0h1.8v1.8h-1.8zM423.7 49.1h1.8v1.8h-1.8zM422.2 52.7h1.8v1.8h-1.8zM424.6 96.7h1.8v1.8h-1.8zM424.3 106.1h1.8v1.8h-1.8zM424.5 122.4h1.8v1.8h-1.8zM420.6 36.1h1.8v1.8h-1.8zM417.9 62.6h1.8v1.8h-1.8zM424.2 106.1h1.8v1.8h-1.8zM423.5 26.0h1.8v1.8h-1.8zM423.0 70.0h1.8v1.8h-1.8zM419.4 60.0h1.8v1.8h-1.8zM428.0 113.6h1.8v1.8h-1.8zM421.2 35.1h1.8v1.8h-1.8zM423.8 72.5h1.8v1.8h-1.8zM417.7 38.1h1.8v1.8h-1.8zM425.8 110.2h1.8v1.8h-1.8zM428.4 125.2h1.8v1.8h-1.8zM427.7 119.5h1.8v1.8h-1.8zM418.5 69.4h1.8v1.8h-1.8zM421.4 77.2h1.8v1.8h-1.8zM426.2 110.6h1.8v1.8h-1.8zM424.8 24.8h1.8v1.8h-1.8zM424.9 72.3h1.8v1.8h-1.8zM419.4 60.8h1.8v1.8h-1.8zM427.9 115.9h1.8v1.8h-1.8zM426.9 120.2h1.8v1.8h-1.8zM421.3 34.6h1.8v1.8h-1.8zM425.8 125.8h1.8v1.8h-1.8zM425.2 92.0h1.8v1.8h-1.8zM425.7 94.3h1.8v1.8h-1.8zM419.6 62.8h1.8v1.8h-1.8zM426.3 112.5h1.8v1.8h-1.8zM419.1 71.9h1.8v1.8h-1.8zM421.7 100.9h1.8v1.8h-1.8zM420.0 57.2h1.8v1.8h-1.8zM430.1 116.7h1.8v1.8h-1.8zM423.9 84.1h1.8v1.8h-1.8zM426.2 103.4h1.8v1.8h-1.8zM424.7 104.7h1.8v1.8h-1.8zM423.1 67.4h1.8v1.8h-1.8zM425.8 109.3h1.8v1.8h-1.8zM425.6 125.6h1.8v1.8h-1.8zM417.8 53.4h1.8v1.8h-1.8zM428.2 110.6h1.8v1.8h-1.8zM418.9 42.4h1.8v1.8h-1.8zM420.1 42.3h1.8v1.8h-1.8zM419.4 56.9h1.8v1.8h-1.8zM421.3 62.1h1.8v1.8h-1.8zM419.5 45.9h1.8v1.8h-1.8zM424.3 46.5h1.8v1.8h-1.8zM422.7 36.9h1.8v1.8h-1.8zM422.6 64.5h1.8v1.8h-1.8zM420.1 45.5h1.8v1.8h-1.8zM425.3 113.5h1.8v1.8h-1.8zM418.2 56.9h1.8v1.8h-1.8zM423.6 75.9h1.8v1.8h-1.8zM424.8 103.5h1.8v1.8h-1.8zM428.6 121.4h1.8v1.8h-1.8zM423.0 90.9h1.8v1.8h-1.8zM427.0 29.6h1.8v1.8h-1.8zM418.7 61.3h1.8v1.8h-1.8zM419.9 49.3h1.8v1.8h-1.8zM426.7 104.0h1.8v1.8h-1.8zM424.5 108.3h1.8v1.8h-1.8zM424.5 90.6h1.8v1.8h-1.8zM424.1 96.9h1.8v1.8h-1.8zM425.4 122.8h1.8v1.8h-1.8zM419.3 65.8h1.8v1.8h-1.8zM418.9 43.7h1.8v1.8h-1.8zM420.0 80.8h1.8v1.8h-1.8zM417.1 39.5h1.8v1.8h-1.8zM421.5 70.7h1.8v1.8h-1.8zM424.0 95.7h1.8v1.8h-1.8zM421.2 85.3h1.8v1.8h-1.8zM429.3 106.7h1.8v1.8h-1.8zM423.3 95.0h1.8v1.8h-1.8zM424.8 116.8h1.8v1.8h-1.8zM424.5 111.9h1.8v1.8h-1.8zM417.5 39.6h1.8v1.8h-1.8zM420.2 89.0h1.8v1.8h-1.8zM423.3 87.6h1.8v1.8h-1.8zM419.2 47.5h1.8v1.8h-1.8zM425.0 93.3h1.8v1.8h-1.8zM420.2 62.9h1.8v1.8h-1.8zM425.7 112.3h1.8v1.8h-1.8zM423.3 90.0h1.8v1.8h-1.8zM424.9 33.5h1.8v1.8h-1.8zM426.9 106.8h1.8v1.8h-1.8zM421.7 36.7h1.8v1.8h-1.8zM423.0 61.5h1.8v1.8h-1.8zM422.4 47.8h1.8v1.8h-1.8zM425.2 111.8h1.8v1.8h-1.8zM421.8 29.1h1.8v1.8h-1.8zM421.0 78.2h1.8v1.8h-1.8zM423.5 91.0h1.8v1.8h-1.8zM418.6 68.6h1.8v1.8h-1.8zM420.2 46.2h1.8v1.8h-1.8zM421.9 107.6h1.8v1.8h-1.8zM426.9 126.3h1.8v1.8h-1.8zM421.3 41.1h1.8v1.8h-1.8zM425.7 99.9h1.8v1.8h-1.8zM420.9 46.0h1.8v1.8h-1.8zM421.2 45.7h1.8v1.8h-1.8zM419.0 70.3h1.8v1.8h-1.8zM423.0 46.0h1.8v1.8h-1.8zM427.0 96.1h1.8v1.8h-1.8zM426.6 121.9h1.8v1.8h-1.8zM423.8 99.2h1.8v1.8h-1.8zM423.8 26.1h1.8v1.8h-1.8zM421.1 90.9h1.8v1.8h-1.8zM422.0 45.0h1.8v1.8h-1.8zM414.4 55.1h1.8v1.8h-1.8zM416.2 57.1h1.8v1.8h-1.8zM416.2 56.1h1.8v1.8h-1.8zM416.8 55.3h1.8v1.8h-1.8zM412.7 55.9h1.8v1.8h-1.8zM417.3 57.0h1.8v1.8h-1.8zM422.6 76.0h1.8v1.8h-1.8zM421.7 75.5h1.8v1.8h-1.8zM422.0 74.6h1.8v1.8h-1.8zM420.9 73.7h1.8v1.8h-1.8zM420.8 76.6h1.8v1.8h-1.8zM422.4 76.5h1.8v1.8h-1.8zM423.0 75.3h1.8v1.8h-1.8zM421.3 75.0h1.8v1.8h-1.8zM423.2 87.4h1.8v1.8h-1.8zM422.1 86.2h1.8v1.8h-1.8zM423.3 86.9h1.8v1.8h-1.8zM423.2 86.0h1.8v1.8h-1.8zM420.9 87.3h1.8v1.8h-1.8zM420.9 86.2h1.8v1.8h-1.8zM420.9 44.0h1.8v1.8h-1.8zM420.3 43.5h1.8v1.8h-1.8zM421.7 44.6h1.8v1.8h-1.8zM419.9 43.9h1.8v1.8h-1.8zM419.5 42.7h1.8v1.8h-1.8zM424.7 33.9h1.8v1.8h-1.8zM425.5 31.9h1.8v1.8h-1.8zM425.0 33.7h1.8v1.8h-1.8zM426.9 31.7h1.8v1.8h-1.8zM425.2 33.1h1.8v1.8h-1.8zM425.7 30.9h1.8v1.8h-1.8zM416.3 47.6h1.8v1.8h-1.8zM417.3 46.0h1.8v1.8h-1.8zM419.2 47.6h1.8v1.8h-1.8zM417.4 47.1h1.8v1.8h-1.8zM417.9 47.2h1.8v1.8h-1.8zM417.3 48.4h1.8v1.8h-1.8zM415.6 48.6h1.8v1.8h-1.8zM417.0 52.9h1.8v1.8h-1.8zM418.5 52.8h1.8v1.8h-1.8zM417.6 51.4h1.8v1.8h-1.8zM417.6 51.9h1.8v1.8h-1.8zM418.3 51.8h1.8v1.8h-1.8zM418.7 53.6h1.8v1.8h-1.8zM423.5 28.4h1.8v1.8h-1.8zM423.7 27.7h1.8v1.8h-1.8zM424.2 26.9h1.8v1.8h-1.8zM425.0 27.9h1.8v1.8h-1.8zM425.6 26.6h1.8v1.8h-1.8zM424.7 26.4h1.8v1.8h-1.8zM424.9 27.4h1.8v1.8h-1.8zM417.9 38.5h1.8v1.8h-1.8zM419.6 38.8h1.8v1.8h-1.8zM418.1 38.4h1.8v1.8h-1.8zM418.1 40.1h1.8v1.8h-1.8zM429.7 111.9h1.8v1.8h-1.8zM429.1 111.2h1.8v1.8h-1.8zM427.8 112.2h1.8v1.8h-1.8zM428.0 111.6h1.8v1.8h-1.8zM423.4 88.5h1.8v1.8h-1.8zM423.2 90.4h1.8v1.8h-1.8zM424.4 90.3h1.8v1.8h-1.8zM426.2 89.8h1.8v1.8h-1.8zM424.5 89.3h1.8v1.8h-1.8zM425.2 96.5h1.8v1.8h-1.8zM425.2 97.3h1.8v1.8h-1.8zM424.9 97.4h1.8v1.8h-1.8zM426.5 97.3h1.8v1.8h-1.8zM426.0 99.0h1.8v1.8h-1.8zM426.6 98.1h1.8v1.8h-1.8zM423.7 97.1h1.8v1.8h-1.8zM423.4 127.6h1.8v1.8h-1.8zM424.1 128.3h1.8v1.8h-1.8zM425.1 129.4h1.8v1.8h-1.8zM422.6 127.3h1.8v1.8h-1.8zM428.6 107.0h1.8v1.8h-1.8zM427.9 107.7h1.8v1.8h-1.8zM428.0 109.1h1.8v1.8h-1.8zM428.1 106.8h1.8v1.8h-1.8zM423.9 95.2h1.8v1.8h-1.8zM424.8 97.8h1.8v1.8h-1.8zM426.4 95.8h1.8v1.8h-1.8zM425.3 94.5h1.8v1.8h-1.8zM423.1 26.2h1.8v1.8h-1.8zM423.7 25.6h1.8v1.8h-1.8zM421.6 25.2h1.8v1.8h-1.8zM422.4 25.2h1.8v1.8h-1.8zM423.4 25.4h1.8v1.8h-1.8zM422.5 25.3h1.8v1.8h-1.8zM425.8 25.8h1.8v1.8h-1.8zM416.2 99.8h1.8v1.8h-1.8zM414.0 55.2h1.8v1.8h-1.8zM424.4 29.4h1.8v1.8h-1.8zM423.8 50.6h1.8v1.8h-1.8zM425.2 97.9h1.8v1.8h-1.8zM432.7 40.4h1.8v1.8h-1.8zM424.6 69.9h1.8v1.8h-1.8zM418.1 91.1h1.8v1.8h-1.8zM430.1 60.3h1.8v1.8h-1.8zM424.7 109.7h1.8v1.8h-1.8zM440.2 110.5h1.8v1.8h-1.8zM418.1 23.0h1.8v1.8h-1.8zM435.1 45.5h1.8v1.8h-1.8zM415.8 92.7h1.8v1.8h-1.8zM425.3 30.7h1.8v1.8h-1.8zM422.9 96.3h1.8v1.8h-1.8zM421.3 22.7h1.8v1.8h-1.8zM421.7 34.3h1.8v1.8h-1.8zM423.7 94.5h1.8v1.8h-1.8zM430.2 55.7h1.8v1.8h-1.8zM430.4 134.6h1.8v1.8h-1.8zM433.8 144.9h1.8v1.8h-1.8zM432.3 140.0h1.8v1.8h-1.8zM432.7 149.6h1.8v1.8h-1.8zM434.1 152.7h1.8v1.8h-1.8zM433.5 162.2h1.8v1.8h-1.8zM426.6 131.0h1.8v1.8h-1.8zM432.5 152.5h1.8v1.8h-1.8zM428.1 135.7h1.8v1.8h-1.8zM430.4 141.2h1.8v1.8h-1.8zM428.5 133.3h1.8v1.8h-1.8zM436.3 177.1h1.8v1.8h-1.8zM430.0 140.3h1.8v1.8h-1.8zM432.5 170.9h1.8v1.8h-1.8zM427.9 133.1h1.8v1.8h-1.8zM429.6 139.9h1.8v1.8h-1.8zM433.2 138.9h1.8v1.8h-1.8zM435.5 178.0h1.8v1.8h-1.8zM429.0 133.8h1.8v1.8h-1.8zM430.5 139.9h1.8v1.8h-1.8zM427.5 133.6h1.8v1.8h-1.8zM429.5 136.3h1.8v1.8h-1.8zM432.8 153.8h1.8v1.8h-1.8zM434.8 167.5h1.8v1.8h-1.8zM432.2 155.7h1.8v1.8h-1.8zM427.7 135.3h1.8v1.8h-1.8zM430.5 165.9h1.8v1.8h-1.8zM433.5 174.6h1.8v1.8h-1.8zM434.5 158.9h1.8v1.8h-1.8zM429.8 138.7h1.8v1.8h-1.8zM429.6 135.3h1.8v1.8h-1.8zM435.9 157.5h1.8v1.8h-1.8zM433.4 160.5h1.8v1.8h-1.8zM430.6 142.2h1.8v1.8h-1.8zM435.2 181.1h1.8v1.8h-1.8zM433.8 160.1h1.8v1.8h-1.8zM433.2 137.8h1.8v1.8h-1.8zM430.2 139.4h1.8v1.8h-1.8zM431.4 150.6h1.8v1.8h-1.8zM429.7 130.7h1.8v1.8h-1.8zM435.4 169.5h1.8v1.8h-1.8zM430.5 143.5h1.8v1.8h-1.8zM435.0 164.6h1.8v1.8h-1.8zM429.9 134.4h1.8v1.8h-1.8zM428.9 137.5h1.8v1.8h-1.8zM434.4 173.3h1.8v1.8h-1.8zM430.0 138.6h1.8v1.8h-1.8zM430.8 148.4h1.8v1.8h-1.8zM433.0 171.8h1.8v1.8h-1.8zM434.5 177.3h1.8v1.8h-1.8zM435.1 175.4h1.8v1.8h-1.8zM431.0 144.4h1.8v1.8h-1.8zM439.1 174.6h1.8v1.8h-1.8zM435.7 171.6h1.8v1.8h-1.8zM430.2 154.3h1.8v1.8h-1.8zM434.7 164.3h1.8v1.8h-1.8zM433.2 174.0h1.8v1.8h-1.8zM428.0 131.6h1.8v1.8h-1.8zM428.4 138.5h1.8v1.8h-1.8zM429.1 141.9h1.8v1.8h-1.8zM435.6 161.6h1.8v1.8h-1.8zM434.9 162.5h1.8v1.8h-1.8zM435.1 168.3h1.8v1.8h-1.8zM434.2 163.9h1.8v1.8h-1.8zM427.3 136.0h1.8v1.8h-1.8zM429.5 143.5h1.8v1.8h-1.8zM431.9 142.1h1.8v1.8h-1.8zM437.2 174.6h1.8v1.8h-1.8zM434.2 148.3h1.8v1.8h-1.8zM426.4 135.3h1.8v1.8h-1.8zM431.8 141.8h1.8v1.8h-1.8zM431.9 150.0h1.8v1.8h-1.8zM433.6 157.1h1.8v1.8h-1.8zM430.5 147.4h1.8v1.8h-1.8zM427.8 138.1h1.8v1.8h-1.8zM434.1 162.7h1.8v1.8h-1.8zM436.3 177.8h1.8v1.8h-1.8zM430.4 162.9h1.8v1.8h-1.8zM432.9 177.5h1.8v1.8h-1.8zM433.7 144.3h1.8v1.8h-1.8zM436.6 158.1h1.8v1.8h-1.8zM430.4 158.8h1.8v1.8h-1.8zM433.1 156.3h1.8v1.8h-1.8zM426.8 131.8h1.8v1.8h-1.8zM434.2 163.5h1.8v1.8h-1.8zM430.6 143.3h1.8v1.8h-1.8zM422.5 127.8h1.8v1.8h-1.8zM437.6 177.7h1.8v1.8h-1.8zM434.0 156.0h1.8v1.8h-1.8zM434.0 153.3h1.8v1.8h-1.8zM429.0 132.9h1.8v1.8h-1.8zM434.2 161.0h1.8v1.8h-1.8zM433.3 169.4h1.8v1.8h-1.8zM430.9 152.9h1.8v1.8h-1.8zM436.7 156.8h1.8v1.8h-1.8zM434.5 165.6h1.8v1.8h-1.8zM432.1 139.9h1.8v1.8h-1.8zM425.5 134.4h1.8v1.8h-1.8zM433.7 164.2h1.8v1.8h-1.8zM427.4 139.2h1.8v1.8h-1.8zM434.5 157.2h1.8v1.8h-1.8zM434.1 157.2h1.8v1.8h-1.8zM431.9 141.2h1.8v1.8h-1.8zM434.6 156.1h1.8v1.8h-1.8zM434.0 165.6h1.8v1.8h-1.8zM435.1 162.1h1.8v1.8h-1.8zM432.5 174.6h1.8v1.8h-1.8zM435.4 162.7h1.8v1.8h-1.8zM431.3 140.1h1.8v1.8h-1.8zM431.1 163.3h1.8v1.8h-1.8zM431.6 145.1h1.8v1.8h-1.8zM430.5 145.3h1.8v1.8h-1.8zM429.5 145.5h1.8v1.8h-1.8zM432.3 146.1h1.8v1.8h-1.8zM429.4 145.3h1.8v1.8h-1.8zM431.2 144.8h1.8v1.8h-1.8zM429.0 145.5h1.8v1.8h-1.8zM429.8 146.4h1.8v1.8h-1.8zM430.2 145.8h1.8v1.8h-1.8zM428.4 131.5h1.8v1.8h-1.8zM427.7 132.9h1.8v1.8h-1.8zM427.0 131.5h1.8v1.8h-1.8zM425.6 133.4h1.8v1.8h-1.8zM427.6 130.6h1.8v1.8h-1.8zM427.7 135.7h1.8v1.8h-1.8zM430.2 136.2h1.8v1.8h-1.8zM428.6 135.3h1.8v1.8h-1.8zM427.0 136.4h1.8v1.8h-1.8zM429.5 135.4h1.8v1.8h-1.8zM427.9 136.8h1.8v1.8h-1.8zM427.7 133.3h1.8v1.8h-1.8zM429.7 132.7h1.8v1.8h-1.8zM428.2 132.5h1.8v1.8h-1.8zM428.1 134.5h1.8v1.8h-1.8zM427.4 132.7h1.8v1.8h-1.8zM428.4 132.9h1.8v1.8h-1.8zM429.9 145.5h1.8v1.8h-1.8zM429.2 144.1h1.8v1.8h-1.8zM431.3 146.6h1.8v1.8h-1.8zM426.5 145.1h1.8v1.8h-1.8zM428.6 145.9h1.8v1.8h-1.8zM427.5 145.2h1.8v1.8h-1.8zM429.3 145.9h1.8v1.8h-1.8zM429.7 138.9h1.8v1.8h-1.8zM431.6 141.3h1.8v1.8h-1.8zM431.4 138.0h1.8v1.8h-1.8zM432.5 139.1h1.8v1.8h-1.8zM431.3 138.9h1.8v1.8h-1.8zM429.6 138.6h1.8v1.8h-1.8zM438.3 169.7h1.8v1.8h-1.8zM434.4 170.8h1.8v1.8h-1.8zM437.3 170.0h1.8v1.8h-1.8zM436.1 173.5h1.8v1.8h-1.8zM436.2 172.6h1.8v1.8h-1.8zM435.8 172.3h1.8v1.8h-1.8zM434.6 174.2h1.8v1.8h-1.8z" fill="#f00"/>
<polyline points="329.8,145.6 343.5,121.0 347.1,120.7 355.3,122.3 366.2,124.2 389.8,126.3 408.0,127.9 427.3,128.8 461.8,131.9 465.5,130.4 467.3,125.5 472.7,112.6 475.9,106.9 478.9,100.9 489.1,89.5 501.8,73.7 515.1,55.8 507.3,52.7 492.7,47.1 474.5,40.6 456.4,34.9 438.2,30.1 424.2,27.9 419.1,28.5 419.8,39.9 421.6,67.1 425.4,96.4 429.3,112.2 430.0,115.8 430.0,128.8 432.7,141.6 434.5,157.6 437.3,182.8" fill="none" stroke="#000" stroke-width="1.8" stroke-linejoin="round" stroke-linecap="round" />
<polyline points="329.8,144.1 327.4,148.5 324.2,153.5 322.4,157.2 321.1,169.2 324.5,161.6 332.6,156.2 332.0,150.5 329.8,144.1 338.6,127.7 347.3,116.8 352.7,117.9 357.1,122.3 364.7,123.4 373.5,125.5 384.4,124.4 390.9,125.5 401.8,127.7 417.1,129.9 423.6,128.8 420.0,130.2 424.4,128.0 429.9,128.0 442.0,129.1 448.6,128.0 457.4,131.3 465.1,134.6 469.5,132.4 472.8,128.0 473.9,122.5 470.6,117.0 472.8,112.6 479.4,106.0 480.8,100.1 484.6,93.5 490.0,86.2 496.0,84.4 500.8,82.6 502.0,79.6 504.4,77.9 513.9,76.0 522.3,74.3 528.3,72.5 530.1,70.7 525.9,69.5 523.5,65.9 518.7,61.1 513.9,56.9 511.5,52.7 512.1,49.7 511.5,46.7 508.5,45.0 506.2,45.5 504.4,47.9 502.0,47.4 491.3,47.1 483.6,43.8 476.0,40.0 469.4,40.0 468.4,38.4 472.2,30.2 471.6,28.0 466.2,30.2 461.8,26.4 456.4,23.1 444.8,24.4 434.9,24.9 427.9,24.0 423.9,22.5 419.9,24.4 414.9,25.9 411.5,26.4 413.0,27.9 417.4,27.4 422.9,24.0 425.4,25.9 426.9,30.9 428.4,35.9 425.9,39.9 421.9,41.9 419.9,40.4 422.4,43.9 423.4,49.8 423.1,55.0 423.3,60.0 422.9,68.0 421.3,74.3 422.9,78.3 424.1,80.7 421.7,83.5 423.3,86.3 421.3,90.3 421.3,93.5 424.1,98.2 425.3,100.0 428.7,102.9 430.3,106.0 431.9,112.4 431.9,123.6 429.7,128.8 429.9,145.6 433.2,152.2 434.3,161.0 435.4,180.8" fill="none" stroke="#00f" stroke-width="1.8" stroke-linejoin="round" stroke-linecap="round" />
<polygon points="326.0,142.5 331.0,141.0 336.0,141.5 338.0,144.0 335.0,147.0 330.0,147.5 326.5,146.0" fill="#00f" fill-opacity="1"/>
<polyline points="326.0,141.7 333.8,139.0 330.4,139.1 335.6,144.8 336.7,143.1 332.7,143.6 327.9,144.6 325.7,143.5 333.9,144.4 329.3,149.3 331.2,143.0 331.7,143.1 329.4,143.5 339.5,144.4 331.7,145.9 339.5,143.8 328.4,150.0 324.9,143.5 333.8,149.6 327.0,138.7 333.8,143.1 329.4,145.4 331.9,145.0 329.2,147.3 337.3,144.4 329.1,146.0 333.0,141.9 329.1,146.7 330.6,143.5 331.9,144.2 331.0,139.9 338.3,144.8 327.3,146.6 332.3,144.3 335.4,149.5 333.3,147.9 340.1,142.0 328.8,146.1 323.8,143.7 336.4,146.7 333.4,139.9 340.9,145.6 334.2,145.4 323.8,141.0 325.9,148.7 327.5,143.7 329.9,145.6 333.1,144.9 325.7,137.1 331.7,144.9 336.2,144.1 328.4,145.2 324.5,141.9 326.8,145.0 339.8,146.1 335.8,144.8 332.2,143.3 329.8,138.7 325.9,141.3 334.5,145.8 335.8,147.9 329.7,146.7 339.2,144.3 335.6,143.9 324.2,144.6 327.5,144.6 329.1,145.0 322.0,149.1 336.7,143.5 327.2,144.3" fill="none" stroke="#00f" stroke-width="1.1" stroke-linejoin="round"/>
<circle cx="419.8" cy="40.4" r="2.8" fill="#00f"/>
<line x1="308.50" y1="188.00" x2="308.50" y2="185.80" stroke="#6a6a6a" stroke-width="0.6"/>
<line x1="308.50" y1="5.50" x2="308.50" y2="7.70" stroke="#6a6a6a" stroke-width="0.6"/>
<line x1="337.56" y1="188.00" x2="337.56" y2="185.80" stroke="#6a6a6a" stroke-width="0.6"/>
<line x1="337.56" y1="5.50" x2="337.56" y2="7.70" stroke="#6a6a6a" stroke-width="0.6"/>
<line x1="366.62" y1="188.00" x2="366.62" y2="185.80" stroke="#6a6a6a" stroke-width="0.6"/>
<line x1="366.62" y1="5.50" x2="366.62" y2="7.70" stroke="#6a6a6a" stroke-width="0.6"/>
<line x1="395.69" y1="188.00" x2="395.69" y2="185.80" stroke="#6a6a6a" stroke-width="0.6"/>
<line x1="395.69" y1="5.50" x2="395.69" y2="7.70" stroke="#6a6a6a" stroke-width="0.6"/>
<line x1="424.75" y1="188.00" x2="424.75" y2="185.80" stroke="#6a6a6a" stroke-width="0.6"/>
<line x1="424.75" y1="5.50" x2="424.75" y2="7.70" stroke="#6a6a6a" stroke-width="0.6"/>
<line x1="453.81" y1="188.00" x2="453.81" y2="185.80" stroke="#6a6a6a" stroke-width="0.6"/>
<line x1="453.81" y1="5.50" x2="453.81" y2="7.70" stroke="#6a6a6a" stroke-width="0.6"/>
<line x1="482.88" y1="188.00" x2="482.88" y2="185.80" stroke="#6a6a6a" stroke-width="0.6"/>
<line x1="482.88" y1="5.50" x2="482.88" y2="7.70" stroke="#6a6a6a" stroke-width="0.6"/>
<line x1="511.94" y1="188.00" x2="511.94" y2="185.80" stroke="#6a6a6a" stroke-width="0.6"/>
<line x1="511.94" y1="5.50" x2="511.94" y2="7.70" stroke="#6a6a6a" stroke-width="0.6"/>
<line x1="541.00" y1="188.00" x2="541.00" y2="185.80" stroke="#6a6a6a" stroke-width="0.6"/>
<line x1="541.00" y1="5.50" x2="541.00" y2="7.70" stroke="#6a6a6a" stroke-width="0.6"/>
<line x1="308.50" y1="188.00" x2="310.70" y2="188.00" stroke="#6a6a6a" stroke-width="0.6"/>
<line x1="541.00" y1="188.00" x2="538.80" y2="188.00" stroke="#6a6a6a" stroke-width="0.6"/>
<line x1="308.50" y1="167.72" x2="310.70" y2="167.72" stroke="#6a6a6a" stroke-width="0.6"/>
<line x1="541.00" y1="167.72" x2="538.80" y2="167.72" stroke="#6a6a6a" stroke-width="0.6"/>
<line x1="308.50" y1="147.44" x2="310.70" y2="147.44" stroke="#6a6a6a" stroke-width="0.6"/>
<line x1="541.00" y1="147.44" x2="538.80" y2="147.44" stroke="#6a6a6a" stroke-width="0.6"/>
<line x1="308.50" y1="127.17" x2="310.70" y2="127.17" stroke="#6a6a6a" stroke-width="0.6"/>
<line x1="541.00" y1="127.17" x2="538.80" y2="127.17" stroke="#6a6a6a" stroke-width="0.6"/>
<line x1="308.50" y1="106.89" x2="310.70" y2="106.89" stroke="#6a6a6a" stroke-width="0.6"/>
<line x1="541.00" y1="106.89" x2="538.80" y2="106.89" stroke="#6a6a6a" stroke-width="0.6"/>
<line x1="308.50" y1="86.61" x2="310.70" y2="86.61" stroke="#6a6a6a" stroke-width="0.6"/>
<line x1="541.00" y1="86.61" x2="538.80" y2="86.61" stroke="#6a6a6a" stroke-width="0.6"/>
<line x1="308.50" y1="66.33" x2="310.70" y2="66.33" stroke="#6a6a6a" stroke-width="0.6"/>
<line x1="541.00" y1="66.33" x2="538.80" y2="66.33" stroke="#6a6a6a" stroke-width="0.6"/>
<line x1="308.50" y1="46.06" x2="310.70" y2="46.06" stroke="#6a6a6a" stroke-width="0.6"/>
<line x1="541.00" y1="46.06" x2="538.80" y2="46.06" stroke="#6a6a6a" stroke-width="0.6"/>
<line x1="308.50" y1="25.78" x2="310.70" y2="25.78" stroke="#6a6a6a" stroke-width="0.6"/>
<line x1="541.00" y1="25.78" x2="538.80" y2="25.78" stroke="#6a6a6a" stroke-width="0.6"/>
<line x1="308.50" y1="5.50" x2="310.70" y2="5.50" stroke="#6a6a6a" stroke-width="0.6"/>
<line x1="541.00" y1="5.50" x2="538.80" y2="5.50" stroke="#6a6a6a" stroke-width="0.6"/>
<rect x="308.50" y="5.50" width="232.50" height="182.50" fill="none" stroke="#6a6a6a" stroke-width="1.25"/>
<rect x="314.1" y="11.1" width="78.60" height="27.90" fill="#fff" stroke="#6a6a6a" stroke-width="0.8"/>
<line x1="316.30" y1="15.75" x2="337.90" y2="15.75" stroke="#000" stroke-width="1.6"/>
<text transform="translate(339.5,18.05) scale(1,1.05)" class="lg">Real Traectory</text>
<rect x="326.10" y="24.15" width="1.8" height="1.8" fill="#f00"/>
<text transform="translate(339.5,27.35) scale(1,1.05)" class="lg">EKF Solution</text>
<line x1="316.30" y1="34.35" x2="337.90" y2="34.35" stroke="#00f" stroke-width="1.6"/>
<text transform="translate(339.5,36.65) scale(1,1.05)" class="lg">Smooth Traectory</text>
<text transform="translate(308.50,198.60) scale(1,1.07)" text-anchor="middle" class="tk">-100</text>
<text transform="translate(337.56,198.60) scale(1,1.07)" text-anchor="middle" class="tk">0</text>
<text transform="translate(366.62,198.60) scale(1,1.07)" text-anchor="middle" class="tk">100</text>
<text transform="translate(395.69,198.60) scale(1,1.07)" text-anchor="middle" class="tk">200</text>
<text transform="translate(424.75,198.60) scale(1,1.07)" text-anchor="middle" class="tk">300</text>
<text transform="translate(453.81,198.60) scale(1,1.07)" text-anchor="middle" class="tk">400</text>
<text transform="translate(482.88,198.60) scale(1,1.07)" text-anchor="middle" class="tk">500</text>
<text transform="translate(511.94,198.60) scale(1,1.07)" text-anchor="middle" class="tk">600</text>
<text transform="translate(541.00,198.60) scale(1,1.07)" text-anchor="middle" class="tk">700</text>
<text transform="translate(305.10,192.20) scale(1,1.07)" text-anchor="end" class="tk">-100</text>
<text transform="translate(305.10,171.92) scale(1,1.07)" text-anchor="end" class="tk">0</text>
<text transform="translate(305.10,151.64) scale(1,1.07)" text-anchor="end" class="tk">100</text>
<text transform="translate(305.10,131.37) scale(1,1.07)" text-anchor="end" class="tk">200</text>
<text transform="translate(305.10,111.09) scale(1,1.07)" text-anchor="end" class="tk">300</text>
<text transform="translate(305.10,90.81) scale(1,1.07)" text-anchor="end" class="tk">400</text>
<text transform="translate(305.10,70.53) scale(1,1.07)" text-anchor="end" class="tk">500</text>
<text transform="translate(305.10,50.26) scale(1,1.07)" text-anchor="end" class="tk">600</text>
<text transform="translate(305.10,29.98) scale(1,1.07)" text-anchor="end" class="tk">700</text>
<text transform="translate(305.10,9.70) scale(1,1.07)" text-anchor="end" class="tk">800</text>
<text transform="translate(424.75,209.50) scale(1,1.07)" text-anchor="middle" class="al">X/m</text>
<text transform="translate(287.00,96.75) rotate(-90)" x="0" y="0" text-anchor="middle" class="al">Y/m</text>
<text transform="translate(416.7,236.8) scale(1,1.06)" text-anchor="middle" class="cap">(b)</text>
<line x1="62.41" y1="267.50" x2="62.41" y2="451.20" stroke="#e2e2e2" stroke-width="0.7"/>
<line x1="91.62" y1="267.50" x2="91.62" y2="451.20" stroke="#e2e2e2" stroke-width="0.7"/>
<line x1="120.84" y1="267.50" x2="120.84" y2="451.20" stroke="#e2e2e2" stroke-width="0.7"/>
<line x1="150.05" y1="267.50" x2="150.05" y2="451.20" stroke="#e2e2e2" stroke-width="0.7"/>
<line x1="179.26" y1="267.50" x2="179.26" y2="451.20" stroke="#e2e2e2" stroke-width="0.7"/>
<line x1="208.48" y1="267.50" x2="208.48" y2="451.20" stroke="#e2e2e2" stroke-width="0.7"/>
<line x1="237.69" y1="267.50" x2="237.69" y2="451.20" stroke="#e2e2e2" stroke-width="0.7"/>
<line x1="33.20" y1="430.79" x2="266.90" y2="430.79" stroke="#e2e2e2" stroke-width="0.7"/>
<line x1="33.20" y1="410.38" x2="266.90" y2="410.38" stroke="#e2e2e2" stroke-width="0.7"/>
<line x1="33.20" y1="389.97" x2="266.90" y2="389.97" stroke="#e2e2e2" stroke-width="0.7"/>
<line x1="33.20" y1="369.56" x2="266.90" y2="369.56" stroke="#e2e2e2" stroke-width="0.7"/>
<line x1="33.20" y1="349.14" x2="266.90" y2="349.14" stroke="#e2e2e2" stroke-width="0.7"/>
<line x1="33.20" y1="328.73" x2="266.90" y2="328.73" stroke="#e2e2e2" stroke-width="0.7"/>
<line x1="33.20" y1="308.32" x2="266.90" y2="308.32" stroke="#e2e2e2" stroke-width="0.7"/>
<line x1="33.20" y1="287.91" x2="266.90" y2="287.91" stroke="#e2e2e2" stroke-width="0.7"/>
<path d="M54.6 405.6h1.8v1.8h-1.8zM54.7 407.6h1.8v1.8h-1.8zM51.9 407.3h1.8v1.8h-1.8zM60.2 405.8h1.8v1.8h-1.8zM59.9 406.2h1.8v1.8h-1.8zM57.3 406.4h1.8v1.8h-1.8zM48.9 404.7h1.8v1.8h-1.8zM57.7 405.6h1.8v1.8h-1.8zM48.8 411.1h1.8v1.8h-1.8zM52.0 408.0h1.8v1.8h-1.8zM56.9 406.9h1.8v1.8h-1.8zM57.8 408.4h1.8v1.8h-1.8zM56.9 405.9h1.8v1.8h-1.8zM53.0 402.6h1.8v1.8h-1.8zM57.9 403.9h1.8v1.8h-1.8zM53.1 408.6h1.8v1.8h-1.8zM54.3 407.1h1.8v1.8h-1.8zM58.3 406.2h1.8v1.8h-1.8zM53.8 409.2h1.8v1.8h-1.8zM53.5 403.8h1.8v1.8h-1.8zM52.4 406.2h1.8v1.8h-1.8zM57.4 410.5h1.8v1.8h-1.8zM55.9 403.6h1.8v1.8h-1.8zM47.4 407.6h1.8v1.8h-1.8zM55.2 408.8h1.8v1.8h-1.8zM57.7 407.0h1.8v1.8h-1.8zM49.7 404.8h1.8v1.8h-1.8zM58.4 404.5h1.8v1.8h-1.8zM61.6 405.9h1.8v1.8h-1.8zM56.2 410.0h1.8v1.8h-1.8zM58.2 408.3h1.8v1.8h-1.8zM53.8 409.9h1.8v1.8h-1.8zM51.7 408.1h1.8v1.8h-1.8zM60.9 411.8h1.8v1.8h-1.8zM49.7 406.2h1.8v1.8h-1.8zM61.6 405.4h1.8v1.8h-1.8zM47.9 413.0h1.8v1.8h-1.8zM57.1 408.6h1.8v1.8h-1.8zM51.1 404.4h1.8v1.8h-1.8zM60.2 406.4h1.8v1.8h-1.8zM56.7 405.8h1.8v1.8h-1.8zM62.2 405.3h1.8v1.8h-1.8zM57.8 405.5h1.8v1.8h-1.8zM49.3 403.7h1.8v1.8h-1.8zM59.6 405.5h1.8v1.8h-1.8zM47.6 408.4h1.8v1.8h-1.8zM59.1 411.3h1.8v1.8h-1.8zM54.9 404.3h1.8v1.8h-1.8zM50.3 402.9h1.8v1.8h-1.8zM57.9 407.2h1.8v1.8h-1.8zM57.0 405.2h1.8v1.8h-1.8zM56.2 404.0h1.8v1.8h-1.8zM53.0 407.8h1.8v1.8h-1.8zM59.9 406.8h1.8v1.8h-1.8zM52.1 404.5h1.8v1.8h-1.8zM61.7 407.9h1.8v1.8h-1.8zM50.0 407.2h1.8v1.8h-1.8zM55.1 407.6h1.8v1.8h-1.8zM61.4 409.3h1.8v1.8h-1.8zM60.8 409.9h1.8v1.8h-1.8zM52.5 405.3h1.8v1.8h-1.8zM60.3 404.7h1.8v1.8h-1.8zM57.1 406.5h1.8v1.8h-1.8zM56.3 405.4h1.8v1.8h-1.8zM54.9 406.1h1.8v1.8h-1.8zM58.0 406.8h1.8v1.8h-1.8zM58.8 405.4h1.8v1.8h-1.8zM63.9 406.0h1.8v1.8h-1.8zM53.9 407.7h1.8v1.8h-1.8zM55.6 404.6h1.8v1.8h-1.8zM54.3 405.9h1.8v1.8h-1.8zM63.2 413.1h1.8v1.8h-1.8zM51.1 406.2h1.8v1.8h-1.8zM57.3 406.2h1.8v1.8h-1.8zM53.9 405.2h1.8v1.8h-1.8zM56.8 408.1h1.8v1.8h-1.8zM65.6 406.0h1.8v1.8h-1.8zM53.4 407.1h1.8v1.8h-1.8zM54.7 407.0h1.8v1.8h-1.8zM44.5 408.0h1.8v1.8h-1.8zM59.8 409.7h1.8v1.8h-1.8zM55.4 404.5h1.8v1.8h-1.8zM59.2 403.2h1.8v1.8h-1.8zM48.7 407.7h1.8v1.8h-1.8zM54.3 405.3h1.8v1.8h-1.8zM60.1 413.4h1.8v1.8h-1.8zM60.1 410.4h1.8v1.8h-1.8zM58.5 410.5h1.8v1.8h-1.8zM56.4 403.9h1.8v1.8h-1.8zM55.1 406.4h1.8v1.8h-1.8zM58.9 406.5h1.8v1.8h-1.8zM55.3 403.1h1.8v1.8h-1.8zM60.0 407.5h1.8v1.8h-1.8zM66.9 409.6h1.8v1.8h-1.8zM59.4 407.5h1.8v1.8h-1.8zM56.2 405.1h1.8v1.8h-1.8zM56.6 405.3h1.8v1.8h-1.8zM49.4 410.5h1.8v1.8h-1.8zM58.2 409.2h1.8v1.8h-1.8zM51.5 410.4h1.8v1.8h-1.8zM60.8 405.0h1.8v1.8h-1.8zM61.7 409.1h1.8v1.8h-1.8zM55.7 409.6h1.8v1.8h-1.8zM58.8 402.9h1.8v1.8h-1.8zM52.0 403.0h1.8v1.8h-1.8zM59.7 407.3h1.8v1.8h-1.8zM47.6 403.4h1.8v1.8h-1.8zM55.3 408.3h1.8v1.8h-1.8zM57.3 405.8h1.8v1.8h-1.8zM61.8 409.3h1.8v1.8h-1.8zM60.3 403.2h1.8v1.8h-1.8zM61.6 407.3h1.8v1.8h-1.8zM52.6 404.3h1.8v1.8h-1.8zM56.1 406.5h1.8v1.8h-1.8zM61.5 407.5h1.8v1.8h-1.8zM46.3 407.8h1.8v1.8h-1.8zM48.1 404.8h1.8v1.8h-1.8zM57.0 408.3h1.8v1.8h-1.8zM55.6 404.8h1.8v1.8h-1.8zM56.0 403.6h1.8v1.8h-1.8zM55.4 404.3h1.8v1.8h-1.8zM61.8 402.9h1.8v1.8h-1.8zM52.9 404.7h1.8v1.8h-1.8zM48.0 409.5h1.8v1.8h-1.8zM47.6 404.2h1.8v1.8h-1.8zM50.6 406.9h1.8v1.8h-1.8zM54.9 406.9h1.8v1.8h-1.8zM53.3 406.3h1.8v1.8h-1.8zM63.0 406.7h1.8v1.8h-1.8zM57.8 404.4h1.8v1.8h-1.8zM54.9 409.9h1.8v1.8h-1.8zM53.4 404.2h1.8v1.8h-1.8zM48.9 408.3h1.8v1.8h-1.8zM59.8 404.9h1.8v1.8h-1.8zM55.7 404.9h1.8v1.8h-1.8zM56.3 409.7h1.8v1.8h-1.8zM49.3 408.4h1.8v1.8h-1.8zM59.4 408.2h1.8v1.8h-1.8zM52.0 408.7h1.8v1.8h-1.8zM49.4 407.1h1.8v1.8h-1.8zM50.8 405.9h1.8v1.8h-1.8zM46.0 406.0h1.8v1.8h-1.8zM53.0 411.6h1.8v1.8h-1.8zM58.6 407.5h1.8v1.8h-1.8zM46.5 409.0h1.8v1.8h-1.8zM56.9 407.9h1.8v1.8h-1.8zM58.9 405.0h1.8v1.8h-1.8zM58.4 406.0h1.8v1.8h-1.8zM61.1 405.2h1.8v1.8h-1.8zM57.5 411.9h1.8v1.8h-1.8zM59.3 403.6h1.8v1.8h-1.8zM54.5 408.0h1.8v1.8h-1.8zM63.6 411.1h1.8v1.8h-1.8zM57.6 400.9h1.8v1.8h-1.8zM51.9 405.1h1.8v1.8h-1.8zM63.4 407.1h1.8v1.8h-1.8zM58.0 404.6h1.8v1.8h-1.8zM52.0 407.0h1.8v1.8h-1.8zM56.9 404.8h1.8v1.8h-1.8zM55.5 407.3h1.8v1.8h-1.8zM51.5 407.7h1.8v1.8h-1.8zM59.3 406.6h1.8v1.8h-1.8zM52.2 408.9h1.8v1.8h-1.8zM66.6 404.0h1.8v1.8h-1.8zM58.3 413.2h1.8v1.8h-1.8zM58.2 405.6h1.8v1.8h-1.8zM62.6 405.8h1.8v1.8h-1.8zM55.4 405.5h1.8v1.8h-1.8zM47.7 404.3h1.8v1.8h-1.8zM57.0 408.5h1.8v1.8h-1.8zM61.1 402.4h1.8v1.8h-1.8zM49.9 408.5h1.8v1.8h-1.8zM56.9 406.4h1.8v1.8h-1.8zM54.0 409.2h1.8v1.8h-1.8zM64.3 404.3h1.8v1.8h-1.8zM50.8 410.1h1.8v1.8h-1.8zM62.6 404.4h1.8v1.8h-1.8zM63.1 404.8h1.8v1.8h-1.8zM52.1 406.2h1.8v1.8h-1.8zM46.8 408.7h1.8v1.8h-1.8zM55.4 405.5h1.8v1.8h-1.8zM52.7 407.1h1.8v1.8h-1.8zM57.5 405.9h1.8v1.8h-1.8zM58.3 406.3h1.8v1.8h-1.8zM54.3 404.9h1.8v1.8h-1.8zM55.9 408.8h1.8v1.8h-1.8zM53.1 406.8h1.8v1.8h-1.8zM55.2 406.4h1.8v1.8h-1.8zM55.7 406.4h1.8v1.8h-1.8zM55.1 409.9h1.8v1.8h-1.8zM57.4 404.2h1.8v1.8h-1.8zM57.4 407.3h1.8v1.8h-1.8zM57.5 409.2h1.8v1.8h-1.8zM47.9 406.7h1.8v1.8h-1.8zM51.9 405.0h1.8v1.8h-1.8zM51.2 413.3h1.8v1.8h-1.8zM51.4 403.0h1.8v1.8h-1.8zM54.1 410.2h1.8v1.8h-1.8zM52.5 405.5h1.8v1.8h-1.8zM57.7 406.4h1.8v1.8h-1.8zM61.7 405.1h1.8v1.8h-1.8zM55.6 405.4h1.8v1.8h-1.8zM62.4 404.4h1.8v1.8h-1.8zM59.9 409.5h1.8v1.8h-1.8zM55.1 405.0h1.8v1.8h-1.8zM54.5 404.2h1.8v1.8h-1.8zM58.1 404.6h1.8v1.8h-1.8zM54.8 400.6h1.8v1.8h-1.8zM60.7 407.4h1.8v1.8h-1.8zM56.0 400.5h1.8v1.8h-1.8zM54.3 404.7h1.8v1.8h-1.8zM59.7 406.8h1.8v1.8h-1.8zM50.9 406.4h1.8v1.8h-1.8zM57.1 404.1h1.8v1.8h-1.8zM58.9 406.8h1.8v1.8h-1.8zM59.2 405.5h1.8v1.8h-1.8zM56.5 406.7h1.8v1.8h-1.8zM54.7 405.1h1.8v1.8h-1.8zM51.4 408.4h1.8v1.8h-1.8zM55.7 410.4h1.8v1.8h-1.8zM53.9 411.7h1.8v1.8h-1.8zM52.9 405.4h1.8v1.8h-1.8zM58.0 407.0h1.8v1.8h-1.8zM54.7 410.3h1.8v1.8h-1.8zM63.1 405.6h1.8v1.8h-1.8zM60.1 409.0h1.8v1.8h-1.8zM54.9 411.3h1.8v1.8h-1.8zM58.9 404.5h1.8v1.8h-1.8zM47.9 407.0h1.8v1.8h-1.8zM58.2 411.1h1.8v1.8h-1.8zM48.2 409.4h1.8v1.8h-1.8zM53.1 410.3h1.8v1.8h-1.8zM55.8 406.2h1.8v1.8h-1.8zM58.3 405.1h1.8v1.8h-1.8zM61.8 404.0h1.8v1.8h-1.8zM50.3 408.1h1.8v1.8h-1.8zM51.3 409.5h1.8v1.8h-1.8zM55.3 406.8h1.8v1.8h-1.8zM57.7 410.7h1.8v1.8h-1.8zM50.6 406.9h1.8v1.8h-1.8zM53.9 407.9h1.8v1.8h-1.8zM54.7 409.5h1.8v1.8h-1.8zM59.4 405.6h1.8v1.8h-1.8zM54.5 409.2h1.8v1.8h-1.8zM54.0 416.3h1.8v1.8h-1.8zM49.1 406.7h1.8v1.8h-1.8zM45.9 406.1h1.8v1.8h-1.8zM56.0 411.6h1.8v1.8h-1.8zM53.5 407.9h1.8v1.8h-1.8zM57.9 404.7h1.8v1.8h-1.8zM54.9 409.8h1.8v1.8h-1.8zM54.2 407.1h1.8v1.8h-1.8zM59.6 405.8h1.8v1.8h-1.8zM50.7 411.5h1.8v1.8h-1.8zM52.8 409.4h1.8v1.8h-1.8zM48.3 407.2h1.8v1.8h-1.8zM52.1 406.5h1.8v1.8h-1.8zM58.3 408.3h1.8v1.8h-1.8zM69.3 407.9h1.8v1.8h-1.8zM61.8 406.4h1.8v1.8h-1.8zM61.9 415.1h1.8v1.8h-1.8zM50.5 406.0h1.8v1.8h-1.8zM58.8 398.7h1.8v1.8h-1.8zM57.1 402.4h1.8v1.8h-1.8zM59.8 403.5h1.8v1.8h-1.8zM58.2 407.4h1.8v1.8h-1.8zM58.2 410.6h1.8v1.8h-1.8zM62.3 410.4h1.8v1.8h-1.8zM56.6 399.5h1.8v1.8h-1.8zM53.7 406.8h1.8v1.8h-1.8zM50.6 405.9h1.8v1.8h-1.8zM59.3 398.8h1.8v1.8h-1.8zM58.2 399.8h1.8v1.8h-1.8zM66.2 391.8h1.8v1.8h-1.8zM67.7 391.2h1.8v1.8h-1.8zM56.1 399.0h1.8v1.8h-1.8zM68.4 387.2h1.8v1.8h-1.8zM59.8 396.9h1.8v1.8h-1.8zM55.7 405.2h1.8v1.8h-1.8zM69.1 386.3h1.8v1.8h-1.8zM62.1 394.3h1.8v1.8h-1.8zM72.7 389.2h1.8v1.8h-1.8zM68.0 395.4h1.8v1.8h-1.8zM61.7 395.5h1.8v1.8h-1.8zM61.5 390.6h1.8v1.8h-1.8zM63.3 392.6h1.8v1.8h-1.8zM70.7 386.5h1.8v1.8h-1.8zM57.4 396.6h1.8v1.8h-1.8zM69.6 384.5h1.8v1.8h-1.8zM55.7 400.6h1.8v1.8h-1.8zM56.6 401.8h1.8v1.8h-1.8zM66.9 388.1h1.8v1.8h-1.8zM71.1 388.2h1.8v1.8h-1.8zM55.7 402.6h1.8v1.8h-1.8zM60.0 398.5h1.8v1.8h-1.8zM52.8 402.3h1.8v1.8h-1.8zM63.5 390.2h1.8v1.8h-1.8zM59.9 394.4h1.8v1.8h-1.8zM53.0 400.6h1.8v1.8h-1.8zM51.8 403.6h1.8v1.8h-1.8zM139.5 389.2h1.8v1.8h-1.8zM78.6 386.0h1.8v1.8h-1.8zM150.6 393.6h1.8v1.8h-1.8zM67.4 392.3h1.8v1.8h-1.8zM139.2 390.3h1.8v1.8h-1.8zM58.5 391.6h1.8v1.8h-1.8zM139.4 393.8h1.8v1.8h-1.8zM81.7 386.5h1.8v1.8h-1.8zM104.3 392.7h1.8v1.8h-1.8zM123.3 392.2h1.8v1.8h-1.8zM99.8 389.1h1.8v1.8h-1.8zM132.0 386.5h1.8v1.8h-1.8zM118.0 388.8h1.8v1.8h-1.8zM78.6 389.0h1.8v1.8h-1.8zM71.4 387.0h1.8v1.8h-1.8zM111.1 388.7h1.8v1.8h-1.8zM116.1 389.4h1.8v1.8h-1.8zM104.0 389.6h1.8v1.8h-1.8zM139.4 390.4h1.8v1.8h-1.8zM84.1 387.7h1.8v1.8h-1.8zM88.9 387.4h1.8v1.8h-1.8zM119.6 389.1h1.8v1.8h-1.8zM122.0 390.3h1.8v1.8h-1.8zM63.2 390.7h1.8v1.8h-1.8zM123.2 387.0h1.8v1.8h-1.8zM125.7 390.0h1.8v1.8h-1.8zM147.7 388.2h1.8v1.8h-1.8zM79.7 384.2h1.8v1.8h-1.8zM87.7 388.1h1.8v1.8h-1.8zM75.2 385.0h1.8v1.8h-1.8zM121.5 390.0h1.8v1.8h-1.8zM95.8 384.2h1.8v1.8h-1.8zM71.3 386.2h1.8v1.8h-1.8zM98.2 390.5h1.8v1.8h-1.8zM132.1 390.0h1.8v1.8h-1.8zM90.4 384.4h1.8v1.8h-1.8zM131.4 389.6h1.8v1.8h-1.8zM91.5 387.3h1.8v1.8h-1.8zM75.0 386.6h1.8v1.8h-1.8zM91.5 388.3h1.8v1.8h-1.8zM149.4 389.5h1.8v1.8h-1.8zM136.3 391.9h1.8v1.8h-1.8zM63.1 391.1h1.8v1.8h-1.8zM145.3 389.3h1.8v1.8h-1.8zM144.7 390.3h1.8v1.8h-1.8zM134.3 390.8h1.8v1.8h-1.8zM69.4 390.7h1.8v1.8h-1.8zM81.4 390.7h1.8v1.8h-1.8zM88.4 383.9h1.8v1.8h-1.8zM115.4 387.0h1.8v1.8h-1.8zM87.0 387.6h1.8v1.8h-1.8zM131.8 391.2h1.8v1.8h-1.8zM148.5 390.7h1.8v1.8h-1.8zM107.7 390.1h1.8v1.8h-1.8zM93.7 386.7h1.8v1.8h-1.8zM105.2 389.6h1.8v1.8h-1.8zM133.0 393.3h1.8v1.8h-1.8zM128.9 391.0h1.8v1.8h-1.8zM84.7 385.6h1.8v1.8h-1.8zM68.2 387.1h1.8v1.8h-1.8zM81.1 386.9h1.8v1.8h-1.8zM106.5 385.2h1.8v1.8h-1.8zM142.9 390.7h1.8v1.8h-1.8zM69.5 388.3h1.8v1.8h-1.8zM122.9 389.5h1.8v1.8h-1.8zM94.0 390.4h1.8v1.8h-1.8zM130.1 392.0h1.8v1.8h-1.8zM70.3 388.5h1.8v1.8h-1.8zM108.2 387.4h1.8v1.8h-1.8zM76.0 385.5h1.8v1.8h-1.8zM73.9 387.9h1.8v1.8h-1.8zM82.2 384.8h1.8v1.8h-1.8zM105.7 386.2h1.8v1.8h-1.8zM120.2 389.7h1.8v1.8h-1.8zM104.0 391.9h1.8v1.8h-1.8zM145.9 390.4h1.8v1.8h-1.8zM71.5 383.4h1.8v1.8h-1.8zM114.5 390.1h1.8v1.8h-1.8zM137.7 390.1h1.8v1.8h-1.8zM132.0 390.4h1.8v1.8h-1.8zM112.5 390.2h1.8v1.8h-1.8zM93.0 387.4h1.8v1.8h-1.8zM78.5 388.5h1.8v1.8h-1.8zM78.4 386.7h1.8v1.8h-1.8zM122.3 388.5h1.8v1.8h-1.8zM77.2 388.8h1.8v1.8h-1.8zM68.0 389.6h1.8v1.8h-1.8zM108.6 389.8h1.8v1.8h-1.8zM71.8 388.1h1.8v1.8h-1.8zM81.9 383.7h1.8v1.8h-1.8zM84.7 388.3h1.8v1.8h-1.8zM101.7 392.9h1.8v1.8h-1.8zM92.8 385.7h1.8v1.8h-1.8zM81.4 386.7h1.8v1.8h-1.8zM98.2 390.3h1.8v1.8h-1.8zM139.7 390.3h1.8v1.8h-1.8zM60.2 393.9h1.8v1.8h-1.8zM146.4 389.5h1.8v1.8h-1.8zM90.9 388.3h1.8v1.8h-1.8zM78.7 387.9h1.8v1.8h-1.8zM63.7 386.5h1.8v1.8h-1.8zM65.9 387.0h1.8v1.8h-1.8zM63.7 386.1h1.8v1.8h-1.8zM64.7 389.2h1.8v1.8h-1.8zM65.5 389.0h1.8v1.8h-1.8zM62.4 387.1h1.8v1.8h-1.8zM65.6 387.7h1.8v1.8h-1.8zM140.4 389.1h1.8v1.8h-1.8zM139.0 390.0h1.8v1.8h-1.8zM140.8 389.4h1.8v1.8h-1.8zM139.8 391.6h1.8v1.8h-1.8zM61.3 392.1h1.8v1.8h-1.8zM61.8 394.0h1.8v1.8h-1.8zM60.3 393.2h1.8v1.8h-1.8zM61.9 393.7h1.8v1.8h-1.8zM60.2 393.4h1.8v1.8h-1.8zM59.7 393.1h1.8v1.8h-1.8zM60.9 393.6h1.8v1.8h-1.8zM59.9 392.8h1.8v1.8h-1.8zM62.7 392.8h1.8v1.8h-1.8zM59.5 392.6h1.8v1.8h-1.8zM72.3 386.3h1.8v1.8h-1.8zM70.9 386.8h1.8v1.8h-1.8zM70.9 387.1h1.8v1.8h-1.8zM71.0 388.2h1.8v1.8h-1.8zM70.8 386.8h1.8v1.8h-1.8zM70.1 386.8h1.8v1.8h-1.8zM71.8 387.0h1.8v1.8h-1.8zM142.1 389.6h1.8v1.8h-1.8zM142.7 388.8h1.8v1.8h-1.8zM142.1 389.8h1.8v1.8h-1.8zM144.6 390.3h1.8v1.8h-1.8zM142.6 391.4h1.8v1.8h-1.8zM144.4 389.6h1.8v1.8h-1.8zM85.2 387.0h1.8v1.8h-1.8zM88.1 386.3h1.8v1.8h-1.8zM86.8 387.0h1.8v1.8h-1.8zM88.6 386.8h1.8v1.8h-1.8zM75.6 387.5h1.8v1.8h-1.8zM75.4 388.7h1.8v1.8h-1.8zM75.7 388.7h1.8v1.8h-1.8zM77.8 388.6h1.8v1.8h-1.8zM75.5 387.3h1.8v1.8h-1.8zM75.6 386.5h1.8v1.8h-1.8zM75.9 388.8h1.8v1.8h-1.8zM83.8 383.8h1.8v1.8h-1.8zM84.4 384.7h1.8v1.8h-1.8zM85.1 385.1h1.8v1.8h-1.8zM85.5 385.4h1.8v1.8h-1.8zM82.9 386.6h1.8v1.8h-1.8zM111.5 390.1h1.8v1.8h-1.8zM112.8 391.7h1.8v1.8h-1.8zM112.1 390.4h1.8v1.8h-1.8zM111.1 390.6h1.8v1.8h-1.8zM113.2 390.7h1.8v1.8h-1.8zM111.5 391.0h1.8v1.8h-1.8zM91.2 388.1h1.8v1.8h-1.8zM91.0 388.4h1.8v1.8h-1.8zM93.7 386.3h1.8v1.8h-1.8zM91.9 387.3h1.8v1.8h-1.8zM93.3 387.1h1.8v1.8h-1.8zM93.3 388.8h1.8v1.8h-1.8zM91.2 387.4h1.8v1.8h-1.8zM93.6 387.7h1.8v1.8h-1.8zM90.9 388.1h1.8v1.8h-1.8zM111.7 387.9h1.8v1.8h-1.8zM112.4 389.0h1.8v1.8h-1.8zM112.3 388.1h1.8v1.8h-1.8zM113.0 388.1h1.8v1.8h-1.8zM112.4 390.0h1.8v1.8h-1.8zM66.9 385.7h1.8v1.8h-1.8zM68.9 386.1h1.8v1.8h-1.8zM68.2 385.0h1.8v1.8h-1.8zM70.9 385.1h1.8v1.8h-1.8zM69.0 386.9h1.8v1.8h-1.8zM70.8 385.6h1.8v1.8h-1.8zM68.5 386.5h1.8v1.8h-1.8zM68.5 386.5h1.8v1.8h-1.8zM68.7 385.2h1.8v1.8h-1.8zM79.6 385.8h1.8v1.8h-1.8zM79.9 386.7h1.8v1.8h-1.8zM82.9 387.9h1.8v1.8h-1.8zM82.2 387.2h1.8v1.8h-1.8zM81.3 387.9h1.8v1.8h-1.8zM72.3 386.0h1.8v1.8h-1.8zM72.3 388.6h1.8v1.8h-1.8zM72.3 387.4h1.8v1.8h-1.8zM73.1 387.1h1.8v1.8h-1.8zM72.5 384.9h1.8v1.8h-1.8zM115.4 391.5h1.8v1.8h-1.8zM114.1 391.6h1.8v1.8h-1.8zM114.6 392.3h1.8v1.8h-1.8zM114.1 392.3h1.8v1.8h-1.8zM116.3 392.4h1.8v1.8h-1.8zM115.3 391.7h1.8v1.8h-1.8zM115.2 391.7h1.8v1.8h-1.8zM115.7 391.5h1.8v1.8h-1.8zM68.9 387.0h1.8v1.8h-1.8zM68.8 387.1h1.8v1.8h-1.8zM70.9 385.4h1.8v1.8h-1.8zM68.1 384.7h1.8v1.8h-1.8zM70.5 387.4h1.8v1.8h-1.8zM71.6 385.2h1.8v1.8h-1.8zM146.9 391.5h1.8v1.8h-1.8zM77.9 386.0h1.8v1.8h-1.8zM141.1 396.3h1.8v1.8h-1.8zM131.9 393.1h1.8v1.8h-1.8zM76.9 384.2h1.8v1.8h-1.8zM73.7 382.5h1.8v1.8h-1.8zM63.5 389.2h1.8v1.8h-1.8zM121.3 387.0h1.8v1.8h-1.8zM136.2 391.2h1.8v1.8h-1.8zM122.3 388.6h1.8v1.8h-1.8zM99.3 393.0h1.8v1.8h-1.8zM119.7 390.6h1.8v1.8h-1.8zM149.1 386.0h1.8v1.8h-1.8zM77.5 386.6h1.8v1.8h-1.8zM130.1 390.2h1.8v1.8h-1.8zM92.2 388.7h1.8v1.8h-1.8zM68.6 386.5h1.8v1.8h-1.8zM135.1 379.6h1.8v1.8h-1.8zM86.2 380.6h1.8v1.8h-1.8zM111.4 385.0h1.8v1.8h-1.8zM69.4 396.3h1.8v1.8h-1.8zM127.7 393.2h1.8v1.8h-1.8zM84.4 382.8h1.8v1.8h-1.8zM68.5 390.0h1.8v1.8h-1.8zM75.5 377.2h1.8v1.8h-1.8zM94.9 382.7h1.8v1.8h-1.8zM71.6 385.6h1.8v1.8h-1.8zM128.9 396.5h1.8v1.8h-1.8zM88.4 385.8h1.8v1.8h-1.8zM131.7 396.7h1.8v1.8h-1.8zM156.5 390.6h1.8v1.8h-1.8zM179.6 391.1h1.8v1.8h-1.8zM190.5 388.1h1.8v1.8h-1.8zM164.5 394.5h1.8v1.8h-1.8zM159.9 390.6h1.8v1.8h-1.8zM165.5 392.0h1.8v1.8h-1.8zM168.9 388.3h1.8v1.8h-1.8zM188.7 388.9h1.8v1.8h-1.8zM152.3 388.6h1.8v1.8h-1.8zM187.1 392.1h1.8v1.8h-1.8zM160.3 392.1h1.8v1.8h-1.8zM161.0 391.4h1.8v1.8h-1.8zM170.8 394.1h1.8v1.8h-1.8zM173.0 393.3h1.8v1.8h-1.8zM156.8 392.3h1.8v1.8h-1.8zM186.8 391.9h1.8v1.8h-1.8zM177.8 393.7h1.8v1.8h-1.8zM161.6 394.6h1.8v1.8h-1.8zM185.2 393.4h1.8v1.8h-1.8zM180.9 392.7h1.8v1.8h-1.8zM165.5 392.3h1.8v1.8h-1.8zM171.5 394.2h1.8v1.8h-1.8zM180.2 390.4h1.8v1.8h-1.8zM171.0 393.1h1.8v1.8h-1.8zM183.4 391.9h1.8v1.8h-1.8zM181.6 393.1h1.8v1.8h-1.8zM174.6 392.2h1.8v1.8h-1.8zM178.3 390.1h1.8v1.8h-1.8zM191.0 387.8h1.8v1.8h-1.8zM174.7 392.8h1.8v1.8h-1.8zM172.6 394.2h1.8v1.8h-1.8zM171.2 390.3h1.8v1.8h-1.8zM160.7 392.9h1.8v1.8h-1.8zM190.2 388.0h1.8v1.8h-1.8zM169.6 391.5h1.8v1.8h-1.8zM172.1 391.8h1.8v1.8h-1.8zM170.3 393.3h1.8v1.8h-1.8zM164.5 389.4h1.8v1.8h-1.8zM190.5 387.9h1.8v1.8h-1.8zM186.5 389.9h1.8v1.8h-1.8zM158.6 394.0h1.8v1.8h-1.8zM177.8 391.5h1.8v1.8h-1.8zM164.1 392.0h1.8v1.8h-1.8zM182.2 394.2h1.8v1.8h-1.8zM172.3 390.3h1.8v1.8h-1.8zM158.7 392.6h1.8v1.8h-1.8zM189.3 388.5h1.8v1.8h-1.8zM162.3 391.3h1.8v1.8h-1.8zM152.0 392.3h1.8v1.8h-1.8zM162.3 390.2h1.8v1.8h-1.8zM169.3 393.6h1.8v1.8h-1.8zM172.0 393.1h1.8v1.8h-1.8zM156.8 394.0h1.8v1.8h-1.8zM189.3 388.6h1.8v1.8h-1.8zM180.7 391.9h1.8v1.8h-1.8zM191.4 388.3h1.8v1.8h-1.8zM157.6 390.5h1.8v1.8h-1.8zM185.9 390.1h1.8v1.8h-1.8zM191.3 389.4h1.8v1.8h-1.8zM187.8 390.5h1.8v1.8h-1.8zM183.6 393.3h1.8v1.8h-1.8zM183.0 393.0h1.8v1.8h-1.8zM183.1 392.2h1.8v1.8h-1.8zM183.3 393.0h1.8v1.8h-1.8zM185.2 392.3h1.8v1.8h-1.8zM185.4 392.1h1.8v1.8h-1.8zM157.1 393.3h1.8v1.8h-1.8zM161.6 392.8h1.8v1.8h-1.8zM157.9 392.7h1.8v1.8h-1.8zM158.2 394.2h1.8v1.8h-1.8zM158.5 392.3h1.8v1.8h-1.8zM159.8 393.0h1.8v1.8h-1.8zM179.1 391.4h1.8v1.8h-1.8zM179.8 391.1h1.8v1.8h-1.8zM180.1 393.8h1.8v1.8h-1.8zM152.8 390.2h1.8v1.8h-1.8zM153.2 390.8h1.8v1.8h-1.8zM176.3 394.4h1.8v1.8h-1.8zM175.0 393.4h1.8v1.8h-1.8zM177.9 393.8h1.8v1.8h-1.8zM164.3 396.3h1.8v1.8h-1.8zM165.0 394.5h1.8v1.8h-1.8zM165.0 394.1h1.8v1.8h-1.8zM164.1 396.2h1.8v1.8h-1.8zM167.3 394.8h1.8v1.8h-1.8zM235.1 337.9h1.8v1.8h-1.8zM202.9 370.2h1.8v1.8h-1.8zM235.6 338.9h1.8v1.8h-1.8zM231.0 342.3h1.8v1.8h-1.8zM210.8 352.2h1.8v1.8h-1.8zM212.3 352.2h1.8v1.8h-1.8zM211.9 345.4h1.8v1.8h-1.8zM194.7 383.4h1.8v1.8h-1.8zM230.0 342.8h1.8v1.8h-1.8zM205.9 369.4h1.8v1.8h-1.8zM211.1 350.6h1.8v1.8h-1.8zM203.7 359.6h1.8v1.8h-1.8zM217.2 348.3h1.8v1.8h-1.8zM213.3 352.1h1.8v1.8h-1.8zM222.0 342.4h1.8v1.8h-1.8zM209.7 360.1h1.8v1.8h-1.8zM222.2 353.6h1.8v1.8h-1.8zM206.1 357.8h1.8v1.8h-1.8zM216.7 346.4h1.8v1.8h-1.8zM195.4 389.3h1.8v1.8h-1.8zM196.3 382.8h1.8v1.8h-1.8zM235.1 337.8h1.8v1.8h-1.8zM221.7 339.8h1.8v1.8h-1.8zM202.2 376.6h1.8v1.8h-1.8zM224.5 347.2h1.8v1.8h-1.8zM190.1 388.0h1.8v1.8h-1.8zM209.3 360.2h1.8v1.8h-1.8zM243.5 335.7h1.8v1.8h-1.8zM186.3 393.1h1.8v1.8h-1.8zM191.7 381.9h1.8v1.8h-1.8zM198.5 381.6h1.8v1.8h-1.8zM189.8 384.5h1.8v1.8h-1.8zM205.1 362.1h1.8v1.8h-1.8zM224.4 337.6h1.8v1.8h-1.8zM212.4 347.5h1.8v1.8h-1.8zM232.4 342.0h1.8v1.8h-1.8zM211.3 351.6h1.8v1.8h-1.8zM242.6 339.4h1.8v1.8h-1.8zM194.2 372.2h1.8v1.8h-1.8zM228.5 340.5h1.8v1.8h-1.8zM208.2 363.1h1.8v1.8h-1.8zM212.9 348.6h1.8v1.8h-1.8zM228.7 339.8h1.8v1.8h-1.8zM195.1 371.2h1.8v1.8h-1.8zM230.3 340.2h1.8v1.8h-1.8zM233.8 343.8h1.8v1.8h-1.8zM210.9 347.4h1.8v1.8h-1.8zM225.6 344.9h1.8v1.8h-1.8zM206.2 365.5h1.8v1.8h-1.8zM229.5 336.4h1.8v1.8h-1.8zM241.0 333.0h1.8v1.8h-1.8zM216.0 345.5h1.8v1.8h-1.8zM199.0 377.7h1.8v1.8h-1.8zM212.2 357.1h1.8v1.8h-1.8zM225.9 337.9h1.8v1.8h-1.8zM240.4 339.3h1.8v1.8h-1.8zM205.6 359.2h1.8v1.8h-1.8zM198.9 374.1h1.8v1.8h-1.8zM199.7 367.0h1.8v1.8h-1.8zM209.7 355.0h1.8v1.8h-1.8zM245.6 333.5h1.8v1.8h-1.8zM216.0 349.9h1.8v1.8h-1.8zM211.0 348.2h1.8v1.8h-1.8zM200.9 387.5h1.8v1.8h-1.8zM229.8 338.0h1.8v1.8h-1.8zM199.8 375.4h1.8v1.8h-1.8zM242.7 340.4h1.8v1.8h-1.8zM243.5 334.7h1.8v1.8h-1.8zM197.6 376.1h1.8v1.8h-1.8zM185.7 389.1h1.8v1.8h-1.8zM214.0 361.3h1.8v1.8h-1.8zM190.3 388.0h1.8v1.8h-1.8zM197.4 383.2h1.8v1.8h-1.8zM205.9 357.3h1.8v1.8h-1.8zM214.8 344.6h1.8v1.8h-1.8zM206.4 381.5h1.8v1.8h-1.8zM200.3 375.1h1.8v1.8h-1.8zM208.7 369.7h1.8v1.8h-1.8zM237.4 337.8h1.8v1.8h-1.8zM214.6 349.9h1.8v1.8h-1.8zM196.2 383.8h1.8v1.8h-1.8zM240.0 337.9h1.8v1.8h-1.8zM213.2 352.1h1.8v1.8h-1.8zM201.4 367.4h1.8v1.8h-1.8zM208.9 356.4h1.8v1.8h-1.8zM195.1 381.4h1.8v1.8h-1.8zM221.6 343.3h1.8v1.8h-1.8zM241.7 330.8h1.8v1.8h-1.8zM235.8 339.1h1.8v1.8h-1.8zM212.9 357.1h1.8v1.8h-1.8zM229.4 340.9h1.8v1.8h-1.8zM203.8 370.0h1.8v1.8h-1.8zM216.8 347.4h1.8v1.8h-1.8zM191.7 390.0h1.8v1.8h-1.8zM197.3 382.3h1.8v1.8h-1.8zM206.5 361.1h1.8v1.8h-1.8zM230.7 337.7h1.8v1.8h-1.8zM204.9 352.5h1.8v1.8h-1.8zM195.8 383.2h1.8v1.8h-1.8zM235.9 338.9h1.8v1.8h-1.8zM208.4 351.8h1.8v1.8h-1.8zM206.5 355.6h1.8v1.8h-1.8zM206.4 356.7h1.8v1.8h-1.8zM210.4 354.3h1.8v1.8h-1.8zM207.8 357.0h1.8v1.8h-1.8zM211.5 353.9h1.8v1.8h-1.8zM203.9 368.6h1.8v1.8h-1.8zM203.6 366.1h1.8v1.8h-1.8zM203.9 367.8h1.8v1.8h-1.8zM202.0 367.6h1.8v1.8h-1.8zM204.1 365.4h1.8v1.8h-1.8zM202.6 368.1h1.8v1.8h-1.8zM198.6 383.1h1.8v1.8h-1.8zM200.9 384.1h1.8v1.8h-1.8zM195.5 384.2h1.8v1.8h-1.8zM198.0 381.7h1.8v1.8h-1.8zM208.0 364.1h1.8v1.8h-1.8zM209.3 365.1h1.8v1.8h-1.8zM207.1 363.1h1.8v1.8h-1.8zM209.1 363.8h1.8v1.8h-1.8zM208.4 363.8h1.8v1.8h-1.8zM199.8 380.5h1.8v1.8h-1.8zM198.2 381.7h1.8v1.8h-1.8zM198.1 381.0h1.8v1.8h-1.8zM198.2 380.9h1.8v1.8h-1.8zM195.2 379.7h1.8v1.8h-1.8zM197.2 380.7h1.8v1.8h-1.8zM196.7 380.4h1.8v1.8h-1.8zM231.3 335.0h1.8v1.8h-1.8zM233.1 334.9h1.8v1.8h-1.8zM234.7 335.0h1.8v1.8h-1.8zM233.8 334.3h1.8v1.8h-1.8zM233.5 332.6h1.8v1.8h-1.8zM196.5 387.3h1.8v1.8h-1.8zM194.9 387.9h1.8v1.8h-1.8zM195.8 384.1h1.8v1.8h-1.8zM198.3 386.1h1.8v1.8h-1.8zM195.7 385.0h1.8v1.8h-1.8zM197.6 387.0h1.8v1.8h-1.8zM191.9 385.2h1.8v1.8h-1.8zM196.2 382.6h1.8v1.8h-1.8zM194.8 384.6h1.8v1.8h-1.8zM196.7 386.4h1.8v1.8h-1.8zM193.4 383.0h1.8v1.8h-1.8zM196.0 385.1h1.8v1.8h-1.8zM212.0 366.2h1.8v1.8h-1.8zM212.5 363.4h1.8v1.8h-1.8zM210.5 363.6h1.8v1.8h-1.8zM209.2 365.3h1.8v1.8h-1.8zM210.4 368.6h1.8v1.8h-1.8zM238.6 337.1h1.8v1.8h-1.8zM239.0 336.3h1.8v1.8h-1.8zM237.8 335.6h1.8v1.8h-1.8zM240.6 336.1h1.8v1.8h-1.8zM242.7 336.6h1.8v1.8h-1.8zM242.0 336.9h1.8v1.8h-1.8zM241.0 338.6h1.8v1.8h-1.8zM240.0 336.4h1.8v1.8h-1.8zM217.7 342.2h1.8v1.8h-1.8zM214.4 343.7h1.8v1.8h-1.8zM217.6 346.4h1.8v1.8h-1.8zM217.2 343.9h1.8v1.8h-1.8zM216.9 344.1h1.8v1.8h-1.8zM211.4 346.1h1.8v1.8h-1.8zM210.6 347.6h1.8v1.8h-1.8zM212.2 347.0h1.8v1.8h-1.8zM211.1 346.3h1.8v1.8h-1.8zM211.3 346.6h1.8v1.8h-1.8zM179.0 388.1h1.8v1.8h-1.8zM203.5 353.4h1.8v1.8h-1.8zM194.7 383.1h1.8v1.8h-1.8zM203.5 357.7h1.8v1.8h-1.8zM201.3 365.5h1.8v1.8h-1.8zM200.8 350.8h1.8v1.8h-1.8zM180.1 380.5h1.8v1.8h-1.8zM189.4 376.7h1.8v1.8h-1.8zM206.9 371.7h1.8v1.8h-1.8zM227.1 339.3h1.8v1.8h-1.8zM232.1 337.3h1.8v1.8h-1.8zM191.6 360.8h1.8v1.8h-1.8zM197.7 369.2h1.8v1.8h-1.8zM227.1 338.5h1.8v1.8h-1.8zM197.4 373.7h1.8v1.8h-1.8zM237.0 344.9h1.8v1.8h-1.8zM222.3 352.4h1.8v1.8h-1.8zM210.2 367.2h1.8v1.8h-1.8zM250.5 328.5h1.8v1.8h-1.8zM190.5 397.6h1.8v1.8h-1.8zM222.7 309.0h1.8v1.8h-1.8zM227.7 314.8h1.8v1.8h-1.8zM207.2 302.8h1.8v1.8h-1.8zM222.3 311.2h1.8v1.8h-1.8zM226.1 312.4h1.8v1.8h-1.8zM236.2 318.0h1.8v1.8h-1.8zM217.1 307.9h1.8v1.8h-1.8zM238.9 312.6h1.8v1.8h-1.8zM217.2 303.1h1.8v1.8h-1.8zM237.8 317.3h1.8v1.8h-1.8zM182.4 287.2h1.8v1.8h-1.8zM186.8 290.8h1.8v1.8h-1.8zM206.4 306.1h1.8v1.8h-1.8zM186.7 298.4h1.8v1.8h-1.8zM212.8 308.1h1.8v1.8h-1.8zM226.5 309.6h1.8v1.8h-1.8zM236.5 314.1h1.8v1.8h-1.8zM218.8 306.4h1.8v1.8h-1.8zM224.4 312.3h1.8v1.8h-1.8zM192.0 292.3h1.8v1.8h-1.8zM217.5 314.8h1.8v1.8h-1.8zM227.8 314.1h1.8v1.8h-1.8zM240.6 317.1h1.8v1.8h-1.8zM191.9 293.9h1.8v1.8h-1.8zM185.3 294.9h1.8v1.8h-1.8zM180.9 289.7h1.8v1.8h-1.8zM243.4 320.9h1.8v1.8h-1.8zM219.1 306.9h1.8v1.8h-1.8zM205.5 304.5h1.8v1.8h-1.8zM177.7 288.6h1.8v1.8h-1.8zM227.6 312.7h1.8v1.8h-1.8zM205.2 300.7h1.8v1.8h-1.8zM188.4 294.6h1.8v1.8h-1.8zM239.6 320.4h1.8v1.8h-1.8zM237.4 318.3h1.8v1.8h-1.8zM175.3 289.0h1.8v1.8h-1.8zM247.8 322.8h1.8v1.8h-1.8zM246.8 326.0h1.8v1.8h-1.8zM218.5 310.2h1.8v1.8h-1.8zM195.0 294.7h1.8v1.8h-1.8zM195.0 293.9h1.8v1.8h-1.8zM233.2 311.6h1.8v1.8h-1.8zM248.7 328.7h1.8v1.8h-1.8zM229.8 312.5h1.8v1.8h-1.8zM249.2 332.1h1.8v1.8h-1.8zM177.6 288.2h1.8v1.8h-1.8zM247.1 316.0h1.8v1.8h-1.8zM188.5 288.6h1.8v1.8h-1.8zM192.6 291.7h1.8v1.8h-1.8zM174.2 289.1h1.8v1.8h-1.8zM237.4 315.6h1.8v1.8h-1.8zM240.1 315.0h1.8v1.8h-1.8zM220.9 310.2h1.8v1.8h-1.8zM242.7 321.0h1.8v1.8h-1.8zM179.4 286.4h1.8v1.8h-1.8zM242.4 326.5h1.8v1.8h-1.8zM229.1 310.8h1.8v1.8h-1.8zM192.0 292.6h1.8v1.8h-1.8zM243.0 319.4h1.8v1.8h-1.8zM245.2 333.3h1.8v1.8h-1.8zM243.9 324.1h1.8v1.8h-1.8zM240.2 317.0h1.8v1.8h-1.8zM226.8 313.1h1.8v1.8h-1.8zM241.4 320.4h1.8v1.8h-1.8zM232.0 312.5h1.8v1.8h-1.8zM180.1 289.6h1.8v1.8h-1.8zM226.3 307.3h1.8v1.8h-1.8zM243.1 318.2h1.8v1.8h-1.8zM231.0 309.7h1.8v1.8h-1.8zM243.8 320.2h1.8v1.8h-1.8zM215.4 308.3h1.8v1.8h-1.8zM193.7 294.7h1.8v1.8h-1.8zM211.7 304.2h1.8v1.8h-1.8zM248.3 324.6h1.8v1.8h-1.8zM234.3 315.0h1.8v1.8h-1.8zM211.0 304.5h1.8v1.8h-1.8zM239.4 314.3h1.8v1.8h-1.8zM245.2 316.3h1.8v1.8h-1.8zM233.2 313.0h1.8v1.8h-1.8zM201.0 299.3h1.8v1.8h-1.8zM244.7 324.4h1.8v1.8h-1.8zM202.2 302.9h1.8v1.8h-1.8zM224.5 313.6h1.8v1.8h-1.8zM242.2 318.9h1.8v1.8h-1.8zM208.4 302.5h1.8v1.8h-1.8zM185.2 294.0h1.8v1.8h-1.8zM248.1 331.0h1.8v1.8h-1.8zM242.4 318.5h1.8v1.8h-1.8zM244.9 328.7h1.8v1.8h-1.8zM245.8 323.9h1.8v1.8h-1.8zM200.6 297.5h1.8v1.8h-1.8zM203.2 301.0h1.8v1.8h-1.8zM193.1 295.0h1.8v1.8h-1.8zM248.8 333.4h1.8v1.8h-1.8zM246.4 329.9h1.8v1.8h-1.8zM197.2 291.3h1.8v1.8h-1.8zM202.3 296.3h1.8v1.8h-1.8zM228.5 315.4h1.8v1.8h-1.8zM244.5 312.9h1.8v1.8h-1.8zM230.0 311.8h1.8v1.8h-1.8zM201.2 301.0h1.8v1.8h-1.8zM227.5 308.6h1.8v1.8h-1.8zM218.8 310.7h1.8v1.8h-1.8zM245.0 325.8h1.8v1.8h-1.8zM202.5 301.8h1.8v1.8h-1.8zM218.6 307.5h1.8v1.8h-1.8zM214.8 306.3h1.8v1.8h-1.8zM230.1 312.1h1.8v1.8h-1.8zM238.9 312.1h1.8v1.8h-1.8zM204.6 300.2h1.8v1.8h-1.8zM210.9 305.4h1.8v1.8h-1.8zM209.0 306.9h1.8v1.8h-1.8zM209.1 305.3h1.8v1.8h-1.8zM207.7 305.8h1.8v1.8h-1.8zM208.6 306.7h1.8v1.8h-1.8zM219.4 308.3h1.8v1.8h-1.8zM233.0 312.3h1.8v1.8h-1.8zM230.0 311.1h1.8v1.8h-1.8zM232.9 313.1h1.8v1.8h-1.8zM232.2 311.7h1.8v1.8h-1.8zM232.4 308.1h1.8v1.8h-1.8zM232.2 311.9h1.8v1.8h-1.8zM200.8 295.6h1.8v1.8h-1.8zM198.2 296.2h1.8v1.8h-1.8zM199.0 296.5h1.8v1.8h-1.8zM201.4 297.3h1.8v1.8h-1.8zM196.3 298.5h1.8v1.8h-1.8zM198.4 297.2h1.8v1.8h-1.8zM238.0 317.2h1.8v1.8h-1.8zM242.4 318.6h1.8v1.8h-1.8zM238.8 316.4h1.8v1.8h-1.8zM240.9 316.5h1.8v1.8h-1.8zM238.1 317.1h1.8v1.8h-1.8zM239.8 316.1h1.8v1.8h-1.8zM244.3 317.5h1.8v1.8h-1.8zM217.2 309.6h1.8v1.8h-1.8zM214.9 310.6h1.8v1.8h-1.8zM218.3 311.7h1.8v1.8h-1.8zM220.6 311.6h1.8v1.8h-1.8zM215.1 309.9h1.8v1.8h-1.8zM217.9 309.1h1.8v1.8h-1.8zM216.5 310.2h1.8v1.8h-1.8zM216.7 310.6h1.8v1.8h-1.8zM212.8 308.8h1.8v1.8h-1.8zM217.5 309.8h1.8v1.8h-1.8zM226.6 305.1h1.8v1.8h-1.8zM224.1 307.3h1.8v1.8h-1.8zM227.1 307.2h1.8v1.8h-1.8zM224.7 307.4h1.8v1.8h-1.8zM227.3 308.1h1.8v1.8h-1.8zM227.5 305.2h1.8v1.8h-1.8zM223.1 305.9h1.8v1.8h-1.8zM227.8 307.9h1.8v1.8h-1.8zM227.3 306.9h1.8v1.8h-1.8zM227.4 305.5h1.8v1.8h-1.8zM227.3 309.6h1.8v1.8h-1.8zM227.7 304.3h1.8v1.8h-1.8zM176.5 285.9h1.8v1.8h-1.8zM175.2 287.0h1.8v1.8h-1.8zM175.6 284.0h1.8v1.8h-1.8zM178.2 285.9h1.8v1.8h-1.8zM175.4 286.3h1.8v1.8h-1.8zM174.2 283.4h1.8v1.8h-1.8zM248.8 329.4h1.8v1.8h-1.8zM247.2 329.9h1.8v1.8h-1.8zM247.7 330.4h1.8v1.8h-1.8zM248.2 329.3h1.8v1.8h-1.8zM249.1 327.7h1.8v1.8h-1.8zM221.0 302.6h1.8v1.8h-1.8zM219.7 303.4h1.8v1.8h-1.8zM218.8 303.1h1.8v1.8h-1.8zM221.4 301.6h1.8v1.8h-1.8zM222.6 302.2h1.8v1.8h-1.8zM220.4 303.4h1.8v1.8h-1.8zM220.5 302.9h1.8v1.8h-1.8zM217.8 302.3h1.8v1.8h-1.8zM218.4 303.8h1.8v1.8h-1.8zM221.1 303.8h1.8v1.8h-1.8zM176.8 287.9h1.8v1.8h-1.8zM182.2 291.4h1.8v1.8h-1.8zM177.1 288.0h1.8v1.8h-1.8zM180.6 288.6h1.8v1.8h-1.8zM178.7 289.6h1.8v1.8h-1.8zM178.5 290.1h1.8v1.8h-1.8zM177.6 290.0h1.8v1.8h-1.8zM180.9 291.7h1.8v1.8h-1.8zM215.3 299.2h1.8v1.8h-1.8zM178.5 288.5h1.8v1.8h-1.8zM195.5 302.8h1.8v1.8h-1.8zM214.0 300.0h1.8v1.8h-1.8zM227.1 313.3h1.8v1.8h-1.8zM182.6 292.7h1.8v1.8h-1.8zM248.2 335.9h1.8v1.8h-1.8zM241.3 319.4h1.8v1.8h-1.8zM235.3 315.0h1.8v1.8h-1.8zM199.9 295.4h1.8v1.8h-1.8zM245.0 325.7h1.8v1.8h-1.8zM252.0 325.2h1.8v1.8h-1.8zM201.0 303.0h1.8v1.8h-1.8zM191.9 299.5h1.8v1.8h-1.8zM191.8 294.0h1.8v1.8h-1.8zM232.7 309.9h1.8v1.8h-1.8zM196.3 291.6h1.8v1.8h-1.8zM241.8 318.2h1.8v1.8h-1.8zM218.7 314.6h1.8v1.8h-1.8zM192.5 301.1h1.8v1.8h-1.8zM164.2 286.0h1.8v1.8h-1.8zM172.8 285.3h1.8v1.8h-1.8zM173.5 286.9h1.8v1.8h-1.8zM166.9 290.0h1.8v1.8h-1.8zM165.7 284.6h1.8v1.8h-1.8zM168.1 285.2h1.8v1.8h-1.8zM149.2 286.9h1.8v1.8h-1.8zM158.5 288.3h1.8v1.8h-1.8zM165.8 288.1h1.8v1.8h-1.8zM166.7 280.5h1.8v1.8h-1.8zM173.8 291.9h1.8v1.8h-1.8zM149.8 287.6h1.8v1.8h-1.8zM154.1 289.3h1.8v1.8h-1.8zM156.5 284.0h1.8v1.8h-1.8zM182.1 298.5h1.8v1.8h-1.8zM186.4 296.7h1.8v1.8h-1.8zM182.4 302.4h1.8v1.8h-1.8zM189.7 300.0h1.8v1.8h-1.8zM194.8 298.3h1.8v1.8h-1.8zM191.0 298.9h1.8v1.8h-1.8zM193.6 293.0h1.8v1.8h-1.8zM189.7 299.1h1.8v1.8h-1.8zM192.6 296.9h1.8v1.8h-1.8zM194.4 296.9h1.8v1.8h-1.8zM190.5 294.4h1.8v1.8h-1.8zM186.3 301.7h1.8v1.8h-1.8zM192.1 297.9h1.8v1.8h-1.8zM192.7 294.4h1.8v1.8h-1.8zM191.7 299.3h1.8v1.8h-1.8zM197.1 305.4h1.8v1.8h-1.8zM186.6 301.7h1.8v1.8h-1.8zM198.9 298.5h1.8v1.8h-1.8zM189.1 295.1h1.8v1.8h-1.8zM195.6 293.8h1.8v1.8h-1.8zM189.7 296.6h1.8v1.8h-1.8zM185.2 296.3h1.8v1.8h-1.8zM188.8 305.0h1.8v1.8h-1.8zM191.0 297.7h1.8v1.8h-1.8zM193.6 295.0h1.8v1.8h-1.8zM190.5 297.9h1.8v1.8h-1.8zM197.3 296.5h1.8v1.8h-1.8zM194.7 295.7h1.8v1.8h-1.8zM196.1 293.7h1.8v1.8h-1.8zM185.0 295.3h1.8v1.8h-1.8zM238.4 311.5h1.8v1.8h-1.8zM233.0 311.0h1.8v1.8h-1.8zM236.4 312.8h1.8v1.8h-1.8zM232.0 313.2h1.8v1.8h-1.8zM235.3 317.6h1.8v1.8h-1.8zM232.5 316.6h1.8v1.8h-1.8zM228.8 313.6h1.8v1.8h-1.8zM236.4 314.0h1.8v1.8h-1.8zM229.6 316.2h1.8v1.8h-1.8zM236.3 314.3h1.8v1.8h-1.8zM234.7 314.4h1.8v1.8h-1.8zM234.3 315.1h1.8v1.8h-1.8zM232.0 316.4h1.8v1.8h-1.8zM234.0 314.0h1.8v1.8h-1.8zM237.1 309.8h1.8v1.8h-1.8zM234.4 319.0h1.8v1.8h-1.8zM230.5 311.6h1.8v1.8h-1.8zM235.3 314.2h1.8v1.8h-1.8zM231.3 313.1h1.8v1.8h-1.8zM234.8 312.0h1.8v1.8h-1.8zM237.8 311.1h1.8v1.8h-1.8zM236.7 316.0h1.8v1.8h-1.8zM235.6 315.9h1.8v1.8h-1.8zM231.9 315.3h1.8v1.8h-1.8zM230.6 315.4h1.8v1.8h-1.8zM238.1 314.1h1.8v1.8h-1.8zM238.5 313.7h1.8v1.8h-1.8zM228.8 315.1h1.8v1.8h-1.8zM238.5 312.0h1.8v1.8h-1.8zM233.4 314.3h1.8v1.8h-1.8zM237.4 313.0h1.8v1.8h-1.8zM233.3 311.9h1.8v1.8h-1.8zM234.1 315.7h1.8v1.8h-1.8zM229.7 317.6h1.8v1.8h-1.8zM240.6 313.5h1.8v1.8h-1.8zM115.9 384.8h1.8v1.8h-1.8zM113.7 384.7h1.8v1.8h-1.8zM113.9 386.3h1.8v1.8h-1.8zM113.5 384.0h1.8v1.8h-1.8zM116.7 385.4h1.8v1.8h-1.8zM114.1 384.2h1.8v1.8h-1.8zM115.7 384.4h1.8v1.8h-1.8zM113.1 383.2h1.8v1.8h-1.8zM114.0 384.8h1.8v1.8h-1.8zM117.7 386.4h1.8v1.8h-1.8zM113.5 386.0h1.8v1.8h-1.8zM115.7 385.9h1.8v1.8h-1.8zM150.0 386.0h1.8v1.8h-1.8zM148.0 386.7h1.8v1.8h-1.8zM147.7 387.6h1.8v1.8h-1.8zM145.9 386.2h1.8v1.8h-1.8zM148.1 388.2h1.8v1.8h-1.8zM147.5 383.2h1.8v1.8h-1.8zM144.4 387.4h1.8v1.8h-1.8zM147.1 386.6h1.8v1.8h-1.8zM152.3 387.7h1.8v1.8h-1.8zM150.3 385.8h1.8v1.8h-1.8zM155.8 387.5h1.8v1.8h-1.8zM146.5 385.5h1.8v1.8h-1.8zM149.0 387.5h1.8v1.8h-1.8zM148.1 384.5h1.8v1.8h-1.8zM142.9 386.9h1.8v1.8h-1.8zM155.9 386.0h1.8v1.8h-1.8zM146.2 387.5h1.8v1.8h-1.8zM153.3 385.9h1.8v1.8h-1.8zM147.6 387.5h1.8v1.8h-1.8zM144.1 388.7h1.8v1.8h-1.8zM150.7 385.8h1.8v1.8h-1.8zM147.3 385.5h1.8v1.8h-1.8zM173.6 388.5h1.8v1.8h-1.8zM169.7 387.7h1.8v1.8h-1.8zM180.8 387.7h1.8v1.8h-1.8zM175.4 388.3h1.8v1.8h-1.8zM175.7 388.8h1.8v1.8h-1.8zM175.4 388.3h1.8v1.8h-1.8zM174.6 389.1h1.8v1.8h-1.8zM174.1 387.9h1.8v1.8h-1.8zM179.3 387.8h1.8v1.8h-1.8zM176.9 386.8h1.8v1.8h-1.8zM173.2 385.7h1.8v1.8h-1.8zM169.9 387.9h1.8v1.8h-1.8zM175.9 388.4h1.8v1.8h-1.8zM171.1 387.2h1.8v1.8h-1.8zM247.4 335.3h1.8v1.8h-1.8zM251.1 335.3h1.8v1.8h-1.8zM246.7 333.8h1.8v1.8h-1.8zM245.9 334.8h1.8v1.8h-1.8zM244.5 336.7h1.8v1.8h-1.8zM246.3 336.7h1.8v1.8h-1.8zM247.4 336.0h1.8v1.8h-1.8zM243.7 335.8h1.8v1.8h-1.8zM240.6 334.1h1.8v1.8h-1.8zM249.0 340.2h1.8v1.8h-1.8zM246.4 336.4h1.8v1.8h-1.8zM248.8 331.4h1.8v1.8h-1.8zM244.2 335.8h1.8v1.8h-1.8zM242.4 334.9h1.8v1.8h-1.8zM249.4 335.0h1.8v1.8h-1.8zM246.7 337.7h1.8v1.8h-1.8zM245.9 337.4h1.8v1.8h-1.8zM244.6 332.5h1.8v1.8h-1.8zM246.6 337.1h1.8v1.8h-1.8zM241.3 338.6h1.8v1.8h-1.8zM244.0 331.5h1.8v1.8h-1.8zM245.1 336.0h1.8v1.8h-1.8zM241.5 336.5h1.8v1.8h-1.8zM250.6 333.6h1.8v1.8h-1.8zM245.4 337.2h1.8v1.8h-1.8zM249.3 331.0h1.8v1.8h-1.8zM259.2 332.8h1.8v1.8h-1.8zM246.3 334.2h1.8v1.8h-1.8zM244.5 337.1h1.8v1.8h-1.8zM243.2 335.5h1.8v1.8h-1.8zM249.2 332.7h1.8v1.8h-1.8zM252.1 334.6h1.8v1.8h-1.8zM236.1 332.6h1.8v1.8h-1.8zM248.3 336.9h1.8v1.8h-1.8zM252.2 337.3h1.8v1.8h-1.8zM244.9 335.5h1.8v1.8h-1.8zM246.1 335.7h1.8v1.8h-1.8zM237.0 338.3h1.8v1.8h-1.8zM245.7 334.1h1.8v1.8h-1.8zM246.0 337.9h1.8v1.8h-1.8zM240.5 337.9h1.8v1.8h-1.8zM251.2 337.5h1.8v1.8h-1.8zM249.7 337.9h1.8v1.8h-1.8zM241.6 336.8h1.8v1.8h-1.8zM252.1 337.0h1.8v1.8h-1.8zM143.4 302.9h1.8v1.8h-1.8zM142.7 299.8h1.8v1.8h-1.8zM142.5 302.1h1.8v1.8h-1.8zM141.3 303.1h1.8v1.8h-1.8zM144.0 298.8h1.8v1.8h-1.8zM147.4 304.2h1.8v1.8h-1.8zM143.3 305.4h1.8v1.8h-1.8zM143.1 301.6h1.8v1.8h-1.8zM145.0 300.7h1.8v1.8h-1.8zM141.7 304.1h1.8v1.8h-1.8zM140.8 298.5h1.8v1.8h-1.8zM141.2 299.8h1.8v1.8h-1.8zM144.3 299.8h1.8v1.8h-1.8zM140.5 300.9h1.8v1.8h-1.8zM144.6 301.7h1.8v1.8h-1.8zM144.7 304.0h1.8v1.8h-1.8zM146.6 303.9h1.8v1.8h-1.8zM143.4 300.0h1.8v1.8h-1.8zM144.8 298.6h1.8v1.8h-1.8zM143.7 303.9h1.8v1.8h-1.8zM144.5 300.7h1.8v1.8h-1.8zM140.5 299.9h1.8v1.8h-1.8zM146.2 303.4h1.8v1.8h-1.8zM145.6 301.6h1.8v1.8h-1.8zM145.7 302.8h1.8v1.8h-1.8zM145.4 300.3h1.8v1.8h-1.8zM143.9 302.3h1.8v1.8h-1.8zM143.4 300.3h1.8v1.8h-1.8zM146.7 302.0h1.8v1.8h-1.8zM145.5 301.5h1.8v1.8h-1.8zM147.6 299.3h1.8v1.8h-1.8zM145.3 300.8h1.8v1.8h-1.8zM142.7 304.9h1.8v1.8h-1.8zM145.4 303.2h1.8v1.8h-1.8zM142.4 299.6h1.8v1.8h-1.8zM144.3 303.9h1.8v1.8h-1.8zM146.1 302.3h1.8v1.8h-1.8zM145.8 303.9h1.8v1.8h-1.8zM140.8 302.9h1.8v1.8h-1.8zM145.4 305.8h1.8v1.8h-1.8zM141.5 299.8h1.8v1.8h-1.8zM148.8 302.2h1.8v1.8h-1.8zM141.8 302.6h1.8v1.8h-1.8zM142.2 298.6h1.8v1.8h-1.8zM145.2 303.5h1.8v1.8h-1.8zM145.5 306.1h1.8v1.8h-1.8zM143.8 301.7h1.8v1.8h-1.8zM143.3 303.6h1.8v1.8h-1.8zM142.5 305.5h1.8v1.8h-1.8zM144.7 303.7h1.8v1.8h-1.8zM144.9 300.0h1.8v1.8h-1.8zM142.3 304.1h1.8v1.8h-1.8zM143.9 300.3h1.8v1.8h-1.8zM141.0 301.8h1.8v1.8h-1.8zM141.7 298.7h1.8v1.8h-1.8zM144.5 305.0h1.8v1.8h-1.8zM142.6 301.6h1.8v1.8h-1.8zM142.7 301.6h1.8v1.8h-1.8zM144.6 301.3h1.8v1.8h-1.8zM142.9 298.8h1.8v1.8h-1.8zM145.5 302.3h1.8v1.8h-1.8zM143.5 303.1h1.8v1.8h-1.8zM140.8 302.4h1.8v1.8h-1.8zM143.8 302.5h1.8v1.8h-1.8zM141.8 307.9h1.8v1.8h-1.8zM140.1 300.0h1.8v1.8h-1.8zM140.0 300.6h1.8v1.8h-1.8zM145.2 301.9h1.8v1.8h-1.8zM143.7 300.1h1.8v1.8h-1.8zM143.6 301.8h1.8v1.8h-1.8zM145.5 301.8h1.8v1.8h-1.8zM147.8 304.0h1.8v1.8h-1.8zM142.9 302.3h1.8v1.8h-1.8zM144.1 303.1h1.8v1.8h-1.8zM147.6 300.4h1.8v1.8h-1.8zM139.9 301.8h1.8v1.8h-1.8zM145.1 299.3h1.8v1.8h-1.8zM144.6 303.3h1.8v1.8h-1.8zM145.4 304.4h1.8v1.8h-1.8zM143.9 304.1h1.8v1.8h-1.8zM146.5 300.3h1.8v1.8h-1.8zM148.1 302.3h1.8v1.8h-1.8zM143.5 302.7h1.8v1.8h-1.8zM146.1 303.9h1.8v1.8h-1.8zM145.2 302.4h1.8v1.8h-1.8zM145.2 301.2h1.8v1.8h-1.8zM142.1 302.6h1.8v1.8h-1.8zM140.2 303.6h1.8v1.8h-1.8zM142.5 299.7h1.8v1.8h-1.8zM142.9 301.2h1.8v1.8h-1.8zM143.3 304.4h1.8v1.8h-1.8zM144.9 297.8h1.8v1.8h-1.8zM145.0 299.2h1.8v1.8h-1.8zM144.9 299.7h1.8v1.8h-1.8zM147.9 305.1h1.8v1.8h-1.8zM142.4 304.8h1.8v1.8h-1.8zM143.8 302.5h1.8v1.8h-1.8zM142.2 300.8h1.8v1.8h-1.8zM147.5 298.9h1.8v1.8h-1.8zM147.4 301.5h1.8v1.8h-1.8zM146.6 290.1h1.8v1.8h-1.8zM147.7 290.9h1.8v1.8h-1.8zM145.0 293.5h1.8v1.8h-1.8zM144.3 290.4h1.8v1.8h-1.8zM143.9 292.4h1.8v1.8h-1.8zM146.2 292.9h1.8v1.8h-1.8zM145.1 291.9h1.8v1.8h-1.8zM144.2 292.5h1.8v1.8h-1.8zM148.3 293.7h1.8v1.8h-1.8zM148.0 290.4h1.8v1.8h-1.8zM149.4 294.3h1.8v1.8h-1.8zM149.1 290.8h1.8v1.8h-1.8zM148.6 290.9h1.8v1.8h-1.8zM145.4 291.0h1.8v1.8h-1.8zM156.4 280.0h1.8v1.8h-1.8zM154.4 279.9h1.8v1.8h-1.8zM155.5 281.8h1.8v1.8h-1.8zM156.8 281.5h1.8v1.8h-1.8zM157.6 276.9h1.8v1.8h-1.8zM159.1 276.6h1.8v1.8h-1.8zM160.0 275.4h1.8v1.8h-1.8zM155.7 280.6h1.8v1.8h-1.8zM155.5 280.8h1.8v1.8h-1.8zM159.4 283.0h1.8v1.8h-1.8zM156.0 277.7h1.8v1.8h-1.8zM157.5 277.8h1.8v1.8h-1.8zM153.2 279.9h1.8v1.8h-1.8zM155.6 278.4h1.8v1.8h-1.8zM157.5 276.8h1.8v1.8h-1.8zM152.7 278.7h1.8v1.8h-1.8zM212.8 277.7h1.8v1.8h-1.8zM208.2 279.2h1.8v1.8h-1.8zM207.1 277.5h1.8v1.8h-1.8zM206.4 279.4h1.8v1.8h-1.8zM208.2 285.2h1.8v1.8h-1.8zM208.1 282.6h1.8v1.8h-1.8zM206.1 281.8h1.8v1.8h-1.8zM205.7 278.3h1.8v1.8h-1.8zM208.8 278.7h1.8v1.8h-1.8zM209.2 281.4h1.8v1.8h-1.8zM204.5 283.5h1.8v1.8h-1.8zM207.7 284.2h1.8v1.8h-1.8zM207.5 283.7h1.8v1.8h-1.8zM206.6 285.5h1.8v1.8h-1.8zM145.3 327.1h1.8v1.8h-1.8zM144.8 304.3h1.8v1.8h-1.8zM151.2 374.4h1.8v1.8h-1.8zM144.3 301.1h1.8v1.8h-1.8zM147.8 301.3h1.8v1.8h-1.8zM145.8 300.6h1.8v1.8h-1.8zM147.1 344.7h1.8v1.8h-1.8zM145.6 308.9h1.8v1.8h-1.8zM146.4 300.7h1.8v1.8h-1.8zM150.2 339.8h1.8v1.8h-1.8zM152.2 388.0h1.8v1.8h-1.8zM147.4 347.5h1.8v1.8h-1.8zM149.8 365.2h1.8v1.8h-1.8zM150.2 292.5h1.8v1.8h-1.8zM147.0 317.7h1.8v1.8h-1.8zM146.9 347.8h1.8v1.8h-1.8zM153.6 369.4h1.8v1.8h-1.8zM145.1 316.1h1.8v1.8h-1.8zM146.4 293.8h1.8v1.8h-1.8zM149.7 373.7h1.8v1.8h-1.8zM149.2 335.7h1.8v1.8h-1.8zM152.3 386.6h1.8v1.8h-1.8zM148.4 297.0h1.8v1.8h-1.8zM152.4 357.7h1.8v1.8h-1.8zM147.0 302.0h1.8v1.8h-1.8zM147.0 318.0h1.8v1.8h-1.8zM150.4 371.5h1.8v1.8h-1.8zM151.5 367.1h1.8v1.8h-1.8zM147.1 353.4h1.8v1.8h-1.8zM154.1 375.6h1.8v1.8h-1.8zM149.7 362.8h1.8v1.8h-1.8zM153.3 389.2h1.8v1.8h-1.8zM143.1 300.3h1.8v1.8h-1.8zM148.6 381.9h1.8v1.8h-1.8zM148.1 372.3h1.8v1.8h-1.8zM150.6 373.0h1.8v1.8h-1.8zM142.2 317.4h1.8v1.8h-1.8zM151.9 383.8h1.8v1.8h-1.8zM154.4 369.7h1.8v1.8h-1.8zM149.0 311.4h1.8v1.8h-1.8zM147.5 315.0h1.8v1.8h-1.8zM149.9 359.3h1.8v1.8h-1.8zM149.6 368.7h1.8v1.8h-1.8zM149.8 385.1h1.8v1.8h-1.8zM145.9 298.3h1.8v1.8h-1.8zM143.1 325.0h1.8v1.8h-1.8zM149.5 368.8h1.8v1.8h-1.8zM148.8 288.2h1.8v1.8h-1.8zM148.3 332.4h1.8v1.8h-1.8zM144.7 322.4h1.8v1.8h-1.8zM153.3 376.3h1.8v1.8h-1.8zM146.5 297.3h1.8v1.8h-1.8zM149.1 334.9h1.8v1.8h-1.8zM143.0 300.3h1.8v1.8h-1.8zM151.1 372.9h1.8v1.8h-1.8zM153.7 388.0h1.8v1.8h-1.8zM153.1 382.3h1.8v1.8h-1.8zM143.8 331.8h1.8v1.8h-1.8zM146.7 339.7h1.8v1.8h-1.8zM151.6 373.3h1.8v1.8h-1.8zM150.1 286.9h1.8v1.8h-1.8zM150.2 334.7h1.8v1.8h-1.8zM144.7 323.1h1.8v1.8h-1.8zM153.2 378.6h1.8v1.8h-1.8zM152.2 382.9h1.8v1.8h-1.8zM146.5 296.8h1.8v1.8h-1.8zM151.1 388.6h1.8v1.8h-1.8zM150.5 354.6h1.8v1.8h-1.8zM151.0 356.9h1.8v1.8h-1.8zM144.9 325.2h1.8v1.8h-1.8zM151.6 375.2h1.8v1.8h-1.8zM144.4 334.3h1.8v1.8h-1.8zM147.0 363.5h1.8v1.8h-1.8zM145.3 319.6h1.8v1.8h-1.8zM155.4 379.5h1.8v1.8h-1.8zM149.2 346.6h1.8v1.8h-1.8zM151.5 366.1h1.8v1.8h-1.8zM150.0 367.4h1.8v1.8h-1.8zM148.4 329.8h1.8v1.8h-1.8zM151.1 372.0h1.8v1.8h-1.8zM150.9 388.4h1.8v1.8h-1.8zM143.1 315.7h1.8v1.8h-1.8zM153.5 373.3h1.8v1.8h-1.8zM144.1 304.7h1.8v1.8h-1.8zM145.3 304.6h1.8v1.8h-1.8zM144.7 319.2h1.8v1.8h-1.8zM146.6 324.5h1.8v1.8h-1.8zM144.8 308.2h1.8v1.8h-1.8zM149.6 308.8h1.8v1.8h-1.8zM148.0 299.1h1.8v1.8h-1.8zM147.8 326.9h1.8v1.8h-1.8zM145.4 307.8h1.8v1.8h-1.8zM150.6 376.2h1.8v1.8h-1.8zM143.4 319.3h1.8v1.8h-1.8zM148.9 338.4h1.8v1.8h-1.8zM150.1 366.2h1.8v1.8h-1.8zM154.0 384.2h1.8v1.8h-1.8zM148.3 353.4h1.8v1.8h-1.8zM152.4 291.7h1.8v1.8h-1.8zM143.9 323.6h1.8v1.8h-1.8zM145.2 311.6h1.8v1.8h-1.8zM152.0 366.7h1.8v1.8h-1.8zM149.8 370.9h1.8v1.8h-1.8zM149.8 353.1h1.8v1.8h-1.8zM149.4 359.5h1.8v1.8h-1.8zM150.7 385.6h1.8v1.8h-1.8zM144.5 328.2h1.8v1.8h-1.8zM144.2 305.9h1.8v1.8h-1.8zM145.2 343.3h1.8v1.8h-1.8zM142.4 301.8h1.8v1.8h-1.8zM146.8 333.1h1.8v1.8h-1.8zM149.3 358.3h1.8v1.8h-1.8zM146.4 347.8h1.8v1.8h-1.8zM154.6 369.4h1.8v1.8h-1.8zM148.6 357.6h1.8v1.8h-1.8zM150.1 379.6h1.8v1.8h-1.8zM149.8 374.6h1.8v1.8h-1.8zM142.8 301.8h1.8v1.8h-1.8zM145.5 351.5h1.8v1.8h-1.8zM148.6 350.1h1.8v1.8h-1.8zM144.5 309.8h1.8v1.8h-1.8zM150.3 355.9h1.8v1.8h-1.8zM145.5 325.3h1.8v1.8h-1.8zM151.1 375.0h1.8v1.8h-1.8zM148.6 352.6h1.8v1.8h-1.8zM150.2 295.7h1.8v1.8h-1.8zM152.2 369.5h1.8v1.8h-1.8zM147.0 298.9h1.8v1.8h-1.8zM148.3 323.9h1.8v1.8h-1.8zM147.7 310.1h1.8v1.8h-1.8zM150.6 374.5h1.8v1.8h-1.8zM147.0 291.3h1.8v1.8h-1.8zM146.3 340.7h1.8v1.8h-1.8zM148.8 353.6h1.8v1.8h-1.8zM143.9 331.0h1.8v1.8h-1.8zM145.5 308.5h1.8v1.8h-1.8zM147.2 370.3h1.8v1.8h-1.8zM152.2 389.1h1.8v1.8h-1.8zM146.6 303.3h1.8v1.8h-1.8zM151.0 362.5h1.8v1.8h-1.8zM146.2 308.2h1.8v1.8h-1.8zM146.5 308.0h1.8v1.8h-1.8zM144.3 332.8h1.8v1.8h-1.8zM148.3 308.3h1.8v1.8h-1.8zM152.3 358.7h1.8v1.8h-1.8zM151.9 384.7h1.8v1.8h-1.8zM149.1 361.8h1.8v1.8h-1.8zM149.1 288.3h1.8v1.8h-1.8zM146.4 353.4h1.8v1.8h-1.8zM147.3 307.2h1.8v1.8h-1.8zM139.7 317.5h1.8v1.8h-1.8zM141.4 319.4h1.8v1.8h-1.8zM141.4 318.5h1.8v1.8h-1.8zM142.0 317.6h1.8v1.8h-1.8zM138.0 318.3h1.8v1.8h-1.8zM142.6 319.3h1.8v1.8h-1.8zM147.9 338.5h1.8v1.8h-1.8zM147.0 338.0h1.8v1.8h-1.8zM147.2 337.1h1.8v1.8h-1.8zM146.2 336.1h1.8v1.8h-1.8zM146.1 339.1h1.8v1.8h-1.8zM147.7 339.0h1.8v1.8h-1.8zM148.3 337.8h1.8v1.8h-1.8zM146.6 337.5h1.8v1.8h-1.8zM148.5 349.9h1.8v1.8h-1.8zM147.4 348.8h1.8v1.8h-1.8zM148.6 349.4h1.8v1.8h-1.8zM148.5 348.6h1.8v1.8h-1.8zM146.1 349.9h1.8v1.8h-1.8zM146.2 348.7h1.8v1.8h-1.8zM146.2 306.3h1.8v1.8h-1.8zM145.6 305.7h1.8v1.8h-1.8zM147.0 306.8h1.8v1.8h-1.8zM145.1 306.2h1.8v1.8h-1.8zM144.8 304.9h1.8v1.8h-1.8zM150.0 296.1h1.8v1.8h-1.8zM150.9 294.1h1.8v1.8h-1.8zM150.3 295.9h1.8v1.8h-1.8zM152.2 293.9h1.8v1.8h-1.8zM150.5 295.3h1.8v1.8h-1.8zM151.0 293.0h1.8v1.8h-1.8zM141.6 309.9h1.8v1.8h-1.8zM142.6 308.3h1.8v1.8h-1.8zM144.4 309.8h1.8v1.8h-1.8zM142.6 309.4h1.8v1.8h-1.8zM143.1 309.4h1.8v1.8h-1.8zM142.6 310.7h1.8v1.8h-1.8zM140.8 310.9h1.8v1.8h-1.8zM142.2 315.2h1.8v1.8h-1.8zM143.8 315.1h1.8v1.8h-1.8zM142.9 313.7h1.8v1.8h-1.8zM142.8 314.2h1.8v1.8h-1.8zM143.6 314.1h1.8v1.8h-1.8zM143.9 315.9h1.8v1.8h-1.8zM148.8 290.6h1.8v1.8h-1.8zM149.0 289.8h1.8v1.8h-1.8zM149.5 289.0h1.8v1.8h-1.8zM150.3 290.1h1.8v1.8h-1.8zM150.9 288.7h1.8v1.8h-1.8zM150.0 288.6h1.8v1.8h-1.8zM150.2 289.6h1.8v1.8h-1.8zM143.2 300.8h1.8v1.8h-1.8zM144.9 301.0h1.8v1.8h-1.8zM143.3 300.7h1.8v1.8h-1.8zM143.4 302.3h1.8v1.8h-1.8zM155.0 374.6h1.8v1.8h-1.8zM154.5 373.9h1.8v1.8h-1.8zM153.1 374.9h1.8v1.8h-1.8zM153.4 374.3h1.8v1.8h-1.8zM148.7 351.1h1.8v1.8h-1.8zM148.5 352.9h1.8v1.8h-1.8zM149.7 352.9h1.8v1.8h-1.8zM151.6 352.3h1.8v1.8h-1.8zM149.8 351.8h1.8v1.8h-1.8zM150.5 359.1h1.8v1.8h-1.8zM150.5 359.9h1.8v1.8h-1.8zM150.2 360.0h1.8v1.8h-1.8zM151.8 359.9h1.8v1.8h-1.8zM151.3 361.7h1.8v1.8h-1.8zM151.9 360.7h1.8v1.8h-1.8zM149.0 359.7h1.8v1.8h-1.8zM148.7 390.4h1.8v1.8h-1.8zM149.4 391.1h1.8v1.8h-1.8zM150.4 392.2h1.8v1.8h-1.8zM147.9 390.1h1.8v1.8h-1.8zM153.9 369.7h1.8v1.8h-1.8zM153.2 370.4h1.8v1.8h-1.8zM153.3 371.7h1.8v1.8h-1.8zM153.4 369.5h1.8v1.8h-1.8zM149.2 357.8h1.8v1.8h-1.8zM150.1 360.4h1.8v1.8h-1.8zM151.7 358.4h1.8v1.8h-1.8zM150.6 357.1h1.8v1.8h-1.8zM148.4 288.3h1.8v1.8h-1.8zM149.0 287.8h1.8v1.8h-1.8zM146.9 287.3h1.8v1.8h-1.8zM147.7 287.3h1.8v1.8h-1.8zM148.7 287.5h1.8v1.8h-1.8zM147.8 287.4h1.8v1.8h-1.8zM151.1 287.9h1.8v1.8h-1.8zM141.4 362.4h1.8v1.8h-1.8zM139.2 317.6h1.8v1.8h-1.8zM149.7 291.5h1.8v1.8h-1.8zM149.1 312.9h1.8v1.8h-1.8zM150.6 360.5h1.8v1.8h-1.8zM158.1 302.7h1.8v1.8h-1.8zM149.9 332.3h1.8v1.8h-1.8zM143.3 353.7h1.8v1.8h-1.8zM155.4 322.7h1.8v1.8h-1.8zM150.0 372.4h1.8v1.8h-1.8zM165.6 373.2h1.8v1.8h-1.8zM143.4 285.1h1.8v1.8h-1.8zM160.4 307.8h1.8v1.8h-1.8zM141.0 355.3h1.8v1.8h-1.8zM150.6 292.9h1.8v1.8h-1.8zM148.2 358.9h1.8v1.8h-1.8zM146.6 284.8h1.8v1.8h-1.8zM147.0 296.4h1.8v1.8h-1.8zM149.0 357.1h1.8v1.8h-1.8zM155.5 318.0h1.8v1.8h-1.8zM155.7 397.4h1.8v1.8h-1.8zM159.2 407.9h1.8v1.8h-1.8zM157.6 402.9h1.8v1.8h-1.8zM158.0 412.6h1.8v1.8h-1.8zM159.5 415.6h1.8v1.8h-1.8zM158.9 425.3h1.8v1.8h-1.8zM151.9 393.9h1.8v1.8h-1.8zM157.8 415.4h1.8v1.8h-1.8zM153.4 398.5h1.8v1.8h-1.8zM155.8 404.1h1.8v1.8h-1.8zM153.8 396.1h1.8v1.8h-1.8zM161.7 440.3h1.8v1.8h-1.8zM155.3 403.2h1.8v1.8h-1.8zM157.8 434.0h1.8v1.8h-1.8zM153.3 396.0h1.8v1.8h-1.8zM155.0 402.8h1.8v1.8h-1.8zM158.5 401.8h1.8v1.8h-1.8zM160.9 441.1h1.8v1.8h-1.8zM154.3 396.6h1.8v1.8h-1.8zM155.8 402.8h1.8v1.8h-1.8zM152.8 396.5h1.8v1.8h-1.8zM154.8 399.2h1.8v1.8h-1.8zM158.2 416.7h1.8v1.8h-1.8zM160.1 430.6h1.8v1.8h-1.8zM157.5 418.7h1.8v1.8h-1.8zM153.0 398.2h1.8v1.8h-1.8zM155.8 429.0h1.8v1.8h-1.8zM158.8 437.7h1.8v1.8h-1.8zM159.8 422.0h1.8v1.8h-1.8zM155.1 401.5h1.8v1.8h-1.8zM154.9 398.2h1.8v1.8h-1.8zM161.3 420.5h1.8v1.8h-1.8zM158.8 423.6h1.8v1.8h-1.8zM156.0 405.1h1.8v1.8h-1.8zM160.5 444.2h1.8v1.8h-1.8zM159.2 423.1h1.8v1.8h-1.8zM158.6 400.7h1.8v1.8h-1.8zM155.6 402.3h1.8v1.8h-1.8zM156.7 413.6h1.8v1.8h-1.8zM155.1 393.5h1.8v1.8h-1.8zM160.7 432.5h1.8v1.8h-1.8zM155.8 406.4h1.8v1.8h-1.8zM160.3 427.6h1.8v1.8h-1.8zM155.2 397.2h1.8v1.8h-1.8zM154.2 400.4h1.8v1.8h-1.8zM159.8 436.4h1.8v1.8h-1.8zM155.3 401.5h1.8v1.8h-1.8zM156.1 411.3h1.8v1.8h-1.8zM158.4 434.9h1.8v1.8h-1.8zM159.8 440.4h1.8v1.8h-1.8zM160.5 438.5h1.8v1.8h-1.8zM156.3 407.3h1.8v1.8h-1.8zM164.5 437.7h1.8v1.8h-1.8zM161.1 434.7h1.8v1.8h-1.8zM155.6 417.3h1.8v1.8h-1.8zM160.1 427.3h1.8v1.8h-1.8zM158.5 437.1h1.8v1.8h-1.8zM153.4 394.4h1.8v1.8h-1.8zM153.7 401.4h1.8v1.8h-1.8zM154.4 404.8h1.8v1.8h-1.8zM161.0 424.6h1.8v1.8h-1.8zM160.2 425.5h1.8v1.8h-1.8zM160.4 431.4h1.8v1.8h-1.8zM159.5 426.9h1.8v1.8h-1.8zM152.6 398.9h1.8v1.8h-1.8zM154.8 406.4h1.8v1.8h-1.8zM157.3 405.0h1.8v1.8h-1.8zM162.5 437.7h1.8v1.8h-1.8zM159.5 411.2h1.8v1.8h-1.8zM151.8 398.1h1.8v1.8h-1.8zM157.1 404.7h1.8v1.8h-1.8zM157.3 413.0h1.8v1.8h-1.8zM158.9 420.1h1.8v1.8h-1.8zM155.8 410.3h1.8v1.8h-1.8zM153.2 400.9h1.8v1.8h-1.8zM159.4 425.8h1.8v1.8h-1.8zM161.7 440.9h1.8v1.8h-1.8zM155.8 425.9h1.8v1.8h-1.8zM158.2 440.7h1.8v1.8h-1.8zM159.0 407.2h1.8v1.8h-1.8zM162.0 421.1h1.8v1.8h-1.8zM155.7 421.8h1.8v1.8h-1.8zM158.4 419.3h1.8v1.8h-1.8zM152.2 394.6h1.8v1.8h-1.8zM159.6 426.5h1.8v1.8h-1.8zM155.9 406.2h1.8v1.8h-1.8zM147.8 390.6h1.8v1.8h-1.8zM162.9 440.9h1.8v1.8h-1.8zM159.3 419.0h1.8v1.8h-1.8zM159.3 416.3h1.8v1.8h-1.8zM154.3 395.8h1.8v1.8h-1.8zM159.6 424.0h1.8v1.8h-1.8zM158.6 432.5h1.8v1.8h-1.8zM156.2 415.9h1.8v1.8h-1.8zM162.1 419.8h1.8v1.8h-1.8zM159.8 428.7h1.8v1.8h-1.8zM157.4 402.8h1.8v1.8h-1.8zM150.8 397.3h1.8v1.8h-1.8zM159.1 427.3h1.8v1.8h-1.8zM152.7 402.1h1.8v1.8h-1.8zM159.9 420.2h1.8v1.8h-1.8zM159.4 420.2h1.8v1.8h-1.8zM157.3 404.1h1.8v1.8h-1.8zM160.0 419.1h1.8v1.8h-1.8zM159.4 428.7h1.8v1.8h-1.8zM160.5 425.1h1.8v1.8h-1.8zM157.9 437.7h1.8v1.8h-1.8zM160.7 425.7h1.8v1.8h-1.8zM156.6 403.0h1.8v1.8h-1.8zM156.5 426.3h1.8v1.8h-1.8zM157.0 408.0h1.8v1.8h-1.8zM155.8 408.2h1.8v1.8h-1.8zM154.8 408.4h1.8v1.8h-1.8zM157.6 409.1h1.8v1.8h-1.8zM154.7 408.2h1.8v1.8h-1.8zM156.5 407.7h1.8v1.8h-1.8zM154.4 408.5h1.8v1.8h-1.8zM155.2 409.3h1.8v1.8h-1.8zM155.6 408.7h1.8v1.8h-1.8zM153.7 394.3h1.8v1.8h-1.8zM153.0 395.7h1.8v1.8h-1.8zM152.3 394.3h1.8v1.8h-1.8zM150.9 396.2h1.8v1.8h-1.8zM152.9 393.4h1.8v1.8h-1.8zM153.0 398.6h1.8v1.8h-1.8zM155.6 399.0h1.8v1.8h-1.8zM153.9 398.1h1.8v1.8h-1.8zM152.3 399.3h1.8v1.8h-1.8zM154.8 398.2h1.8v1.8h-1.8zM153.2 399.7h1.8v1.8h-1.8zM153.1 396.1h1.8v1.8h-1.8zM155.1 395.6h1.8v1.8h-1.8zM153.6 395.4h1.8v1.8h-1.8zM153.4 397.3h1.8v1.8h-1.8zM152.7 395.6h1.8v1.8h-1.8zM153.8 395.7h1.8v1.8h-1.8zM155.2 408.5h1.8v1.8h-1.8zM154.6 407.0h1.8v1.8h-1.8zM156.6 409.5h1.8v1.8h-1.8zM151.8 408.0h1.8v1.8h-1.8zM153.9 408.8h1.8v1.8h-1.8zM152.9 408.1h1.8v1.8h-1.8zM154.6 408.8h1.8v1.8h-1.8zM155.0 401.8h1.8v1.8h-1.8zM156.9 404.2h1.8v1.8h-1.8zM156.7 400.8h1.8v1.8h-1.8zM157.9 402.0h1.8v1.8h-1.8zM156.7 401.8h1.8v1.8h-1.8zM154.9 401.5h1.8v1.8h-1.8zM163.7 432.8h1.8v1.8h-1.8zM159.7 433.9h1.8v1.8h-1.8zM162.7 433.1h1.8v1.8h-1.8zM161.5 436.6h1.8v1.8h-1.8zM161.5 435.7h1.8v1.8h-1.8zM161.1 435.4h1.8v1.8h-1.8zM160.0 437.3h1.8v1.8h-1.8z" fill="#f00"/>
<polyline points="54.6,408.6 68.4,383.7 72.0,383.5 80.2,385.1 91.2,387.0 114.9,389.1 133.2,390.7 152.6,391.6 187.3,394.7 191.0,393.2 192.8,388.3 198.3,375.3 201.5,369.6 204.5,363.5 214.7,352.1 227.5,336.2 240.9,318.1 233.0,315.0 218.3,309.4 200.1,302.8 181.9,297.1 163.6,292.3 149.5,290.1 144.4,290.7 145.1,302.1 146.9,329.5 150.7,359.0 154.6,374.9 155.4,378.5 155.4,391.6 158.1,404.5 159.9,420.6 162.7,446.0" fill="none" stroke="#000" stroke-width="1.8" stroke-linejoin="round" stroke-linecap="round" />
<polyline points="62.5,396.5 57.0,402.0 53.5,406.5" fill="none" stroke="#1ab3c4" stroke-width="1.2" stroke-linejoin="round" stroke-linecap="round" stroke-opacity="1"/>
<polyline points="54.0,407.5 58.0,409.0 62.0,411.0" fill="none" stroke="#1ab3c4" stroke-width="1.3" stroke-linejoin="round" stroke-linecap="round" stroke-opacity="1"/>
<polygon points="49.6,402.2 54.0,404.6 56.4,411.0 55.6,417.3 52.4,422.1 54.0,424.5 53.2,425.8 50.0,425.5 48.4,426.1 46.8,429.3 45.6,432.5 44.4,432.5 44.8,426.9 45.6,419.7 47.6,415.0 50.0,409.4 49.2,405.4" fill="#3d2fa6" fill-opacity="1"/>
<polygon points="66.5,387.2 69.0,383.0 71.5,379.2 74.0,378.8 77.0,380.6 80.0,382.8 82.5,384.6 86.0,386.0 86.0,388.0 75.0,388.0 68.0,388.5" fill="#1ab3c4" fill-opacity="1"/>
<polyline points="82.0,388.9 98.5,390.5 120.0,391.4 140.0,392.2" fill="none" stroke="#1ab3c4" stroke-width="3.0" stroke-linejoin="round" stroke-linecap="round" stroke-opacity="1"/>
<polyline points="140.0,392.2 153.0,392.9 166.0,393.6 179.0,394.1 188.0,394.2" fill="none" stroke="#2fbfa6" stroke-width="3.0" stroke-linejoin="round" stroke-linecap="round" stroke-opacity="1"/>
<polyline points="188.0,394.5 193.0,391.5 195.5,386.0 196.5,380.0 198.0,375.0 201.0,369.5 205.0,364.0" fill="none" stroke="#2fbfa6" stroke-width="2.6" stroke-linejoin="round" stroke-linecap="round" stroke-opacity="1"/>
<polyline points="205.0,367.0 208.0,358.0 212.0,352.0 217.5,346.5 224.0,343.0 231.0,340.2 240.0,338.2 248.0,335.5" fill="none" stroke="#86c440" stroke-width="2.6" stroke-linejoin="round" stroke-linecap="round" stroke-opacity="1"/>
<polygon points="246.0,329.0 251.0,331.5 256.5,333.5 253.0,336.5 247.5,338.5 245.0,335.0" fill="#86c440" fill-opacity="1"/>
<polyline points="241.0,320.0 237.0,314.3 230.0,310.6 222.0,308.8 215.0,306.6 208.0,303.5 201.0,299.6" fill="none" stroke="#86c440" stroke-width="2.4" stroke-linejoin="round" stroke-linecap="round" stroke-opacity="1"/>
<polygon points="231.0,312.0 233.5,307.5 235.5,306.8 237.5,309.0 239.5,314.0 236.0,315.0 232.0,313.8" fill="#86c440" fill-opacity="1"/>
<polygon points="136.0,288.0 139.0,285.8 145.0,284.8 155.0,284.4 165.0,284.5 175.0,284.9 183.0,285.8 189.0,287.2 193.0,288.6 196.0,290.0 199.0,291.0 201.5,293.5 202.5,297.5 203.0,301.5 200.0,300.5 196.0,297.5 192.0,295.5 185.0,292.5 178.0,290.5 165.0,290.0 150.0,290.2 140.0,290.3 136.0,289.5" fill="#bab22a" fill-opacity="1"/>
<polygon points="192.0,291.0 196.0,292.5 199.0,295.5 200.5,300.0 200.0,303.0 197.5,302.0 195.0,298.5 192.5,294.5" fill="#bab22a" fill-opacity="1"/>
<polyline points="152.0,290.0 154.0,294.0 153.5,298.0 152.0,302.0 151.0,306.0" fill="none" stroke="#bab22a" stroke-width="3.2" stroke-linejoin="round" stroke-linecap="round" stroke-opacity="1"/>
<polyline points="149.8,305.0 149.6,315.0 149.4,330.0 149.8,345.0 151.5,358.0 154.0,366.0 156.0,373.0 155.0,385.0 153.8,393.0 152.5,401.0 155.0,407.0 156.0,410.0" fill="none" stroke="#f2e41c" stroke-width="1.6" stroke-linejoin="round" stroke-linecap="round" stroke-opacity="1"/>
<path d="M52.4 411.0C52.7 410.3 52.1 409.7 54.0 407.0C55.8 404.3 60.6 398.2 63.5 394.9C66.4 391.6 68.3 388.5 71.2 387.3C74.1 386.1 76.4 387.5 81.0 387.9C85.5 388.3 91.9 389.3 98.5 389.8C105.0 390.2 113.4 390.3 120.3 390.6C127.2 390.9 134.5 391.2 140.0 391.4C145.5 391.6 148.7 391.8 153.1 392.0C157.5 392.2 161.8 392.5 166.2 392.7C170.6 392.9 175.3 393.4 179.3 393.1C183.3 392.9 187.5 392.2 190.0 391.2C192.5 390.2 193.2 389.2 194.5 387.1C195.7 385.0 195.9 381.9 197.4 378.7C198.8 375.6 200.9 372.0 203.2 368.0C205.5 364.0 208.4 358.3 211.0 354.8C213.6 351.3 216.3 349.2 218.9 347.0C221.5 344.8 223.3 343.2 226.8 341.7C230.3 340.1 236.5 338.8 240.0 337.7C243.5 336.6 246.8 336.6 247.9 335.1C249.0 333.6 247.2 330.9 246.6 328.5C245.9 326.1 245.1 322.6 244.0 320.6C242.9 318.6 242.9 318.2 240.0 316.7C237.1 315.2 231.0 312.9 226.8 311.4C222.6 309.9 219.2 309.5 215.0 307.7C210.9 305.9 205.5 303.1 201.9 300.8C198.3 298.5 197.1 296.0 193.2 294.0C189.3 292.0 183.1 289.8 178.6 288.9C174.1 288.0 171.2 288.7 166.3 288.7C161.4 288.8 151.8 288.2 149.2 289.1C146.6 290.0 150.9 292.3 150.5 294.3C150.1 296.3 147.3 296.5 146.6 300.9C146.0 305.3 146.4 312.9 146.6 320.6C146.8 328.3 147.0 339.5 147.9 347.0C148.8 354.5 150.9 359.3 151.8 365.4C152.7 371.5 152.9 379.3 153.2 383.8C153.5 388.4 153.0 389.4 153.5 392.7C154.0 396.0 155.6 399.6 156.4 403.6C157.2 407.6 157.8 412.3 158.5 416.7C159.2 421.1 160.3 425.3 160.7 429.8C161.2 434.4 161.1 441.6 161.2 444.0" fill="none" stroke="#00f" stroke-width="1.9" stroke-linejoin="round" stroke-linecap="round" />
<line x1="33.20" y1="451.20" x2="33.20" y2="449.00" stroke="#6a6a6a" stroke-width="0.6"/>
<line x1="33.20" y1="267.50" x2="33.20" y2="269.70" stroke="#6a6a6a" stroke-width="0.6"/>
<line x1="62.41" y1="451.20" x2="62.41" y2="449.00" stroke="#6a6a6a" stroke-width="0.6"/>
<line x1="62.41" y1="267.50" x2="62.41" y2="269.70" stroke="#6a6a6a" stroke-width="0.6"/>
<line x1="91.62" y1="451.20" x2="91.62" y2="449.00" stroke="#6a6a6a" stroke-width="0.6"/>
<line x1="91.62" y1="267.50" x2="91.62" y2="269.70" stroke="#6a6a6a" stroke-width="0.6"/>
<line x1="120.84" y1="451.20" x2="120.84" y2="449.00" stroke="#6a6a6a" stroke-width="0.6"/>
<line x1="120.84" y1="267.50" x2="120.84" y2="269.70" stroke="#6a6a6a" stroke-width="0.6"/>
<line x1="150.05" y1="451.20" x2="150.05" y2="449.00" stroke="#6a6a6a" stroke-width="0.6"/>
<line x1="150.05" y1="267.50" x2="150.05" y2="269.70" stroke="#6a6a6a" stroke-width="0.6"/>
<line x1="179.26" y1="451.20" x2="179.26" y2="449.00" stroke="#6a6a6a" stroke-width="0.6"/>
<line x1="179.26" y1="267.50" x2="179.26" y2="269.70" stroke="#6a6a6a" stroke-width="0.6"/>
<line x1="208.48" y1="451.20" x2="208.48" y2="449.00" stroke="#6a6a6a" stroke-width="0.6"/>
<line x1="208.48" y1="267.50" x2="208.48" y2="269.70" stroke="#6a6a6a" stroke-width="0.6"/>
<line x1="237.69" y1="451.20" x2="237.69" y2="449.00" stroke="#6a6a6a" stroke-width="0.6"/>
<line x1="237.69" y1="267.50" x2="237.69" y2="269.70" stroke="#6a6a6a" stroke-width="0.6"/>
<line x1="266.90" y1="451.20" x2="266.90" y2="449.00" stroke="#6a6a6a" stroke-width="0.6"/>
<line x1="266.90" y1="267.50" x2="266.90" y2="269.70" stroke="#6a6a6a" stroke-width="0.6"/>
<line x1="33.20" y1="451.20" x2="35.40" y2="451.20" stroke="#6a6a6a" stroke-width="0.6"/>
<line x1="266.90" y1="451.20" x2="264.70" y2="451.20" stroke="#6a6a6a" stroke-width="0.6"/>
<line x1="33.20" y1="430.79" x2="35.40" y2="430.79" stroke="#6a6a6a" stroke-width="0.6"/>
<line x1="266.90" y1="430.79" x2="264.70" y2="430.79" stroke="#6a6a6a" stroke-width="0.6"/>
<line x1="33.20" y1="410.38" x2="35.40" y2="410.38" stroke="#6a6a6a" stroke-width="0.6"/>
<line x1="266.90" y1="410.38" x2="264.70" y2="410.38" stroke="#6a6a6a" stroke-width="0.6"/>
<line x1="33.20" y1="389.97" x2="35.40" y2="389.97" stroke="#6a6a6a" stroke-width="0.6"/>
<line x1="266.90" y1="389.97" x2="264.70" y2="389.97" stroke="#6a6a6a" stroke-width="0.6"/>
<line x1="33.20" y1="369.56" x2="35.40" y2="369.56" stroke="#6a6a6a" stroke-width="0.6"/>
<line x1="266.90" y1="369.56" x2="264.70" y2="369.56" stroke="#6a6a6a" stroke-width="0.6"/>
<line x1="33.20" y1="349.14" x2="35.40" y2="349.14" stroke="#6a6a6a" stroke-width="0.6"/>
<line x1="266.90" y1="349.14" x2="264.70" y2="349.14" stroke="#6a6a6a" stroke-width="0.6"/>
<line x1="33.20" y1="328.73" x2="35.40" y2="328.73" stroke="#6a6a6a" stroke-width="0.6"/>
<line x1="266.90" y1="328.73" x2="264.70" y2="328.73" stroke="#6a6a6a" stroke-width="0.6"/>
<line x1="33.20" y1="308.32" x2="35.40" y2="308.32" stroke="#6a6a6a" stroke-width="0.6"/>
<line x1="266.90" y1="308.32" x2="264.70" y2="308.32" stroke="#6a6a6a" stroke-width="0.6"/>
<line x1="33.20" y1="287.91" x2="35.40" y2="287.91" stroke="#6a6a6a" stroke-width="0.6"/>
<line x1="266.90" y1="287.91" x2="264.70" y2="287.91" stroke="#6a6a6a" stroke-width="0.6"/>
<line x1="33.20" y1="267.50" x2="35.40" y2="267.50" stroke="#6a6a6a" stroke-width="0.6"/>
<line x1="266.90" y1="267.50" x2="264.70" y2="267.50" stroke="#6a6a6a" stroke-width="0.6"/>
<rect x="33.20" y="267.50" width="233.70" height="183.70" fill="none" stroke="#6a6a6a" stroke-width="1.25"/>
<rect x="38.9" y="273.1" width="87.40" height="28.10" fill="#fff" stroke="#6a6a6a" stroke-width="0.8"/>
<line x1="41.10" y1="277.78" x2="62.70" y2="277.78" stroke="#000" stroke-width="1.6"/>
<text transform="translate(64.2,280.08) scale(1,1.05)" class="lg">Real Trajectory</text>
<rect x="50.90" y="286.25" width="1.8" height="1.8" fill="#f00"/>
<text transform="translate(64.2,289.45) scale(1,1.05)" class="lg">EKF Solution</text>
<line x1="41.10" y1="296.52" x2="62.70" y2="296.52" stroke="#00f" stroke-width="1.6"/>
<text transform="translate(64.2,298.82) scale(1,1.05)" class="lg">Optimized Trajectory</text>
<text transform="translate(33.20,461.80) scale(1,1.07)" text-anchor="middle" class="tk">-100</text>
<text transform="translate(62.41,461.80) scale(1,1.07)" text-anchor="middle" class="tk">0</text>
<text transform="translate(91.62,461.80) scale(1,1.07)" text-anchor="middle" class="tk">100</text>
<text transform="translate(120.84,461.80) scale(1,1.07)" text-anchor="middle" class="tk">200</text>
<text transform="translate(150.05,461.80) scale(1,1.07)" text-anchor="middle" class="tk">300</text>
<text transform="translate(179.26,461.80) scale(1,1.07)" text-anchor="middle" class="tk">400</text>
<text transform="translate(208.48,461.80) scale(1,1.07)" text-anchor="middle" class="tk">500</text>
<text transform="translate(237.69,461.80) scale(1,1.07)" text-anchor="middle" class="tk">600</text>
<text transform="translate(266.90,461.80) scale(1,1.07)" text-anchor="middle" class="tk">700</text>
<text transform="translate(29.80,455.40) scale(1,1.07)" text-anchor="end" class="tk">-100</text>
<text transform="translate(29.80,434.99) scale(1,1.07)" text-anchor="end" class="tk">0</text>
<text transform="translate(29.80,414.58) scale(1,1.07)" text-anchor="end" class="tk">100</text>
<text transform="translate(29.80,394.17) scale(1,1.07)" text-anchor="end" class="tk">200</text>
<text transform="translate(29.80,373.76) scale(1,1.07)" text-anchor="end" class="tk">300</text>
<text transform="translate(29.80,353.34) scale(1,1.07)" text-anchor="end" class="tk">400</text>
<text transform="translate(29.80,332.93) scale(1,1.07)" text-anchor="end" class="tk">500</text>
<text transform="translate(29.80,312.52) scale(1,1.07)" text-anchor="end" class="tk">600</text>
<text transform="translate(29.80,292.11) scale(1,1.07)" text-anchor="end" class="tk">700</text>
<text transform="translate(29.80,271.70) scale(1,1.07)" text-anchor="end" class="tk">800</text>
<text transform="translate(150.05,472.70) scale(1,1.07)" text-anchor="middle" class="al">X/m</text>
<text transform="translate(11.70,359.35) rotate(-90)" x="0" y="0" text-anchor="middle" class="al">Y/m</text>
<text transform="translate(141.7,491.4) scale(1,1.06)" text-anchor="middle" class="cap">(c)</text>
<line x1="337.56" y1="269.50" x2="337.56" y2="452.20" stroke="#e2e2e2" stroke-width="0.7"/>
<line x1="366.62" y1="269.50" x2="366.62" y2="452.20" stroke="#e2e2e2" stroke-width="0.7"/>
<line x1="395.69" y1="269.50" x2="395.69" y2="452.20" stroke="#e2e2e2" stroke-width="0.7"/>
<line x1="424.75" y1="269.50" x2="424.75" y2="452.20" stroke="#e2e2e2" stroke-width="0.7"/>
<line x1="453.81" y1="269.50" x2="453.81" y2="452.20" stroke="#e2e2e2" stroke-width="0.7"/>
<line x1="482.88" y1="269.50" x2="482.88" y2="452.20" stroke="#e2e2e2" stroke-width="0.7"/>
<line x1="511.94" y1="269.50" x2="511.94" y2="452.20" stroke="#e2e2e2" stroke-width="0.7"/>
<line x1="308.50" y1="429.36" x2="541.00" y2="429.36" stroke="#e2e2e2" stroke-width="0.7"/>
<line x1="308.50" y1="406.52" x2="541.00" y2="406.52" stroke="#e2e2e2" stroke-width="0.7"/>
<line x1="308.50" y1="383.69" x2="541.00" y2="383.69" stroke="#e2e2e2" stroke-width="0.7"/>
<line x1="308.50" y1="360.85" x2="541.00" y2="360.85" stroke="#e2e2e2" stroke-width="0.7"/>
<line x1="308.50" y1="338.01" x2="541.00" y2="338.01" stroke="#e2e2e2" stroke-width="0.7"/>
<line x1="308.50" y1="315.17" x2="541.00" y2="315.17" stroke="#e2e2e2" stroke-width="0.7"/>
<line x1="308.50" y1="292.34" x2="541.00" y2="292.34" stroke="#e2e2e2" stroke-width="0.7"/>
<polyline points="329.8,404.5 343.5,376.7 347.1,376.4 355.3,378.2 366.2,380.4 389.8,382.7 408.0,384.5 427.3,385.5 461.8,389.0 465.5,387.3 467.3,381.8 472.7,367.3 475.9,360.9 478.9,354.1 489.1,341.3 501.8,323.5 515.1,303.3 507.3,299.8 492.7,293.5 474.5,286.2 456.4,279.8 438.2,274.4 424.2,271.9 419.1,272.6 419.8,285.4 421.6,316.0 425.4,349.0 429.3,366.8 430.0,370.9 430.0,385.5 432.7,400.0 434.5,418.0 437.3,446.4" fill="none" stroke="#000" stroke-width="1.9" stroke-linejoin="round" stroke-linecap="round" />
<path d="M329.5 405.8C329.8 405.0 330.0 403.1 331.5 400.9C333.1 398.7 336.1 395.2 338.9 392.7C341.6 390.1 344.9 387.2 348.0 385.4C351.0 383.7 354.1 382.7 357.1 382.1C360.1 381.6 361.6 381.9 366.2 382.1C370.7 382.4 377.4 382.7 384.4 383.5C391.4 384.4 400.9 386.7 408.0 387.3C415.2 387.8 419.6 386.8 427.4 387.0C435.1 387.1 448.6 388.3 454.6 388.2C460.7 388.1 461.6 387.3 463.7 386.3C465.9 385.4 465.6 385.5 467.4 382.6C469.3 379.7 472.5 372.7 474.7 368.9C476.8 365.1 477.7 363.6 480.1 359.8C482.6 356.1 485.5 350.2 489.2 346.2C492.8 342.2 497.7 339.2 502.0 336.0C506.2 332.8 512.2 330.0 514.7 327.0C517.2 324.0 517.2 320.8 517.2 318.1C517.2 315.3 517.2 313.9 514.7 310.4C512.2 307.0 508.3 302.1 502.0 297.6C495.6 293.1 484.9 287.4 476.5 283.5C468.0 279.7 458.2 276.5 451.0 274.7C443.8 273.0 437.5 272.9 433.1 272.9C428.6 272.9 426.5 272.8 424.3 274.7C422.0 276.6 420.4 280.6 419.7 284.3C418.9 288.1 419.7 293.5 419.9 297.4C420.2 301.3 421.1 304.0 421.2 307.7C421.3 311.4 420.4 315.7 420.5 319.4C420.6 323.1 420.7 325.1 421.7 330.0C422.7 334.9 425.7 341.3 426.8 348.8C427.9 356.3 428.0 368.8 428.1 374.9C428.2 381.0 426.7 380.0 427.4 385.4C428.0 390.9 430.8 401.6 431.9 407.3C433.0 413.1 433.6 414.1 433.7 420.1C433.9 426.0 433.0 439.1 432.8 442.9" fill="none" stroke="#00f" stroke-width="1.9" stroke-linejoin="round" stroke-linecap="round" />
<circle cx="419.7" cy="284.3" r="2.5" fill="none" stroke="#00f" stroke-width="1.2"/>
<line x1="308.50" y1="452.20" x2="308.50" y2="450.00" stroke="#6a6a6a" stroke-width="0.6"/>
<line x1="308.50" y1="269.50" x2="308.50" y2="271.70" stroke="#6a6a6a" stroke-width="0.6"/>
<line x1="337.56" y1="452.20" x2="337.56" y2="450.00" stroke="#6a6a6a" stroke-width="0.6"/>
<line x1="337.56" y1="269.50" x2="337.56" y2="271.70" stroke="#6a6a6a" stroke-width="0.6"/>
<line x1="366.62" y1="452.20" x2="366.62" y2="450.00" stroke="#6a6a6a" stroke-width="0.6"/>
<line x1="366.62" y1="269.50" x2="366.62" y2="271.70" stroke="#6a6a6a" stroke-width="0.6"/>
<line x1="395.69" y1="452.20" x2="395.69" y2="450.00" stroke="#6a6a6a" stroke-width="0.6"/>
<line x1="395.69" y1="269.50" x2="395.69" y2="271.70" stroke="#6a6a6a" stroke-width="0.6"/>
<line x1="424.75" y1="452.20" x2="424.75" y2="450.00" stroke="#6a6a6a" stroke-width="0.6"/>
<line x1="424.75" y1="269.50" x2="424.75" y2="271.70" stroke="#6a6a6a" stroke-width="0.6"/>
<line x1="453.81" y1="452.20" x2="453.81" y2="450.00" stroke="#6a6a6a" stroke-width="0.6"/>
<line x1="453.81" y1="269.50" x2="453.81" y2="271.70" stroke="#6a6a6a" stroke-width="0.6"/>
<line x1="482.88" y1="452.20" x2="482.88" y2="450.00" stroke="#6a6a6a" stroke-width="0.6"/>
<line x1="482.88" y1="269.50" x2="482.88" y2="271.70" stroke="#6a6a6a" stroke-width="0.6"/>
<line x1="511.94" y1="452.20" x2="511.94" y2="450.00" stroke="#6a6a6a" stroke-width="0.6"/>
<line x1="511.94" y1="269.50" x2="511.94" y2="271.70" stroke="#6a6a6a" stroke-width="0.6"/>
<line x1="541.00" y1="452.20" x2="541.00" y2="450.00" stroke="#6a6a6a" stroke-width="0.6"/>
<line x1="541.00" y1="269.50" x2="541.00" y2="271.70" stroke="#6a6a6a" stroke-width="0.6"/>
<line x1="308.50" y1="452.20" x2="310.70" y2="452.20" stroke="#6a6a6a" stroke-width="0.6"/>
<line x1="541.00" y1="452.20" x2="538.80" y2="452.20" stroke="#6a6a6a" stroke-width="0.6"/>
<line x1="308.50" y1="429.36" x2="310.70" y2="429.36" stroke="#6a6a6a" stroke-width="0.6"/>
<line x1="541.00" y1="429.36" x2="538.80" y2="429.36" stroke="#6a6a6a" stroke-width="0.6"/>
<line x1="308.50" y1="406.52" x2="310.70" y2="406.52" stroke="#6a6a6a" stroke-width="0.6"/>
<line x1="541.00" y1="406.52" x2="538.80" y2="406.52" stroke="#6a6a6a" stroke-width="0.6"/>
<line x1="308.50" y1="383.69" x2="310.70" y2="383.69" stroke="#6a6a6a" stroke-width="0.6"/>
<line x1="541.00" y1="383.69" x2="538.80" y2="383.69" stroke="#6a6a6a" stroke-width="0.6"/>
<line x1="308.50" y1="360.85" x2="310.70" y2="360.85" stroke="#6a6a6a" stroke-width="0.6"/>
<line x1="541.00" y1="360.85" x2="538.80" y2="360.85" stroke="#6a6a6a" stroke-width="0.6"/>
<line x1="308.50" y1="338.01" x2="310.70" y2="338.01" stroke="#6a6a6a" stroke-width="0.6"/>
<line x1="541.00" y1="338.01" x2="538.80" y2="338.01" stroke="#6a6a6a" stroke-width="0.6"/>
<line x1="308.50" y1="315.17" x2="310.70" y2="315.17" stroke="#6a6a6a" stroke-width="0.6"/>
<line x1="541.00" y1="315.17" x2="538.80" y2="315.17" stroke="#6a6a6a" stroke-width="0.6"/>
<line x1="308.50" y1="292.34" x2="310.70" y2="292.34" stroke="#6a6a6a" stroke-width="0.6"/>
<line x1="541.00" y1="292.34" x2="538.80" y2="292.34" stroke="#6a6a6a" stroke-width="0.6"/>
<line x1="308.50" y1="269.50" x2="310.70" y2="269.50" stroke="#6a6a6a" stroke-width="0.6"/>
<line x1="541.00" y1="269.50" x2="538.80" y2="269.50" stroke="#6a6a6a" stroke-width="0.6"/>
<rect x="308.50" y="269.50" width="232.50" height="182.70" fill="none" stroke="#6a6a6a" stroke-width="1.25"/>
<rect x="314.1" y="275.4" width="85.10" height="18.80" fill="#fff" stroke="#6a6a6a" stroke-width="0.8"/>
<line x1="316.30" y1="280.10" x2="337.90" y2="280.10" stroke="#000" stroke-width="1.6"/>
<text transform="translate(339.5,282.40) scale(1,1.05)" class="lg">Real Trajectory</text>
<line x1="316.30" y1="289.50" x2="337.90" y2="289.50" stroke="#00f" stroke-width="1.6"/>
<text transform="translate(339.5,291.80) scale(1,1.05)" class="lg">Predicted Trajectory</text>
<text transform="translate(308.50,462.80) scale(1,1.07)" text-anchor="middle" class="tk">-100</text>
<text transform="translate(337.56,462.80) scale(1,1.07)" text-anchor="middle" class="tk">0</text>
<text transform="translate(366.62,462.80) scale(1,1.07)" text-anchor="middle" class="tk">100</text>
<text transform="translate(395.69,462.80) scale(1,1.07)" text-anchor="middle" class="tk">200</text>
<text transform="translate(424.75,462.80) scale(1,1.07)" text-anchor="middle" class="tk">300</text>
<text transform="translate(453.81,462.80) scale(1,1.07)" text-anchor="middle" class="tk">400</text>
<text transform="translate(482.88,462.80) scale(1,1.07)" text-anchor="middle" class="tk">500</text>
<text transform="translate(511.94,462.80) scale(1,1.07)" text-anchor="middle" class="tk">600</text>
<text transform="translate(541.00,462.80) scale(1,1.07)" text-anchor="middle" class="tk">700</text>
<text transform="translate(305.10,456.40) scale(1,1.07)" text-anchor="end" class="tk">-100</text>
<text transform="translate(305.10,433.56) scale(1,1.07)" text-anchor="end" class="tk">0</text>
<text transform="translate(305.10,410.72) scale(1,1.07)" text-anchor="end" class="tk">100</text>
<text transform="translate(305.10,387.89) scale(1,1.07)" text-anchor="end" class="tk">200</text>
<text transform="translate(305.10,365.05) scale(1,1.07)" text-anchor="end" class="tk">300</text>
<text transform="translate(305.10,342.21) scale(1,1.07)" text-anchor="end" class="tk">400</text>
<text transform="translate(305.10,319.37) scale(1,1.07)" text-anchor="end" class="tk">500</text>
<text transform="translate(305.10,296.54) scale(1,1.07)" text-anchor="end" class="tk">600</text>
<text transform="translate(305.10,273.70) scale(1,1.07)" text-anchor="end" class="tk">700</text>
<text transform="translate(424.75,473.70) scale(1,1.07)" text-anchor="middle" class="al">X/m</text>
<text transform="translate(287.00,360.85) rotate(-90)" x="0" y="0" text-anchor="middle" class="al">Y/m</text>
<text transform="translate(416.7,491.6) scale(1,1.06)" text-anchor="middle" class="cap">(d)</text>
</svg></div>
</body></html>
